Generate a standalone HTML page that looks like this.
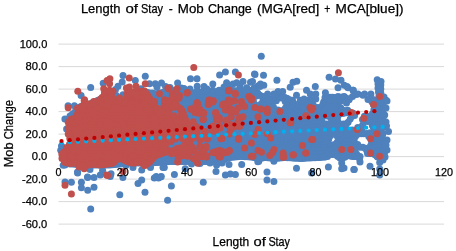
<!DOCTYPE html><html><head><meta charset="utf-8"><title>Length of Stay - Mob Change</title>
<style>html,body{margin:0;padding:0;background:#fff}svg{display:block}text{font-family:"Liberation Sans",sans-serif;fill:#000;stroke:#000;stroke-width:.25px}</style></head><body>
<svg width="456" height="251" viewBox="0 0 456 251">
<rect width="456" height="251" fill="#fff"/>
<rect x="58.5" y="223.60" width="385.5" height="1" fill="#d9d9d9"/>
<rect x="58.5" y="201.10" width="385.5" height="1" fill="#d9d9d9"/>
<rect x="58.5" y="178.60" width="385.5" height="1" fill="#d9d9d9"/>
<rect x="58.5" y="156.10" width="385.5" height="1" fill="#d9d9d9"/>
<rect x="58.5" y="133.60" width="385.5" height="1" fill="#d9d9d9"/>
<rect x="58.5" y="111.10" width="385.5" height="1" fill="#d9d9d9"/>
<rect x="58.5" y="88.60" width="385.5" height="1" fill="#d9d9d9"/>
<rect x="58.5" y="66.10" width="385.5" height="1" fill="#d9d9d9"/>
<rect x="58.5" y="43.60" width="385.5" height="1" fill="#d9d9d9"/>
<g fill="#4f81bd">
<circle cx="177.5" cy="90.2" r="3.5"/>
<circle cx="137.2" cy="92.2" r="3.5"/>
<circle cx="139.8" cy="92.9" r="3.5"/>
<circle cx="142.8" cy="92.5" r="3.5"/>
<circle cx="146.8" cy="92.9" r="3.5"/>
<circle cx="163.0" cy="93.2" r="3.5"/>
<circle cx="166.2" cy="92.6" r="3.5"/>
<circle cx="169.3" cy="92.5" r="3.5"/>
<circle cx="171.9" cy="92.6" r="3.5"/>
<circle cx="175.8" cy="93.2" r="3.5"/>
<circle cx="178.2" cy="92.5" r="3.5"/>
<circle cx="181.5" cy="92.5" r="3.5"/>
<circle cx="184.8" cy="92.6" r="3.5"/>
<circle cx="187.7" cy="92.8" r="3.5"/>
<circle cx="217.0" cy="93.0" r="3.5"/>
<circle cx="219.6" cy="92.2" r="3.5"/>
<circle cx="223.6" cy="93.2" r="3.5"/>
<circle cx="226.0" cy="92.9" r="3.5"/>
<circle cx="229.3" cy="93.0" r="3.5"/>
<circle cx="233.1" cy="92.4" r="3.5"/>
<circle cx="235.8" cy="93.0" r="3.5"/>
<circle cx="239.3" cy="93.0" r="3.5"/>
<circle cx="242.4" cy="92.5" r="3.5"/>
<circle cx="246.3" cy="92.9" r="3.5"/>
<circle cx="248.9" cy="92.7" r="3.5"/>
<circle cx="252.4" cy="92.9" r="3.5"/>
<circle cx="255.8" cy="92.6" r="3.5"/>
<circle cx="128.3" cy="95.5" r="3.5"/>
<circle cx="132.4" cy="95.3" r="3.5"/>
<circle cx="135.4" cy="95.5" r="3.5"/>
<circle cx="137.9" cy="96.2" r="3.5"/>
<circle cx="142.1" cy="95.2" r="3.5"/>
<circle cx="145.0" cy="95.3" r="3.5"/>
<circle cx="148.0" cy="95.6" r="3.5"/>
<circle cx="151.1" cy="95.4" r="3.5"/>
<circle cx="154.4" cy="95.8" r="3.5"/>
<circle cx="157.4" cy="95.2" r="3.5"/>
<circle cx="161.2" cy="95.4" r="3.5"/>
<circle cx="164.6" cy="95.7" r="3.5"/>
<circle cx="167.6" cy="95.4" r="3.5"/>
<circle cx="170.9" cy="95.1" r="3.5"/>
<circle cx="173.3" cy="95.1" r="3.5"/>
<circle cx="177.1" cy="95.8" r="3.5"/>
<circle cx="179.7" cy="95.5" r="3.5"/>
<circle cx="183.7" cy="95.7" r="3.5"/>
<circle cx="186.0" cy="95.3" r="3.5"/>
<circle cx="189.3" cy="95.1" r="3.5"/>
<circle cx="192.8" cy="95.1" r="3.5"/>
<circle cx="196.6" cy="95.5" r="3.5"/>
<circle cx="199.3" cy="95.8" r="3.5"/>
<circle cx="202.8" cy="96.0" r="3.5"/>
<circle cx="205.6" cy="95.4" r="3.5"/>
<circle cx="208.8" cy="95.0" r="3.5"/>
<circle cx="212.0" cy="95.8" r="3.5"/>
<circle cx="215.9" cy="95.9" r="3.5"/>
<circle cx="218.7" cy="95.7" r="3.5"/>
<circle cx="221.1" cy="95.4" r="3.5"/>
<circle cx="224.7" cy="95.8" r="3.5"/>
<circle cx="227.6" cy="95.5" r="3.5"/>
<circle cx="231.3" cy="95.9" r="3.5"/>
<circle cx="234.9" cy="95.7" r="3.5"/>
<circle cx="237.3" cy="95.9" r="3.5"/>
<circle cx="241.4" cy="95.7" r="3.5"/>
<circle cx="243.9" cy="95.6" r="3.5"/>
<circle cx="246.9" cy="95.9" r="3.5"/>
<circle cx="251.1" cy="95.6" r="3.5"/>
<circle cx="254.0" cy="96.0" r="3.5"/>
<circle cx="256.5" cy="96.1" r="3.5"/>
<circle cx="101.6" cy="98.9" r="3.5"/>
<circle cx="104.6" cy="98.8" r="3.5"/>
<circle cx="108.2" cy="99.0" r="3.5"/>
<circle cx="110.8" cy="98.9" r="3.5"/>
<circle cx="114.0" cy="98.5" r="3.5"/>
<circle cx="120.6" cy="98.3" r="3.5"/>
<circle cx="123.9" cy="98.0" r="3.5"/>
<circle cx="127.8" cy="98.9" r="3.5"/>
<circle cx="130.4" cy="98.3" r="3.5"/>
<circle cx="133.8" cy="98.0" r="3.5"/>
<circle cx="136.3" cy="99.0" r="3.5"/>
<circle cx="139.9" cy="98.5" r="3.5"/>
<circle cx="143.8" cy="99.1" r="3.5"/>
<circle cx="146.5" cy="98.1" r="3.5"/>
<circle cx="149.5" cy="99.0" r="3.5"/>
<circle cx="153.4" cy="98.1" r="3.5"/>
<circle cx="156.5" cy="98.3" r="3.5"/>
<circle cx="159.3" cy="98.1" r="3.5"/>
<circle cx="163.0" cy="99.1" r="3.5"/>
<circle cx="165.3" cy="98.7" r="3.5"/>
<circle cx="168.5" cy="99.0" r="3.5"/>
<circle cx="171.6" cy="98.0" r="3.5"/>
<circle cx="175.6" cy="98.3" r="3.5"/>
<circle cx="179.0" cy="98.9" r="3.5"/>
<circle cx="182.0" cy="98.1" r="3.5"/>
<circle cx="185.1" cy="99.0" r="3.5"/>
<circle cx="188.0" cy="98.0" r="3.5"/>
<circle cx="191.0" cy="98.3" r="3.5"/>
<circle cx="194.8" cy="98.1" r="3.5"/>
<circle cx="197.3" cy="98.2" r="3.5"/>
<circle cx="201.1" cy="98.8" r="3.5"/>
<circle cx="203.9" cy="98.7" r="3.5"/>
<circle cx="207.8" cy="98.6" r="3.5"/>
<circle cx="210.2" cy="98.3" r="3.5"/>
<circle cx="214.2" cy="98.7" r="3.5"/>
<circle cx="216.6" cy="98.7" r="3.5"/>
<circle cx="219.6" cy="99.1" r="3.5"/>
<circle cx="223.2" cy="98.5" r="3.5"/>
<circle cx="226.5" cy="98.0" r="3.5"/>
<circle cx="229.8" cy="98.2" r="3.5"/>
<circle cx="232.6" cy="98.9" r="3.5"/>
<circle cx="235.6" cy="98.2" r="3.5"/>
<circle cx="239.6" cy="98.2" r="3.5"/>
<circle cx="242.2" cy="98.6" r="3.5"/>
<circle cx="245.3" cy="99.0" r="3.5"/>
<circle cx="249.5" cy="97.9" r="3.5"/>
<circle cx="252.1" cy="98.8" r="3.5"/>
<circle cx="264.7" cy="98.7" r="3.5"/>
<circle cx="274.7" cy="98.5" r="3.5"/>
<circle cx="278.2" cy="98.1" r="3.5"/>
<circle cx="281.2" cy="98.1" r="3.5"/>
<circle cx="284.2" cy="98.2" r="3.5"/>
<circle cx="287.2" cy="98.8" r="3.5"/>
<circle cx="325.8" cy="98.6" r="3.5"/>
<circle cx="329.2" cy="98.2" r="3.5"/>
<circle cx="331.7" cy="98.3" r="3.5"/>
<circle cx="334.8" cy="98.3" r="3.5"/>
<circle cx="338.6" cy="98.5" r="3.5"/>
<circle cx="341.4" cy="98.6" r="3.5"/>
<circle cx="344.4" cy="98.9" r="3.5"/>
<circle cx="97.3" cy="101.5" r="3.5"/>
<circle cx="100.6" cy="101.4" r="3.5"/>
<circle cx="103.2" cy="101.8" r="3.5"/>
<circle cx="106.4" cy="101.7" r="3.5"/>
<circle cx="109.4" cy="101.2" r="3.5"/>
<circle cx="112.5" cy="101.5" r="3.5"/>
<circle cx="115.7" cy="101.0" r="3.5"/>
<circle cx="119.0" cy="101.4" r="3.5"/>
<circle cx="122.3" cy="101.3" r="3.5"/>
<circle cx="126.3" cy="101.6" r="3.5"/>
<circle cx="129.3" cy="101.0" r="3.5"/>
<circle cx="132.0" cy="100.9" r="3.5"/>
<circle cx="135.5" cy="101.2" r="3.5"/>
<circle cx="138.2" cy="100.8" r="3.5"/>
<circle cx="141.3" cy="101.1" r="3.5"/>
<circle cx="144.8" cy="101.9" r="3.5"/>
<circle cx="148.4" cy="101.1" r="3.5"/>
<circle cx="151.1" cy="101.0" r="3.5"/>
<circle cx="155.0" cy="101.2" r="3.5"/>
<circle cx="158.0" cy="101.7" r="3.5"/>
<circle cx="161.4" cy="100.8" r="3.5"/>
<circle cx="163.9" cy="101.3" r="3.5"/>
<circle cx="166.8" cy="101.9" r="3.5"/>
<circle cx="170.3" cy="101.7" r="3.5"/>
<circle cx="173.7" cy="100.9" r="3.5"/>
<circle cx="176.8" cy="101.1" r="3.5"/>
<circle cx="179.5" cy="101.0" r="3.5"/>
<circle cx="183.4" cy="100.8" r="3.5"/>
<circle cx="186.3" cy="101.3" r="3.5"/>
<circle cx="189.8" cy="101.0" r="3.5"/>
<circle cx="193.1" cy="101.1" r="3.5"/>
<circle cx="196.4" cy="101.6" r="3.5"/>
<circle cx="198.9" cy="101.0" r="3.5"/>
<circle cx="202.2" cy="101.7" r="3.5"/>
<circle cx="205.6" cy="101.3" r="3.5"/>
<circle cx="209.3" cy="101.1" r="3.5"/>
<circle cx="211.9" cy="101.2" r="3.5"/>
<circle cx="215.0" cy="100.8" r="3.5"/>
<circle cx="217.9" cy="101.6" r="3.5"/>
<circle cx="221.8" cy="101.8" r="3.5"/>
<circle cx="225.5" cy="101.2" r="3.5"/>
<circle cx="228.3" cy="101.9" r="3.5"/>
<circle cx="231.0" cy="101.6" r="3.5"/>
<circle cx="234.7" cy="101.9" r="3.5"/>
<circle cx="238.1" cy="101.1" r="3.5"/>
<circle cx="241.1" cy="100.9" r="3.5"/>
<circle cx="244.0" cy="101.3" r="3.5"/>
<circle cx="246.8" cy="101.3" r="3.5"/>
<circle cx="250.3" cy="101.4" r="3.5"/>
<circle cx="253.4" cy="101.0" r="3.5"/>
<circle cx="263.0" cy="100.9" r="3.5"/>
<circle cx="266.3" cy="101.3" r="3.5"/>
<circle cx="269.3" cy="101.5" r="3.5"/>
<circle cx="273.1" cy="101.5" r="3.5"/>
<circle cx="276.3" cy="100.8" r="3.5"/>
<circle cx="285.2" cy="101.4" r="3.5"/>
<circle cx="289.0" cy="101.4" r="3.5"/>
<circle cx="291.9" cy="101.1" r="3.5"/>
<circle cx="301.4" cy="101.6" r="3.5"/>
<circle cx="304.5" cy="101.4" r="3.5"/>
<circle cx="308.2" cy="101.9" r="3.5"/>
<circle cx="311.1" cy="101.5" r="3.5"/>
<circle cx="323.8" cy="101.8" r="3.5"/>
<circle cx="327.8" cy="101.3" r="3.5"/>
<circle cx="331.0" cy="100.8" r="3.5"/>
<circle cx="333.3" cy="101.4" r="3.5"/>
<circle cx="336.7" cy="101.2" r="3.5"/>
<circle cx="340.7" cy="101.0" r="3.5"/>
<circle cx="371.9" cy="101.7" r="3.5"/>
<circle cx="375.5" cy="101.6" r="3.5"/>
<circle cx="379.1" cy="101.8" r="3.5"/>
<circle cx="89.2" cy="104.3" r="3.5"/>
<circle cx="91.7" cy="104.7" r="3.5"/>
<circle cx="95.7" cy="103.8" r="3.5"/>
<circle cx="98.2" cy="104.3" r="3.5"/>
<circle cx="102.1" cy="104.2" r="3.5"/>
<circle cx="105.2" cy="104.0" r="3.5"/>
<circle cx="108.4" cy="104.1" r="3.5"/>
<circle cx="111.1" cy="104.6" r="3.5"/>
<circle cx="114.9" cy="104.7" r="3.5"/>
<circle cx="117.8" cy="104.2" r="3.5"/>
<circle cx="121.1" cy="104.4" r="3.5"/>
<circle cx="124.5" cy="104.7" r="3.5"/>
<circle cx="126.9" cy="104.2" r="3.5"/>
<circle cx="130.7" cy="104.0" r="3.5"/>
<circle cx="133.3" cy="103.7" r="3.5"/>
<circle cx="137.0" cy="104.8" r="3.5"/>
<circle cx="140.7" cy="103.9" r="3.5"/>
<circle cx="143.5" cy="104.2" r="3.5"/>
<circle cx="146.7" cy="104.2" r="3.5"/>
<circle cx="150.2" cy="104.9" r="3.5"/>
<circle cx="152.4" cy="104.6" r="3.5"/>
<circle cx="155.6" cy="103.8" r="3.5"/>
<circle cx="159.0" cy="104.6" r="3.5"/>
<circle cx="163.1" cy="103.8" r="3.5"/>
<circle cx="165.5" cy="103.7" r="3.5"/>
<circle cx="169.0" cy="104.3" r="3.5"/>
<circle cx="171.9" cy="104.1" r="3.5"/>
<circle cx="175.7" cy="104.7" r="3.5"/>
<circle cx="178.2" cy="104.2" r="3.5"/>
<circle cx="181.8" cy="104.6" r="3.5"/>
<circle cx="185.5" cy="104.2" r="3.5"/>
<circle cx="188.3" cy="104.4" r="3.5"/>
<circle cx="191.7" cy="103.9" r="3.5"/>
<circle cx="194.1" cy="103.8" r="3.5"/>
<circle cx="198.2" cy="104.0" r="3.5"/>
<circle cx="200.9" cy="103.8" r="3.5"/>
<circle cx="203.9" cy="103.7" r="3.5"/>
<circle cx="207.4" cy="103.9" r="3.5"/>
<circle cx="210.7" cy="104.0" r="3.5"/>
<circle cx="213.4" cy="104.3" r="3.5"/>
<circle cx="216.7" cy="104.0" r="3.5"/>
<circle cx="219.6" cy="103.8" r="3.5"/>
<circle cx="223.8" cy="104.1" r="3.5"/>
<circle cx="226.0" cy="103.9" r="3.5"/>
<circle cx="229.7" cy="104.9" r="3.5"/>
<circle cx="232.5" cy="104.7" r="3.5"/>
<circle cx="236.1" cy="104.2" r="3.5"/>
<circle cx="239.7" cy="104.2" r="3.5"/>
<circle cx="242.0" cy="104.4" r="3.5"/>
<circle cx="245.9" cy="104.4" r="3.5"/>
<circle cx="248.6" cy="104.8" r="3.5"/>
<circle cx="252.5" cy="104.9" r="3.5"/>
<circle cx="255.2" cy="104.7" r="3.5"/>
<circle cx="261.1" cy="103.9" r="3.5"/>
<circle cx="264.4" cy="103.8" r="3.5"/>
<circle cx="267.9" cy="104.6" r="3.5"/>
<circle cx="271.1" cy="104.3" r="3.5"/>
<circle cx="287.2" cy="104.7" r="3.5"/>
<circle cx="290.9" cy="104.6" r="3.5"/>
<circle cx="294.3" cy="103.8" r="3.5"/>
<circle cx="300.3" cy="104.0" r="3.5"/>
<circle cx="303.8" cy="103.7" r="3.5"/>
<circle cx="306.6" cy="104.0" r="3.5"/>
<circle cx="309.6" cy="104.1" r="3.5"/>
<circle cx="313.1" cy="104.7" r="3.5"/>
<circle cx="323.0" cy="104.1" r="3.5"/>
<circle cx="325.2" cy="104.1" r="3.5"/>
<circle cx="329.2" cy="104.0" r="3.5"/>
<circle cx="332.4" cy="104.4" r="3.5"/>
<circle cx="335.5" cy="103.9" r="3.5"/>
<circle cx="338.0" cy="103.9" r="3.5"/>
<circle cx="373.4" cy="104.5" r="3.5"/>
<circle cx="377.4" cy="104.1" r="3.5"/>
<circle cx="379.7" cy="104.1" r="3.5"/>
<circle cx="81.1" cy="107.1" r="3.5"/>
<circle cx="84.3" cy="107.1" r="3.5"/>
<circle cx="87.2" cy="106.9" r="3.5"/>
<circle cx="90.6" cy="107.3" r="3.5"/>
<circle cx="93.7" cy="106.6" r="3.5"/>
<circle cx="97.1" cy="107.1" r="3.5"/>
<circle cx="100.2" cy="107.3" r="3.5"/>
<circle cx="103.8" cy="106.8" r="3.5"/>
<circle cx="106.5" cy="107.8" r="3.5"/>
<circle cx="110.0" cy="107.0" r="3.5"/>
<circle cx="113.2" cy="107.8" r="3.5"/>
<circle cx="116.0" cy="107.6" r="3.5"/>
<circle cx="118.9" cy="107.8" r="3.5"/>
<circle cx="122.5" cy="106.9" r="3.5"/>
<circle cx="126.1" cy="107.4" r="3.5"/>
<circle cx="129.4" cy="107.6" r="3.5"/>
<circle cx="132.5" cy="107.2" r="3.5"/>
<circle cx="135.9" cy="106.7" r="3.5"/>
<circle cx="138.9" cy="107.5" r="3.5"/>
<circle cx="141.4" cy="107.6" r="3.5"/>
<circle cx="144.8" cy="107.2" r="3.5"/>
<circle cx="148.5" cy="106.8" r="3.5"/>
<circle cx="151.0" cy="107.4" r="3.5"/>
<circle cx="154.0" cy="107.3" r="3.5"/>
<circle cx="158.0" cy="107.2" r="3.5"/>
<circle cx="160.6" cy="107.6" r="3.5"/>
<circle cx="164.5" cy="107.5" r="3.5"/>
<circle cx="167.4" cy="107.7" r="3.5"/>
<circle cx="170.9" cy="106.8" r="3.5"/>
<circle cx="173.5" cy="106.7" r="3.5"/>
<circle cx="176.3" cy="107.0" r="3.5"/>
<circle cx="180.5" cy="107.6" r="3.5"/>
<circle cx="182.8" cy="106.8" r="3.5"/>
<circle cx="186.4" cy="107.6" r="3.5"/>
<circle cx="189.8" cy="107.7" r="3.5"/>
<circle cx="192.4" cy="107.8" r="3.5"/>
<circle cx="195.7" cy="107.4" r="3.5"/>
<circle cx="199.8" cy="107.5" r="3.5"/>
<circle cx="202.1" cy="107.4" r="3.5"/>
<circle cx="205.6" cy="106.6" r="3.5"/>
<circle cx="208.7" cy="107.0" r="3.5"/>
<circle cx="212.3" cy="106.9" r="3.5"/>
<circle cx="215.4" cy="107.4" r="3.5"/>
<circle cx="218.1" cy="106.8" r="3.5"/>
<circle cx="221.9" cy="107.2" r="3.5"/>
<circle cx="224.5" cy="106.7" r="3.5"/>
<circle cx="228.6" cy="107.3" r="3.5"/>
<circle cx="231.1" cy="106.8" r="3.5"/>
<circle cx="235.1" cy="107.4" r="3.5"/>
<circle cx="238.0" cy="107.0" r="3.5"/>
<circle cx="240.7" cy="107.1" r="3.5"/>
<circle cx="243.7" cy="107.4" r="3.5"/>
<circle cx="247.2" cy="107.6" r="3.5"/>
<circle cx="250.4" cy="107.1" r="3.5"/>
<circle cx="253.7" cy="107.7" r="3.5"/>
<circle cx="256.7" cy="107.4" r="3.5"/>
<circle cx="259.8" cy="107.3" r="3.5"/>
<circle cx="263.0" cy="107.6" r="3.5"/>
<circle cx="266.2" cy="107.6" r="3.5"/>
<circle cx="269.9" cy="107.1" r="3.5"/>
<circle cx="273.4" cy="107.1" r="3.5"/>
<circle cx="285.6" cy="107.7" r="3.5"/>
<circle cx="288.7" cy="107.4" r="3.5"/>
<circle cx="292.3" cy="106.9" r="3.5"/>
<circle cx="295.2" cy="106.8" r="3.5"/>
<circle cx="299.0" cy="106.9" r="3.5"/>
<circle cx="301.6" cy="107.0" r="3.5"/>
<circle cx="305.3" cy="107.6" r="3.5"/>
<circle cx="308.2" cy="107.3" r="3.5"/>
<circle cx="310.8" cy="107.7" r="3.5"/>
<circle cx="314.0" cy="107.0" r="3.5"/>
<circle cx="317.5" cy="107.5" r="3.5"/>
<circle cx="321.1" cy="107.0" r="3.5"/>
<circle cx="324.6" cy="107.7" r="3.5"/>
<circle cx="326.7" cy="107.4" r="3.5"/>
<circle cx="330.5" cy="107.0" r="3.5"/>
<circle cx="333.7" cy="107.0" r="3.5"/>
<circle cx="337.1" cy="107.3" r="3.5"/>
<circle cx="340.7" cy="107.8" r="3.5"/>
<circle cx="375.4" cy="107.5" r="3.5"/>
<circle cx="378.2" cy="107.6" r="3.5"/>
<circle cx="382.0" cy="107.5" r="3.5"/>
<circle cx="384.4" cy="107.2" r="3.5"/>
<circle cx="79.1" cy="110.1" r="3.5"/>
<circle cx="82.0" cy="110.2" r="3.5"/>
<circle cx="85.3" cy="109.6" r="3.5"/>
<circle cx="88.9" cy="109.9" r="3.5"/>
<circle cx="92.4" cy="109.8" r="3.5"/>
<circle cx="95.2" cy="109.6" r="3.5"/>
<circle cx="98.2" cy="110.0" r="3.5"/>
<circle cx="101.8" cy="110.1" r="3.5"/>
<circle cx="105.3" cy="109.6" r="3.5"/>
<circle cx="108.5" cy="109.7" r="3.5"/>
<circle cx="111.9" cy="110.1" r="3.5"/>
<circle cx="114.4" cy="110.2" r="3.5"/>
<circle cx="118.1" cy="110.7" r="3.5"/>
<circle cx="120.8" cy="109.5" r="3.5"/>
<circle cx="123.7" cy="110.5" r="3.5"/>
<circle cx="127.6" cy="110.4" r="3.5"/>
<circle cx="130.1" cy="110.1" r="3.5"/>
<circle cx="133.1" cy="109.6" r="3.5"/>
<circle cx="136.7" cy="110.7" r="3.5"/>
<circle cx="140.3" cy="110.5" r="3.5"/>
<circle cx="142.8" cy="110.0" r="3.5"/>
<circle cx="146.0" cy="109.8" r="3.5"/>
<circle cx="149.2" cy="110.6" r="3.5"/>
<circle cx="152.7" cy="110.1" r="3.5"/>
<circle cx="156.3" cy="110.6" r="3.5"/>
<circle cx="159.8" cy="110.2" r="3.5"/>
<circle cx="162.5" cy="110.6" r="3.5"/>
<circle cx="165.6" cy="109.9" r="3.5"/>
<circle cx="169.2" cy="109.8" r="3.5"/>
<circle cx="171.9" cy="110.0" r="3.5"/>
<circle cx="175.3" cy="109.9" r="3.5"/>
<circle cx="178.4" cy="110.0" r="3.5"/>
<circle cx="181.2" cy="110.5" r="3.5"/>
<circle cx="184.4" cy="110.1" r="3.5"/>
<circle cx="188.2" cy="110.0" r="3.5"/>
<circle cx="191.0" cy="109.6" r="3.5"/>
<circle cx="194.3" cy="109.9" r="3.5"/>
<circle cx="197.7" cy="109.8" r="3.5"/>
<circle cx="201.2" cy="110.1" r="3.5"/>
<circle cx="203.5" cy="110.0" r="3.5"/>
<circle cx="207.9" cy="109.5" r="3.5"/>
<circle cx="210.6" cy="110.7" r="3.5"/>
<circle cx="213.5" cy="110.2" r="3.5"/>
<circle cx="216.7" cy="109.9" r="3.5"/>
<circle cx="220.2" cy="110.2" r="3.5"/>
<circle cx="223.1" cy="110.1" r="3.5"/>
<circle cx="226.5" cy="110.4" r="3.5"/>
<circle cx="229.2" cy="109.6" r="3.5"/>
<circle cx="232.6" cy="109.8" r="3.5"/>
<circle cx="236.5" cy="110.0" r="3.5"/>
<circle cx="239.7" cy="110.0" r="3.5"/>
<circle cx="242.2" cy="110.3" r="3.5"/>
<circle cx="245.2" cy="110.7" r="3.5"/>
<circle cx="249.3" cy="109.9" r="3.5"/>
<circle cx="251.9" cy="110.5" r="3.5"/>
<circle cx="255.6" cy="110.3" r="3.5"/>
<circle cx="258.0" cy="110.4" r="3.5"/>
<circle cx="261.2" cy="110.2" r="3.5"/>
<circle cx="265.0" cy="110.6" r="3.5"/>
<circle cx="268.3" cy="109.5" r="3.5"/>
<circle cx="271.8" cy="110.4" r="3.5"/>
<circle cx="274.6" cy="109.5" r="3.5"/>
<circle cx="278.0" cy="110.0" r="3.5"/>
<circle cx="281.1" cy="110.7" r="3.5"/>
<circle cx="284.6" cy="109.6" r="3.5"/>
<circle cx="287.6" cy="110.0" r="3.5"/>
<circle cx="290.8" cy="110.0" r="3.5"/>
<circle cx="293.6" cy="110.0" r="3.5"/>
<circle cx="296.4" cy="109.9" r="3.5"/>
<circle cx="300.4" cy="109.6" r="3.5"/>
<circle cx="302.8" cy="110.5" r="3.5"/>
<circle cx="306.7" cy="110.2" r="3.5"/>
<circle cx="309.2" cy="109.6" r="3.5"/>
<circle cx="312.7" cy="110.6" r="3.5"/>
<circle cx="316.2" cy="110.6" r="3.5"/>
<circle cx="319.0" cy="110.0" r="3.5"/>
<circle cx="322.5" cy="110.5" r="3.5"/>
<circle cx="325.2" cy="110.5" r="3.5"/>
<circle cx="328.9" cy="109.5" r="3.5"/>
<circle cx="332.0" cy="110.0" r="3.5"/>
<circle cx="335.5" cy="110.6" r="3.5"/>
<circle cx="338.5" cy="110.3" r="3.5"/>
<circle cx="341.6" cy="110.4" r="3.5"/>
<circle cx="344.4" cy="110.4" r="3.5"/>
<circle cx="347.7" cy="110.2" r="3.5"/>
<circle cx="373.9" cy="109.8" r="3.5"/>
<circle cx="376.6" cy="110.4" r="3.5"/>
<circle cx="380.2" cy="109.8" r="3.5"/>
<circle cx="382.8" cy="110.5" r="3.5"/>
<circle cx="74.5" cy="112.7" r="3.5"/>
<circle cx="78.0" cy="112.5" r="3.5"/>
<circle cx="80.7" cy="113.4" r="3.5"/>
<circle cx="83.5" cy="113.2" r="3.5"/>
<circle cx="87.4" cy="113.1" r="3.5"/>
<circle cx="90.3" cy="112.6" r="3.5"/>
<circle cx="94.2" cy="113.3" r="3.5"/>
<circle cx="97.3" cy="112.5" r="3.5"/>
<circle cx="100.4" cy="112.7" r="3.5"/>
<circle cx="102.9" cy="113.0" r="3.5"/>
<circle cx="106.6" cy="112.5" r="3.5"/>
<circle cx="110.0" cy="113.1" r="3.5"/>
<circle cx="113.4" cy="113.5" r="3.5"/>
<circle cx="116.3" cy="112.8" r="3.5"/>
<circle cx="119.8" cy="113.3" r="3.5"/>
<circle cx="122.2" cy="113.4" r="3.5"/>
<circle cx="126.0" cy="112.7" r="3.5"/>
<circle cx="128.6" cy="112.4" r="3.5"/>
<circle cx="132.1" cy="112.7" r="3.5"/>
<circle cx="135.1" cy="112.7" r="3.5"/>
<circle cx="138.1" cy="113.0" r="3.5"/>
<circle cx="141.4" cy="112.7" r="3.5"/>
<circle cx="144.6" cy="113.0" r="3.5"/>
<circle cx="148.5" cy="112.6" r="3.5"/>
<circle cx="151.7" cy="113.4" r="3.5"/>
<circle cx="154.6" cy="113.1" r="3.5"/>
<circle cx="158.0" cy="113.0" r="3.5"/>
<circle cx="161.1" cy="113.5" r="3.5"/>
<circle cx="164.4" cy="112.7" r="3.5"/>
<circle cx="166.8" cy="113.5" r="3.5"/>
<circle cx="170.3" cy="113.3" r="3.5"/>
<circle cx="173.4" cy="112.9" r="3.5"/>
<circle cx="176.7" cy="113.3" r="3.5"/>
<circle cx="180.6" cy="113.0" r="3.5"/>
<circle cx="183.4" cy="112.8" r="3.5"/>
<circle cx="186.2" cy="113.5" r="3.5"/>
<circle cx="189.2" cy="113.5" r="3.5"/>
<circle cx="193.1" cy="112.5" r="3.5"/>
<circle cx="196.6" cy="112.5" r="3.5"/>
<circle cx="199.4" cy="112.5" r="3.5"/>
<circle cx="203.1" cy="112.8" r="3.5"/>
<circle cx="206.1" cy="112.5" r="3.5"/>
<circle cx="209.1" cy="112.5" r="3.5"/>
<circle cx="211.5" cy="113.1" r="3.5"/>
<circle cx="215.9" cy="113.2" r="3.5"/>
<circle cx="218.9" cy="113.3" r="3.5"/>
<circle cx="221.7" cy="112.5" r="3.5"/>
<circle cx="224.9" cy="112.6" r="3.5"/>
<circle cx="228.1" cy="112.8" r="3.5"/>
<circle cx="231.3" cy="112.6" r="3.5"/>
<circle cx="234.7" cy="112.9" r="3.5"/>
<circle cx="237.7" cy="112.5" r="3.5"/>
<circle cx="240.9" cy="113.1" r="3.5"/>
<circle cx="244.7" cy="113.1" r="3.5"/>
<circle cx="246.9" cy="112.8" r="3.5"/>
<circle cx="250.3" cy="113.2" r="3.5"/>
<circle cx="254.2" cy="113.6" r="3.5"/>
<circle cx="257.4" cy="113.5" r="3.5"/>
<circle cx="260.5" cy="113.5" r="3.5"/>
<circle cx="262.7" cy="113.0" r="3.5"/>
<circle cx="266.6" cy="113.2" r="3.5"/>
<circle cx="269.8" cy="113.1" r="3.5"/>
<circle cx="273.4" cy="112.5" r="3.5"/>
<circle cx="276.1" cy="113.6" r="3.5"/>
<circle cx="278.7" cy="112.5" r="3.5"/>
<circle cx="282.9" cy="113.5" r="3.5"/>
<circle cx="285.1" cy="112.4" r="3.5"/>
<circle cx="289.3" cy="113.2" r="3.5"/>
<circle cx="292.1" cy="113.1" r="3.5"/>
<circle cx="295.6" cy="113.4" r="3.5"/>
<circle cx="297.9" cy="112.5" r="3.5"/>
<circle cx="302.1" cy="113.6" r="3.5"/>
<circle cx="305.3" cy="112.9" r="3.5"/>
<circle cx="307.9" cy="112.8" r="3.5"/>
<circle cx="310.7" cy="113.3" r="3.5"/>
<circle cx="314.2" cy="113.1" r="3.5"/>
<circle cx="317.7" cy="112.8" r="3.5"/>
<circle cx="321.1" cy="112.9" r="3.5"/>
<circle cx="323.8" cy="113.5" r="3.5"/>
<circle cx="326.9" cy="112.6" r="3.5"/>
<circle cx="330.2" cy="113.0" r="3.5"/>
<circle cx="334.0" cy="112.8" r="3.5"/>
<circle cx="336.6" cy="113.2" r="3.5"/>
<circle cx="339.8" cy="113.0" r="3.5"/>
<circle cx="343.0" cy="113.5" r="3.5"/>
<circle cx="346.1" cy="112.7" r="3.5"/>
<circle cx="349.5" cy="112.8" r="3.5"/>
<circle cx="353.2" cy="113.2" r="3.5"/>
<circle cx="372.6" cy="113.6" r="3.5"/>
<circle cx="375.2" cy="112.6" r="3.5"/>
<circle cx="378.8" cy="113.3" r="3.5"/>
<circle cx="381.5" cy="113.3" r="3.5"/>
<circle cx="72.8" cy="115.4" r="3.5"/>
<circle cx="76.6" cy="115.5" r="3.5"/>
<circle cx="78.9" cy="116.4" r="3.5"/>
<circle cx="83.1" cy="116.4" r="3.5"/>
<circle cx="85.5" cy="116.4" r="3.5"/>
<circle cx="88.5" cy="116.2" r="3.5"/>
<circle cx="92.6" cy="115.5" r="3.5"/>
<circle cx="94.9" cy="116.1" r="3.5"/>
<circle cx="99.0" cy="116.2" r="3.5"/>
<circle cx="102.2" cy="115.8" r="3.5"/>
<circle cx="104.7" cy="115.4" r="3.5"/>
<circle cx="107.8" cy="116.4" r="3.5"/>
<circle cx="110.8" cy="115.5" r="3.5"/>
<circle cx="114.3" cy="115.4" r="3.5"/>
<circle cx="117.5" cy="115.5" r="3.5"/>
<circle cx="120.4" cy="115.9" r="3.5"/>
<circle cx="124.1" cy="116.0" r="3.5"/>
<circle cx="127.6" cy="115.9" r="3.5"/>
<circle cx="131.0" cy="115.4" r="3.5"/>
<circle cx="133.4" cy="115.4" r="3.5"/>
<circle cx="136.7" cy="116.2" r="3.5"/>
<circle cx="140.6" cy="115.9" r="3.5"/>
<circle cx="142.9" cy="115.7" r="3.5"/>
<circle cx="146.6" cy="115.7" r="3.5"/>
<circle cx="150.1" cy="116.5" r="3.5"/>
<circle cx="152.9" cy="116.0" r="3.5"/>
<circle cx="156.5" cy="115.9" r="3.5"/>
<circle cx="158.9" cy="116.4" r="3.5"/>
<circle cx="163.1" cy="115.3" r="3.5"/>
<circle cx="166.0" cy="115.8" r="3.5"/>
<circle cx="168.4" cy="115.5" r="3.5"/>
<circle cx="171.7" cy="116.2" r="3.5"/>
<circle cx="175.0" cy="115.3" r="3.5"/>
<circle cx="178.2" cy="116.3" r="3.5"/>
<circle cx="181.7" cy="116.1" r="3.5"/>
<circle cx="184.9" cy="115.5" r="3.5"/>
<circle cx="187.5" cy="115.7" r="3.5"/>
<circle cx="190.7" cy="115.6" r="3.5"/>
<circle cx="194.6" cy="115.7" r="3.5"/>
<circle cx="197.7" cy="116.0" r="3.5"/>
<circle cx="200.7" cy="115.7" r="3.5"/>
<circle cx="204.6" cy="116.0" r="3.5"/>
<circle cx="207.2" cy="115.9" r="3.5"/>
<circle cx="210.5" cy="115.7" r="3.5"/>
<circle cx="214.2" cy="115.6" r="3.5"/>
<circle cx="217.4" cy="116.3" r="3.5"/>
<circle cx="220.6" cy="115.5" r="3.5"/>
<circle cx="223.3" cy="116.5" r="3.5"/>
<circle cx="226.2" cy="115.5" r="3.5"/>
<circle cx="230.0" cy="115.6" r="3.5"/>
<circle cx="233.0" cy="115.5" r="3.5"/>
<circle cx="236.6" cy="115.6" r="3.5"/>
<circle cx="238.8" cy="116.1" r="3.5"/>
<circle cx="242.3" cy="116.0" r="3.5"/>
<circle cx="245.7" cy="116.4" r="3.5"/>
<circle cx="248.9" cy="115.8" r="3.5"/>
<circle cx="251.5" cy="115.9" r="3.5"/>
<circle cx="255.0" cy="116.0" r="3.5"/>
<circle cx="258.7" cy="115.9" r="3.5"/>
<circle cx="261.2" cy="115.9" r="3.5"/>
<circle cx="264.9" cy="116.1" r="3.5"/>
<circle cx="268.7" cy="115.6" r="3.5"/>
<circle cx="271.2" cy="115.4" r="3.5"/>
<circle cx="274.9" cy="115.6" r="3.5"/>
<circle cx="278.1" cy="116.3" r="3.5"/>
<circle cx="280.6" cy="116.4" r="3.5"/>
<circle cx="284.1" cy="115.8" r="3.5"/>
<circle cx="287.4" cy="116.4" r="3.5"/>
<circle cx="290.5" cy="115.9" r="3.5"/>
<circle cx="293.4" cy="116.3" r="3.5"/>
<circle cx="296.9" cy="115.7" r="3.5"/>
<circle cx="299.7" cy="115.6" r="3.5"/>
<circle cx="303.7" cy="116.3" r="3.5"/>
<circle cx="307.1" cy="116.4" r="3.5"/>
<circle cx="309.9" cy="116.3" r="3.5"/>
<circle cx="313.2" cy="116.3" r="3.5"/>
<circle cx="316.5" cy="115.5" r="3.5"/>
<circle cx="319.7" cy="115.7" r="3.5"/>
<circle cx="322.2" cy="116.4" r="3.5"/>
<circle cx="325.1" cy="115.9" r="3.5"/>
<circle cx="328.7" cy="116.3" r="3.5"/>
<circle cx="332.2" cy="116.4" r="3.5"/>
<circle cx="335.8" cy="116.1" r="3.5"/>
<circle cx="338.0" cy="116.1" r="3.5"/>
<circle cx="351.6" cy="116.5" r="3.5"/>
<circle cx="354.6" cy="115.5" r="3.5"/>
<circle cx="364.4" cy="116.3" r="3.5"/>
<circle cx="367.4" cy="116.4" r="3.5"/>
<circle cx="370.7" cy="115.9" r="3.5"/>
<circle cx="373.6" cy="115.7" r="3.5"/>
<circle cx="376.3" cy="115.5" r="3.5"/>
<circle cx="380.5" cy="115.6" r="3.5"/>
<circle cx="383.5" cy="116.2" r="3.5"/>
<circle cx="71.5" cy="119.3" r="3.5"/>
<circle cx="74.3" cy="119.3" r="3.5"/>
<circle cx="78.2" cy="118.5" r="3.5"/>
<circle cx="81.4" cy="118.9" r="3.5"/>
<circle cx="84.7" cy="119.1" r="3.5"/>
<circle cx="87.1" cy="118.5" r="3.5"/>
<circle cx="90.5" cy="118.8" r="3.5"/>
<circle cx="93.1" cy="119.2" r="3.5"/>
<circle cx="96.9" cy="118.8" r="3.5"/>
<circle cx="100.4" cy="118.5" r="3.5"/>
<circle cx="102.9" cy="118.9" r="3.5"/>
<circle cx="106.2" cy="118.6" r="3.5"/>
<circle cx="109.2" cy="118.3" r="3.5"/>
<circle cx="112.7" cy="118.8" r="3.5"/>
<circle cx="116.6" cy="119.0" r="3.5"/>
<circle cx="119.2" cy="118.7" r="3.5"/>
<circle cx="122.2" cy="118.8" r="3.5"/>
<circle cx="126.3" cy="118.3" r="3.5"/>
<circle cx="128.8" cy="119.0" r="3.5"/>
<circle cx="132.4" cy="118.9" r="3.5"/>
<circle cx="135.5" cy="119.3" r="3.5"/>
<circle cx="139.0" cy="118.5" r="3.5"/>
<circle cx="141.7" cy="119.4" r="3.5"/>
<circle cx="144.9" cy="118.4" r="3.5"/>
<circle cx="148.4" cy="118.3" r="3.5"/>
<circle cx="150.9" cy="118.9" r="3.5"/>
<circle cx="154.2" cy="119.1" r="3.5"/>
<circle cx="158.0" cy="118.6" r="3.5"/>
<circle cx="161.2" cy="119.0" r="3.5"/>
<circle cx="164.3" cy="118.7" r="3.5"/>
<circle cx="167.2" cy="118.3" r="3.5"/>
<circle cx="170.5" cy="119.3" r="3.5"/>
<circle cx="174.2" cy="118.3" r="3.5"/>
<circle cx="176.4" cy="118.5" r="3.5"/>
<circle cx="180.3" cy="118.7" r="3.5"/>
<circle cx="182.9" cy="118.7" r="3.5"/>
<circle cx="186.6" cy="119.1" r="3.5"/>
<circle cx="189.6" cy="119.0" r="3.5"/>
<circle cx="193.1" cy="118.9" r="3.5"/>
<circle cx="195.6" cy="119.1" r="3.5"/>
<circle cx="198.9" cy="118.3" r="3.5"/>
<circle cx="202.5" cy="118.2" r="3.5"/>
<circle cx="205.2" cy="118.7" r="3.5"/>
<circle cx="208.9" cy="118.3" r="3.5"/>
<circle cx="212.6" cy="119.2" r="3.5"/>
<circle cx="215.3" cy="118.9" r="3.5"/>
<circle cx="218.3" cy="119.4" r="3.5"/>
<circle cx="221.2" cy="118.6" r="3.5"/>
<circle cx="224.6" cy="119.2" r="3.5"/>
<circle cx="228.1" cy="118.7" r="3.5"/>
<circle cx="231.2" cy="119.3" r="3.5"/>
<circle cx="234.2" cy="119.1" r="3.5"/>
<circle cx="237.9" cy="118.7" r="3.5"/>
<circle cx="240.7" cy="118.7" r="3.5"/>
<circle cx="244.0" cy="118.6" r="3.5"/>
<circle cx="247.4" cy="118.7" r="3.5"/>
<circle cx="250.3" cy="119.1" r="3.5"/>
<circle cx="253.6" cy="118.8" r="3.5"/>
<circle cx="257.4" cy="118.7" r="3.5"/>
<circle cx="260.0" cy="119.3" r="3.5"/>
<circle cx="263.9" cy="119.1" r="3.5"/>
<circle cx="266.4" cy="119.0" r="3.5"/>
<circle cx="270.0" cy="118.6" r="3.5"/>
<circle cx="273.2" cy="119.3" r="3.5"/>
<circle cx="276.3" cy="119.0" r="3.5"/>
<circle cx="279.2" cy="119.0" r="3.5"/>
<circle cx="282.2" cy="119.1" r="3.5"/>
<circle cx="285.7" cy="119.4" r="3.5"/>
<circle cx="288.7" cy="119.1" r="3.5"/>
<circle cx="291.5" cy="118.7" r="3.5"/>
<circle cx="295.6" cy="118.5" r="3.5"/>
<circle cx="298.6" cy="118.5" r="3.5"/>
<circle cx="301.6" cy="119.4" r="3.5"/>
<circle cx="304.5" cy="119.3" r="3.5"/>
<circle cx="307.6" cy="118.9" r="3.5"/>
<circle cx="311.7" cy="119.2" r="3.5"/>
<circle cx="314.4" cy="118.9" r="3.5"/>
<circle cx="318.0" cy="119.1" r="3.5"/>
<circle cx="321.2" cy="118.9" r="3.5"/>
<circle cx="331.1" cy="118.4" r="3.5"/>
<circle cx="334.0" cy="118.6" r="3.5"/>
<circle cx="337.2" cy="119.3" r="3.5"/>
<circle cx="350.2" cy="119.0" r="3.5"/>
<circle cx="362.5" cy="119.4" r="3.5"/>
<circle cx="365.8" cy="119.3" r="3.5"/>
<circle cx="368.7" cy="119.1" r="3.5"/>
<circle cx="371.6" cy="118.6" r="3.5"/>
<circle cx="375.5" cy="119.0" r="3.5"/>
<circle cx="378.9" cy="118.7" r="3.5"/>
<circle cx="381.4" cy="118.6" r="3.5"/>
<circle cx="70.1" cy="122.2" r="3.5"/>
<circle cx="72.6" cy="121.3" r="3.5"/>
<circle cx="75.6" cy="121.2" r="3.5"/>
<circle cx="79.7" cy="122.0" r="3.5"/>
<circle cx="82.2" cy="121.7" r="3.5"/>
<circle cx="85.9" cy="121.1" r="3.5"/>
<circle cx="89.3" cy="122.1" r="3.5"/>
<circle cx="91.8" cy="121.9" r="3.5"/>
<circle cx="95.5" cy="121.5" r="3.5"/>
<circle cx="99.0" cy="121.4" r="3.5"/>
<circle cx="101.7" cy="121.5" r="3.5"/>
<circle cx="104.8" cy="122.1" r="3.5"/>
<circle cx="108.2" cy="121.8" r="3.5"/>
<circle cx="111.9" cy="121.4" r="3.5"/>
<circle cx="114.2" cy="121.8" r="3.5"/>
<circle cx="117.3" cy="122.3" r="3.5"/>
<circle cx="120.7" cy="121.6" r="3.5"/>
<circle cx="124.0" cy="122.1" r="3.5"/>
<circle cx="127.8" cy="121.9" r="3.5"/>
<circle cx="130.1" cy="121.5" r="3.5"/>
<circle cx="133.9" cy="121.4" r="3.5"/>
<circle cx="137.4" cy="122.1" r="3.5"/>
<circle cx="139.8" cy="121.5" r="3.5"/>
<circle cx="143.0" cy="122.0" r="3.5"/>
<circle cx="146.0" cy="121.9" r="3.5"/>
<circle cx="149.2" cy="122.1" r="3.5"/>
<circle cx="153.0" cy="121.8" r="3.5"/>
<circle cx="155.6" cy="121.2" r="3.5"/>
<circle cx="159.1" cy="122.3" r="3.5"/>
<circle cx="162.6" cy="122.1" r="3.5"/>
<circle cx="165.2" cy="121.2" r="3.5"/>
<circle cx="168.3" cy="121.9" r="3.5"/>
<circle cx="171.7" cy="121.4" r="3.5"/>
<circle cx="175.5" cy="121.9" r="3.5"/>
<circle cx="178.3" cy="121.7" r="3.5"/>
<circle cx="181.4" cy="121.8" r="3.5"/>
<circle cx="184.7" cy="121.5" r="3.5"/>
<circle cx="187.8" cy="121.5" r="3.5"/>
<circle cx="191.0" cy="121.1" r="3.5"/>
<circle cx="194.3" cy="121.8" r="3.5"/>
<circle cx="197.4" cy="121.2" r="3.5"/>
<circle cx="201.3" cy="121.7" r="3.5"/>
<circle cx="204.1" cy="121.5" r="3.5"/>
<circle cx="207.8" cy="122.0" r="3.5"/>
<circle cx="210.6" cy="121.9" r="3.5"/>
<circle cx="213.9" cy="121.7" r="3.5"/>
<circle cx="216.8" cy="121.6" r="3.5"/>
<circle cx="220.1" cy="121.7" r="3.5"/>
<circle cx="223.3" cy="121.7" r="3.5"/>
<circle cx="226.8" cy="122.2" r="3.5"/>
<circle cx="229.4" cy="121.1" r="3.5"/>
<circle cx="232.7" cy="121.1" r="3.5"/>
<circle cx="236.5" cy="121.8" r="3.5"/>
<circle cx="239.0" cy="121.3" r="3.5"/>
<circle cx="242.9" cy="122.1" r="3.5"/>
<circle cx="245.9" cy="121.9" r="3.5"/>
<circle cx="249.2" cy="121.6" r="3.5"/>
<circle cx="252.0" cy="121.8" r="3.5"/>
<circle cx="255.8" cy="122.3" r="3.5"/>
<circle cx="259.0" cy="122.1" r="3.5"/>
<circle cx="261.2" cy="121.4" r="3.5"/>
<circle cx="265.5" cy="121.8" r="3.5"/>
<circle cx="268.1" cy="121.5" r="3.5"/>
<circle cx="271.7" cy="121.7" r="3.5"/>
<circle cx="275.1" cy="121.2" r="3.5"/>
<circle cx="278.3" cy="121.1" r="3.5"/>
<circle cx="280.5" cy="121.6" r="3.5"/>
<circle cx="284.3" cy="121.2" r="3.5"/>
<circle cx="287.4" cy="122.2" r="3.5"/>
<circle cx="290.4" cy="122.0" r="3.5"/>
<circle cx="293.8" cy="121.8" r="3.5"/>
<circle cx="296.5" cy="121.7" r="3.5"/>
<circle cx="300.6" cy="121.9" r="3.5"/>
<circle cx="303.0" cy="121.6" r="3.5"/>
<circle cx="306.6" cy="121.5" r="3.5"/>
<circle cx="309.8" cy="121.9" r="3.5"/>
<circle cx="312.3" cy="121.4" r="3.5"/>
<circle cx="316.3" cy="121.4" r="3.5"/>
<circle cx="318.8" cy="122.0" r="3.5"/>
<circle cx="322.3" cy="122.2" r="3.5"/>
<circle cx="332.5" cy="122.0" r="3.5"/>
<circle cx="335.6" cy="121.2" r="3.5"/>
<circle cx="337.9" cy="122.1" r="3.5"/>
<circle cx="348.1" cy="122.2" r="3.5"/>
<circle cx="364.2" cy="121.6" r="3.5"/>
<circle cx="367.7" cy="121.4" r="3.5"/>
<circle cx="370.8" cy="121.3" r="3.5"/>
<circle cx="373.7" cy="122.3" r="3.5"/>
<circle cx="376.6" cy="121.4" r="3.5"/>
<circle cx="380.6" cy="121.9" r="3.5"/>
<circle cx="382.8" cy="121.3" r="3.5"/>
<circle cx="71.5" cy="124.5" r="3.5"/>
<circle cx="74.8" cy="124.6" r="3.5"/>
<circle cx="77.2" cy="124.6" r="3.5"/>
<circle cx="80.8" cy="124.6" r="3.5"/>
<circle cx="83.6" cy="124.0" r="3.5"/>
<circle cx="87.9" cy="124.4" r="3.5"/>
<circle cx="90.3" cy="124.2" r="3.5"/>
<circle cx="93.8" cy="125.1" r="3.5"/>
<circle cx="96.5" cy="124.6" r="3.5"/>
<circle cx="100.1" cy="124.9" r="3.5"/>
<circle cx="103.4" cy="124.3" r="3.5"/>
<circle cx="106.1" cy="124.9" r="3.5"/>
<circle cx="109.2" cy="125.0" r="3.5"/>
<circle cx="112.3" cy="124.2" r="3.5"/>
<circle cx="116.1" cy="125.0" r="3.5"/>
<circle cx="119.4" cy="124.9" r="3.5"/>
<circle cx="122.8" cy="124.9" r="3.5"/>
<circle cx="125.2" cy="125.0" r="3.5"/>
<circle cx="128.5" cy="124.2" r="3.5"/>
<circle cx="131.5" cy="124.0" r="3.5"/>
<circle cx="135.8" cy="124.5" r="3.5"/>
<circle cx="138.0" cy="124.1" r="3.5"/>
<circle cx="142.1" cy="124.7" r="3.5"/>
<circle cx="145.4" cy="124.0" r="3.5"/>
<circle cx="147.6" cy="124.3" r="3.5"/>
<circle cx="150.9" cy="124.1" r="3.5"/>
<circle cx="154.1" cy="124.8" r="3.5"/>
<circle cx="157.3" cy="124.2" r="3.5"/>
<circle cx="160.9" cy="124.5" r="3.5"/>
<circle cx="163.7" cy="124.7" r="3.5"/>
<circle cx="167.3" cy="124.5" r="3.5"/>
<circle cx="170.5" cy="124.0" r="3.5"/>
<circle cx="173.8" cy="124.2" r="3.5"/>
<circle cx="176.7" cy="124.0" r="3.5"/>
<circle cx="180.6" cy="124.7" r="3.5"/>
<circle cx="183.2" cy="124.7" r="3.5"/>
<circle cx="187.0" cy="124.2" r="3.5"/>
<circle cx="189.6" cy="124.8" r="3.5"/>
<circle cx="192.7" cy="124.8" r="3.5"/>
<circle cx="196.6" cy="124.0" r="3.5"/>
<circle cx="199.0" cy="124.4" r="3.5"/>
<circle cx="202.8" cy="124.9" r="3.5"/>
<circle cx="205.9" cy="125.1" r="3.5"/>
<circle cx="208.5" cy="124.5" r="3.5"/>
<circle cx="212.5" cy="124.9" r="3.5"/>
<circle cx="214.8" cy="125.2" r="3.5"/>
<circle cx="218.8" cy="125.0" r="3.5"/>
<circle cx="221.5" cy="124.7" r="3.5"/>
<circle cx="225.5" cy="125.1" r="3.5"/>
<circle cx="228.2" cy="125.1" r="3.5"/>
<circle cx="231.9" cy="125.0" r="3.5"/>
<circle cx="234.7" cy="125.2" r="3.5"/>
<circle cx="237.3" cy="124.5" r="3.5"/>
<circle cx="241.0" cy="124.2" r="3.5"/>
<circle cx="244.4" cy="124.1" r="3.5"/>
<circle cx="247.5" cy="124.3" r="3.5"/>
<circle cx="250.3" cy="124.7" r="3.5"/>
<circle cx="253.3" cy="124.5" r="3.5"/>
<circle cx="257.3" cy="125.2" r="3.5"/>
<circle cx="259.8" cy="124.4" r="3.5"/>
<circle cx="263.5" cy="124.2" r="3.5"/>
<circle cx="266.9" cy="124.2" r="3.5"/>
<circle cx="269.8" cy="124.4" r="3.5"/>
<circle cx="272.3" cy="124.0" r="3.5"/>
<circle cx="275.5" cy="124.4" r="3.5"/>
<circle cx="279.0" cy="125.2" r="3.5"/>
<circle cx="282.7" cy="124.1" r="3.5"/>
<circle cx="286.0" cy="124.3" r="3.5"/>
<circle cx="288.9" cy="124.9" r="3.5"/>
<circle cx="292.5" cy="125.1" r="3.5"/>
<circle cx="295.2" cy="124.4" r="3.5"/>
<circle cx="298.4" cy="124.4" r="3.5"/>
<circle cx="302.0" cy="124.6" r="3.5"/>
<circle cx="305.1" cy="124.2" r="3.5"/>
<circle cx="308.4" cy="125.2" r="3.5"/>
<circle cx="310.9" cy="124.7" r="3.5"/>
<circle cx="314.1" cy="124.0" r="3.5"/>
<circle cx="317.6" cy="124.2" r="3.5"/>
<circle cx="321.2" cy="124.7" r="3.5"/>
<circle cx="324.3" cy="125.2" r="3.5"/>
<circle cx="326.8" cy="124.1" r="3.5"/>
<circle cx="329.9" cy="124.6" r="3.5"/>
<circle cx="334.1" cy="124.8" r="3.5"/>
<circle cx="337.0" cy="125.0" r="3.5"/>
<circle cx="339.9" cy="124.1" r="3.5"/>
<circle cx="343.5" cy="124.0" r="3.5"/>
<circle cx="346.2" cy="124.0" r="3.5"/>
<circle cx="362.7" cy="124.9" r="3.5"/>
<circle cx="372.3" cy="125.2" r="3.5"/>
<circle cx="375.0" cy="124.9" r="3.5"/>
<circle cx="378.7" cy="124.6" r="3.5"/>
<circle cx="381.1" cy="124.6" r="3.5"/>
<circle cx="69.8" cy="127.7" r="3.5"/>
<circle cx="73.5" cy="127.9" r="3.5"/>
<circle cx="75.8" cy="127.4" r="3.5"/>
<circle cx="79.3" cy="127.9" r="3.5"/>
<circle cx="82.4" cy="128.0" r="3.5"/>
<circle cx="85.7" cy="127.4" r="3.5"/>
<circle cx="88.9" cy="127.3" r="3.5"/>
<circle cx="92.7" cy="127.0" r="3.5"/>
<circle cx="95.2" cy="127.0" r="3.5"/>
<circle cx="98.7" cy="127.1" r="3.5"/>
<circle cx="101.3" cy="127.4" r="3.5"/>
<circle cx="105.0" cy="127.8" r="3.5"/>
<circle cx="108.0" cy="127.3" r="3.5"/>
<circle cx="111.1" cy="128.0" r="3.5"/>
<circle cx="114.2" cy="126.9" r="3.5"/>
<circle cx="118.2" cy="127.5" r="3.5"/>
<circle cx="120.5" cy="127.1" r="3.5"/>
<circle cx="124.6" cy="127.8" r="3.5"/>
<circle cx="126.8" cy="127.7" r="3.5"/>
<circle cx="130.2" cy="127.4" r="3.5"/>
<circle cx="133.8" cy="127.0" r="3.5"/>
<circle cx="137.4" cy="127.3" r="3.5"/>
<circle cx="139.7" cy="127.8" r="3.5"/>
<circle cx="142.8" cy="126.9" r="3.5"/>
<circle cx="146.7" cy="127.5" r="3.5"/>
<circle cx="150.2" cy="127.8" r="3.5"/>
<circle cx="152.5" cy="127.0" r="3.5"/>
<circle cx="156.2" cy="127.5" r="3.5"/>
<circle cx="159.1" cy="128.0" r="3.5"/>
<circle cx="162.2" cy="127.7" r="3.5"/>
<circle cx="165.2" cy="128.0" r="3.5"/>
<circle cx="169.4" cy="127.6" r="3.5"/>
<circle cx="171.9" cy="127.8" r="3.5"/>
<circle cx="175.8" cy="127.9" r="3.5"/>
<circle cx="177.9" cy="127.5" r="3.5"/>
<circle cx="181.3" cy="127.6" r="3.5"/>
<circle cx="185.4" cy="127.9" r="3.5"/>
<circle cx="187.8" cy="127.6" r="3.5"/>
<circle cx="191.1" cy="127.1" r="3.5"/>
<circle cx="194.8" cy="127.8" r="3.5"/>
<circle cx="197.5" cy="127.4" r="3.5"/>
<circle cx="201.1" cy="127.8" r="3.5"/>
<circle cx="204.1" cy="127.0" r="3.5"/>
<circle cx="206.8" cy="127.1" r="3.5"/>
<circle cx="210.9" cy="127.5" r="3.5"/>
<circle cx="213.9" cy="127.3" r="3.5"/>
<circle cx="216.7" cy="127.1" r="3.5"/>
<circle cx="220.7" cy="127.6" r="3.5"/>
<circle cx="222.9" cy="127.7" r="3.5"/>
<circle cx="226.6" cy="127.6" r="3.5"/>
<circle cx="230.0" cy="127.6" r="3.5"/>
<circle cx="233.4" cy="128.1" r="3.5"/>
<circle cx="236.0" cy="127.7" r="3.5"/>
<circle cx="239.1" cy="127.4" r="3.5"/>
<circle cx="242.3" cy="127.7" r="3.5"/>
<circle cx="245.5" cy="127.3" r="3.5"/>
<circle cx="249.3" cy="127.9" r="3.5"/>
<circle cx="252.3" cy="127.9" r="3.5"/>
<circle cx="255.2" cy="127.7" r="3.5"/>
<circle cx="258.2" cy="127.3" r="3.5"/>
<circle cx="261.2" cy="127.9" r="3.5"/>
<circle cx="265.4" cy="127.3" r="3.5"/>
<circle cx="268.0" cy="127.0" r="3.5"/>
<circle cx="270.9" cy="127.7" r="3.5"/>
<circle cx="275.0" cy="127.0" r="3.5"/>
<circle cx="277.4" cy="127.8" r="3.5"/>
<circle cx="280.6" cy="128.0" r="3.5"/>
<circle cx="283.9" cy="127.5" r="3.5"/>
<circle cx="286.9" cy="127.2" r="3.5"/>
<circle cx="290.4" cy="127.2" r="3.5"/>
<circle cx="294.0" cy="126.9" r="3.5"/>
<circle cx="297.1" cy="127.9" r="3.5"/>
<circle cx="299.9" cy="127.1" r="3.5"/>
<circle cx="302.8" cy="127.0" r="3.5"/>
<circle cx="306.9" cy="127.6" r="3.5"/>
<circle cx="309.1" cy="127.4" r="3.5"/>
<circle cx="313.0" cy="127.3" r="3.5"/>
<circle cx="315.5" cy="127.4" r="3.5"/>
<circle cx="319.1" cy="128.1" r="3.5"/>
<circle cx="322.3" cy="128.0" r="3.5"/>
<circle cx="326.1" cy="127.6" r="3.5"/>
<circle cx="328.5" cy="127.9" r="3.5"/>
<circle cx="331.6" cy="127.6" r="3.5"/>
<circle cx="334.8" cy="127.0" r="3.5"/>
<circle cx="338.4" cy="127.1" r="3.5"/>
<circle cx="342.3" cy="127.6" r="3.5"/>
<circle cx="345.4" cy="128.0" r="3.5"/>
<circle cx="357.7" cy="127.4" r="3.5"/>
<circle cx="360.9" cy="127.8" r="3.5"/>
<circle cx="373.2" cy="127.1" r="3.5"/>
<circle cx="377.5" cy="127.3" r="3.5"/>
<circle cx="380.0" cy="127.5" r="3.5"/>
<circle cx="383.4" cy="127.2" r="3.5"/>
<circle cx="70.8" cy="130.9" r="3.5"/>
<circle cx="74.0" cy="130.1" r="3.5"/>
<circle cx="78.0" cy="130.5" r="3.5"/>
<circle cx="81.1" cy="130.3" r="3.5"/>
<circle cx="84.1" cy="130.0" r="3.5"/>
<circle cx="87.3" cy="130.1" r="3.5"/>
<circle cx="90.7" cy="129.9" r="3.5"/>
<circle cx="93.3" cy="130.0" r="3.5"/>
<circle cx="96.9" cy="130.5" r="3.5"/>
<circle cx="99.5" cy="131.0" r="3.5"/>
<circle cx="103.7" cy="130.3" r="3.5"/>
<circle cx="106.1" cy="130.8" r="3.5"/>
<circle cx="110.3" cy="130.0" r="3.5"/>
<circle cx="113.2" cy="130.8" r="3.5"/>
<circle cx="116.6" cy="130.1" r="3.5"/>
<circle cx="118.8" cy="130.0" r="3.5"/>
<circle cx="122.2" cy="130.9" r="3.5"/>
<circle cx="126.2" cy="130.4" r="3.5"/>
<circle cx="128.5" cy="130.2" r="3.5"/>
<circle cx="131.8" cy="130.6" r="3.5"/>
<circle cx="135.6" cy="130.7" r="3.5"/>
<circle cx="138.4" cy="130.3" r="3.5"/>
<circle cx="141.7" cy="130.2" r="3.5"/>
<circle cx="144.8" cy="130.6" r="3.5"/>
<circle cx="148.4" cy="130.2" r="3.5"/>
<circle cx="151.4" cy="130.0" r="3.5"/>
<circle cx="154.0" cy="130.3" r="3.5"/>
<circle cx="157.5" cy="129.8" r="3.5"/>
<circle cx="160.4" cy="130.3" r="3.5"/>
<circle cx="164.6" cy="130.8" r="3.5"/>
<circle cx="166.7" cy="130.2" r="3.5"/>
<circle cx="170.3" cy="130.2" r="3.5"/>
<circle cx="173.3" cy="130.5" r="3.5"/>
<circle cx="177.3" cy="130.3" r="3.5"/>
<circle cx="179.7" cy="129.9" r="3.5"/>
<circle cx="182.7" cy="130.7" r="3.5"/>
<circle cx="186.2" cy="130.7" r="3.5"/>
<circle cx="190.0" cy="129.9" r="3.5"/>
<circle cx="192.5" cy="130.2" r="3.5"/>
<circle cx="196.4" cy="130.7" r="3.5"/>
<circle cx="199.1" cy="130.3" r="3.5"/>
<circle cx="202.3" cy="130.4" r="3.5"/>
<circle cx="206.1" cy="130.1" r="3.5"/>
<circle cx="209.3" cy="130.9" r="3.5"/>
<circle cx="212.2" cy="131.0" r="3.5"/>
<circle cx="215.8" cy="130.0" r="3.5"/>
<circle cx="219.1" cy="130.0" r="3.5"/>
<circle cx="222.1" cy="129.9" r="3.5"/>
<circle cx="224.7" cy="130.3" r="3.5"/>
<circle cx="228.5" cy="130.6" r="3.5"/>
<circle cx="230.9" cy="130.9" r="3.5"/>
<circle cx="234.9" cy="130.4" r="3.5"/>
<circle cx="237.2" cy="130.1" r="3.5"/>
<circle cx="240.7" cy="130.3" r="3.5"/>
<circle cx="244.6" cy="130.5" r="3.5"/>
<circle cx="247.7" cy="129.9" r="3.5"/>
<circle cx="250.2" cy="130.7" r="3.5"/>
<circle cx="253.5" cy="130.1" r="3.5"/>
<circle cx="256.4" cy="129.9" r="3.5"/>
<circle cx="260.0" cy="130.5" r="3.5"/>
<circle cx="263.2" cy="130.5" r="3.5"/>
<circle cx="266.2" cy="129.8" r="3.5"/>
<circle cx="269.9" cy="130.2" r="3.5"/>
<circle cx="272.9" cy="130.3" r="3.5"/>
<circle cx="275.8" cy="129.9" r="3.5"/>
<circle cx="279.1" cy="130.2" r="3.5"/>
<circle cx="282.0" cy="129.8" r="3.5"/>
<circle cx="285.7" cy="129.8" r="3.5"/>
<circle cx="289.4" cy="130.2" r="3.5"/>
<circle cx="292.0" cy="130.4" r="3.5"/>
<circle cx="294.7" cy="129.9" r="3.5"/>
<circle cx="298.8" cy="130.5" r="3.5"/>
<circle cx="301.7" cy="130.2" r="3.5"/>
<circle cx="305.2" cy="130.4" r="3.5"/>
<circle cx="308.5" cy="130.8" r="3.5"/>
<circle cx="311.8" cy="130.7" r="3.5"/>
<circle cx="314.7" cy="130.4" r="3.5"/>
<circle cx="317.7" cy="130.5" r="3.5"/>
<circle cx="320.9" cy="130.8" r="3.5"/>
<circle cx="324.5" cy="129.9" r="3.5"/>
<circle cx="327.6" cy="130.5" r="3.5"/>
<circle cx="330.6" cy="130.9" r="3.5"/>
<circle cx="333.2" cy="130.4" r="3.5"/>
<circle cx="336.8" cy="130.9" r="3.5"/>
<circle cx="339.7" cy="130.5" r="3.5"/>
<circle cx="342.9" cy="130.7" r="3.5"/>
<circle cx="346.5" cy="130.7" r="3.5"/>
<circle cx="349.5" cy="130.9" r="3.5"/>
<circle cx="352.3" cy="130.1" r="3.5"/>
<circle cx="356.4" cy="130.9" r="3.5"/>
<circle cx="359.6" cy="130.1" r="3.5"/>
<circle cx="362.0" cy="130.7" r="3.5"/>
<circle cx="375.1" cy="129.9" r="3.5"/>
<circle cx="379.0" cy="130.9" r="3.5"/>
<circle cx="381.2" cy="130.3" r="3.5"/>
<circle cx="69.6" cy="133.4" r="3.5"/>
<circle cx="73.4" cy="133.8" r="3.5"/>
<circle cx="76.6" cy="133.7" r="3.5"/>
<circle cx="79.0" cy="133.0" r="3.5"/>
<circle cx="82.5" cy="133.5" r="3.5"/>
<circle cx="85.8" cy="133.1" r="3.5"/>
<circle cx="89.5" cy="133.1" r="3.5"/>
<circle cx="91.5" cy="132.8" r="3.5"/>
<circle cx="95.0" cy="133.6" r="3.5"/>
<circle cx="98.9" cy="132.8" r="3.5"/>
<circle cx="101.4" cy="133.0" r="3.5"/>
<circle cx="105.2" cy="133.8" r="3.5"/>
<circle cx="107.8" cy="132.8" r="3.5"/>
<circle cx="111.9" cy="133.9" r="3.5"/>
<circle cx="114.8" cy="133.3" r="3.5"/>
<circle cx="118.0" cy="133.6" r="3.5"/>
<circle cx="120.9" cy="133.0" r="3.5"/>
<circle cx="124.1" cy="133.5" r="3.5"/>
<circle cx="127.1" cy="133.5" r="3.5"/>
<circle cx="130.1" cy="133.9" r="3.5"/>
<circle cx="133.4" cy="133.0" r="3.5"/>
<circle cx="137.5" cy="133.8" r="3.5"/>
<circle cx="140.6" cy="133.7" r="3.5"/>
<circle cx="143.7" cy="133.7" r="3.5"/>
<circle cx="146.6" cy="132.8" r="3.5"/>
<circle cx="150.0" cy="133.7" r="3.5"/>
<circle cx="153.3" cy="132.8" r="3.5"/>
<circle cx="155.6" cy="133.6" r="3.5"/>
<circle cx="159.3" cy="133.8" r="3.5"/>
<circle cx="163.1" cy="133.2" r="3.5"/>
<circle cx="165.9" cy="133.5" r="3.5"/>
<circle cx="169.1" cy="133.1" r="3.5"/>
<circle cx="172.3" cy="132.8" r="3.5"/>
<circle cx="175.8" cy="133.6" r="3.5"/>
<circle cx="178.9" cy="133.3" r="3.5"/>
<circle cx="181.3" cy="133.2" r="3.5"/>
<circle cx="185.1" cy="133.4" r="3.5"/>
<circle cx="187.6" cy="132.7" r="3.5"/>
<circle cx="191.2" cy="133.0" r="3.5"/>
<circle cx="194.2" cy="133.0" r="3.5"/>
<circle cx="197.6" cy="133.5" r="3.5"/>
<circle cx="201.4" cy="133.5" r="3.5"/>
<circle cx="203.5" cy="133.7" r="3.5"/>
<circle cx="207.4" cy="133.6" r="3.5"/>
<circle cx="210.6" cy="133.1" r="3.5"/>
<circle cx="213.5" cy="132.8" r="3.5"/>
<circle cx="217.1" cy="132.8" r="3.5"/>
<circle cx="220.3" cy="133.8" r="3.5"/>
<circle cx="223.5" cy="133.4" r="3.5"/>
<circle cx="226.9" cy="133.9" r="3.5"/>
<circle cx="230.1" cy="133.9" r="3.5"/>
<circle cx="232.9" cy="132.7" r="3.5"/>
<circle cx="236.2" cy="133.5" r="3.5"/>
<circle cx="239.7" cy="133.4" r="3.5"/>
<circle cx="242.3" cy="132.7" r="3.5"/>
<circle cx="246.1" cy="133.4" r="3.5"/>
<circle cx="249.5" cy="133.4" r="3.5"/>
<circle cx="252.5" cy="133.6" r="3.5"/>
<circle cx="255.9" cy="133.3" r="3.5"/>
<circle cx="259.0" cy="133.2" r="3.5"/>
<circle cx="261.1" cy="133.1" r="3.5"/>
<circle cx="264.7" cy="133.9" r="3.5"/>
<circle cx="268.0" cy="133.0" r="3.5"/>
<circle cx="271.5" cy="132.8" r="3.5"/>
<circle cx="274.3" cy="133.2" r="3.5"/>
<circle cx="277.2" cy="133.4" r="3.5"/>
<circle cx="280.8" cy="133.7" r="3.5"/>
<circle cx="283.9" cy="133.9" r="3.5"/>
<circle cx="286.9" cy="133.3" r="3.5"/>
<circle cx="290.2" cy="132.7" r="3.5"/>
<circle cx="293.5" cy="133.8" r="3.5"/>
<circle cx="296.6" cy="133.3" r="3.5"/>
<circle cx="300.1" cy="133.0" r="3.5"/>
<circle cx="303.3" cy="132.8" r="3.5"/>
<circle cx="306.3" cy="133.0" r="3.5"/>
<circle cx="310.1" cy="133.6" r="3.5"/>
<circle cx="313.1" cy="133.4" r="3.5"/>
<circle cx="316.5" cy="133.6" r="3.5"/>
<circle cx="318.8" cy="132.9" r="3.5"/>
<circle cx="322.8" cy="133.7" r="3.5"/>
<circle cx="326.3" cy="133.6" r="3.5"/>
<circle cx="328.5" cy="133.4" r="3.5"/>
<circle cx="332.2" cy="133.4" r="3.5"/>
<circle cx="334.9" cy="133.9" r="3.5"/>
<circle cx="338.5" cy="133.0" r="3.5"/>
<circle cx="342.3" cy="133.2" r="3.5"/>
<circle cx="344.4" cy="133.5" r="3.5"/>
<circle cx="347.8" cy="133.0" r="3.5"/>
<circle cx="351.1" cy="133.4" r="3.5"/>
<circle cx="354.3" cy="133.5" r="3.5"/>
<circle cx="358.2" cy="133.9" r="3.5"/>
<circle cx="361.4" cy="133.8" r="3.5"/>
<circle cx="363.8" cy="133.7" r="3.5"/>
<circle cx="366.8" cy="133.4" r="3.5"/>
<circle cx="370.0" cy="132.8" r="3.5"/>
<circle cx="374.2" cy="132.9" r="3.5"/>
<circle cx="377.2" cy="133.3" r="3.5"/>
<circle cx="379.5" cy="133.7" r="3.5"/>
<circle cx="382.8" cy="133.8" r="3.5"/>
<circle cx="71.3" cy="136.7" r="3.5"/>
<circle cx="74.7" cy="135.7" r="3.5"/>
<circle cx="78.0" cy="136.4" r="3.5"/>
<circle cx="80.7" cy="136.5" r="3.5"/>
<circle cx="84.2" cy="136.1" r="3.5"/>
<circle cx="87.3" cy="135.9" r="3.5"/>
<circle cx="90.2" cy="136.7" r="3.5"/>
<circle cx="93.5" cy="136.5" r="3.5"/>
<circle cx="96.7" cy="135.8" r="3.5"/>
<circle cx="99.5" cy="136.8" r="3.5"/>
<circle cx="103.6" cy="136.8" r="3.5"/>
<circle cx="106.6" cy="135.7" r="3.5"/>
<circle cx="109.3" cy="135.7" r="3.5"/>
<circle cx="113.0" cy="136.3" r="3.5"/>
<circle cx="116.6" cy="136.0" r="3.5"/>
<circle cx="119.0" cy="135.9" r="3.5"/>
<circle cx="122.1" cy="135.6" r="3.5"/>
<circle cx="125.7" cy="136.1" r="3.5"/>
<circle cx="128.7" cy="136.7" r="3.5"/>
<circle cx="131.9" cy="136.6" r="3.5"/>
<circle cx="135.3" cy="135.7" r="3.5"/>
<circle cx="137.9" cy="136.3" r="3.5"/>
<circle cx="142.1" cy="135.7" r="3.5"/>
<circle cx="145.1" cy="135.9" r="3.5"/>
<circle cx="148.3" cy="136.6" r="3.5"/>
<circle cx="151.6" cy="135.9" r="3.5"/>
<circle cx="154.1" cy="136.8" r="3.5"/>
<circle cx="158.2" cy="136.7" r="3.5"/>
<circle cx="160.9" cy="135.7" r="3.5"/>
<circle cx="163.9" cy="136.7" r="3.5"/>
<circle cx="166.8" cy="136.0" r="3.5"/>
<circle cx="170.0" cy="136.7" r="3.5"/>
<circle cx="173.5" cy="135.7" r="3.5"/>
<circle cx="176.7" cy="135.8" r="3.5"/>
<circle cx="180.0" cy="136.3" r="3.5"/>
<circle cx="183.5" cy="135.7" r="3.5"/>
<circle cx="186.5" cy="135.7" r="3.5"/>
<circle cx="189.6" cy="136.6" r="3.5"/>
<circle cx="192.6" cy="136.6" r="3.5"/>
<circle cx="195.8" cy="136.1" r="3.5"/>
<circle cx="199.7" cy="135.6" r="3.5"/>
<circle cx="202.6" cy="136.2" r="3.5"/>
<circle cx="206.0" cy="136.7" r="3.5"/>
<circle cx="209.1" cy="135.9" r="3.5"/>
<circle cx="211.7" cy="136.2" r="3.5"/>
<circle cx="215.0" cy="136.3" r="3.5"/>
<circle cx="218.0" cy="136.4" r="3.5"/>
<circle cx="221.6" cy="135.7" r="3.5"/>
<circle cx="224.4" cy="136.7" r="3.5"/>
<circle cx="228.5" cy="136.7" r="3.5"/>
<circle cx="231.2" cy="136.8" r="3.5"/>
<circle cx="234.1" cy="136.5" r="3.5"/>
<circle cx="238.2" cy="135.9" r="3.5"/>
<circle cx="240.3" cy="135.8" r="3.5"/>
<circle cx="243.6" cy="136.6" r="3.5"/>
<circle cx="247.4" cy="136.2" r="3.5"/>
<circle cx="250.0" cy="136.4" r="3.5"/>
<circle cx="253.3" cy="135.8" r="3.5"/>
<circle cx="257.0" cy="136.4" r="3.5"/>
<circle cx="260.5" cy="136.6" r="3.5"/>
<circle cx="262.9" cy="136.0" r="3.5"/>
<circle cx="266.1" cy="136.2" r="3.5"/>
<circle cx="269.1" cy="136.6" r="3.5"/>
<circle cx="273.1" cy="136.6" r="3.5"/>
<circle cx="276.1" cy="136.7" r="3.5"/>
<circle cx="279.7" cy="136.6" r="3.5"/>
<circle cx="282.9" cy="135.9" r="3.5"/>
<circle cx="285.5" cy="135.7" r="3.5"/>
<circle cx="289.2" cy="136.2" r="3.5"/>
<circle cx="292.7" cy="135.9" r="3.5"/>
<circle cx="295.2" cy="136.6" r="3.5"/>
<circle cx="299.1" cy="136.5" r="3.5"/>
<circle cx="302.2" cy="136.7" r="3.5"/>
<circle cx="304.6" cy="136.3" r="3.5"/>
<circle cx="307.6" cy="136.4" r="3.5"/>
<circle cx="311.8" cy="136.2" r="3.5"/>
<circle cx="314.1" cy="136.3" r="3.5"/>
<circle cx="317.2" cy="136.2" r="3.5"/>
<circle cx="320.4" cy="136.1" r="3.5"/>
<circle cx="324.5" cy="136.5" r="3.5"/>
<circle cx="327.7" cy="136.1" r="3.5"/>
<circle cx="330.4" cy="135.7" r="3.5"/>
<circle cx="336.8" cy="135.8" r="3.5"/>
<circle cx="340.1" cy="135.7" r="3.5"/>
<circle cx="342.8" cy="135.7" r="3.5"/>
<circle cx="346.4" cy="135.8" r="3.5"/>
<circle cx="350.1" cy="136.3" r="3.5"/>
<circle cx="353.3" cy="136.3" r="3.5"/>
<circle cx="355.7" cy="135.9" r="3.5"/>
<circle cx="368.8" cy="136.6" r="3.5"/>
<circle cx="372.6" cy="136.3" r="3.5"/>
<circle cx="375.0" cy="135.7" r="3.5"/>
<circle cx="378.6" cy="136.1" r="3.5"/>
<circle cx="382.2" cy="135.8" r="3.5"/>
<circle cx="72.6" cy="139.2" r="3.5"/>
<circle cx="76.6" cy="139.4" r="3.5"/>
<circle cx="79.0" cy="139.2" r="3.5"/>
<circle cx="82.2" cy="139.4" r="3.5"/>
<circle cx="85.4" cy="139.5" r="3.5"/>
<circle cx="89.1" cy="139.6" r="3.5"/>
<circle cx="91.9" cy="139.6" r="3.5"/>
<circle cx="95.4" cy="138.8" r="3.5"/>
<circle cx="98.7" cy="138.9" r="3.5"/>
<circle cx="101.2" cy="138.5" r="3.5"/>
<circle cx="105.0" cy="138.8" r="3.5"/>
<circle cx="107.6" cy="139.4" r="3.5"/>
<circle cx="110.9" cy="139.4" r="3.5"/>
<circle cx="114.2" cy="138.9" r="3.5"/>
<circle cx="118.2" cy="139.5" r="3.5"/>
<circle cx="121.3" cy="139.7" r="3.5"/>
<circle cx="124.2" cy="139.6" r="3.5"/>
<circle cx="127.4" cy="139.2" r="3.5"/>
<circle cx="130.3" cy="139.0" r="3.5"/>
<circle cx="133.8" cy="138.8" r="3.5"/>
<circle cx="137.1" cy="139.5" r="3.5"/>
<circle cx="140.4" cy="138.8" r="3.5"/>
<circle cx="142.7" cy="138.9" r="3.5"/>
<circle cx="146.4" cy="139.5" r="3.5"/>
<circle cx="149.8" cy="139.1" r="3.5"/>
<circle cx="153.0" cy="139.2" r="3.5"/>
<circle cx="156.3" cy="139.2" r="3.5"/>
<circle cx="159.4" cy="138.8" r="3.5"/>
<circle cx="162.0" cy="139.0" r="3.5"/>
<circle cx="166.2" cy="139.6" r="3.5"/>
<circle cx="168.7" cy="139.2" r="3.5"/>
<circle cx="172.1" cy="139.0" r="3.5"/>
<circle cx="174.9" cy="139.4" r="3.5"/>
<circle cx="178.0" cy="138.8" r="3.5"/>
<circle cx="181.4" cy="138.7" r="3.5"/>
<circle cx="184.5" cy="138.6" r="3.5"/>
<circle cx="188.1" cy="138.7" r="3.5"/>
<circle cx="191.5" cy="139.2" r="3.5"/>
<circle cx="194.6" cy="139.1" r="3.5"/>
<circle cx="197.8" cy="138.9" r="3.5"/>
<circle cx="200.9" cy="139.3" r="3.5"/>
<circle cx="203.8" cy="139.4" r="3.5"/>
<circle cx="207.4" cy="139.7" r="3.5"/>
<circle cx="210.6" cy="139.2" r="3.5"/>
<circle cx="214.0" cy="138.8" r="3.5"/>
<circle cx="216.7" cy="139.0" r="3.5"/>
<circle cx="220.4" cy="139.4" r="3.5"/>
<circle cx="222.9" cy="139.6" r="3.5"/>
<circle cx="227.1" cy="139.1" r="3.5"/>
<circle cx="230.3" cy="139.2" r="3.5"/>
<circle cx="232.8" cy="138.6" r="3.5"/>
<circle cx="235.5" cy="139.2" r="3.5"/>
<circle cx="239.6" cy="139.2" r="3.5"/>
<circle cx="242.8" cy="139.0" r="3.5"/>
<circle cx="246.0" cy="139.2" r="3.5"/>
<circle cx="249.1" cy="139.2" r="3.5"/>
<circle cx="252.3" cy="139.2" r="3.5"/>
<circle cx="254.8" cy="139.3" r="3.5"/>
<circle cx="258.7" cy="139.0" r="3.5"/>
<circle cx="262.3" cy="139.1" r="3.5"/>
<circle cx="264.5" cy="139.1" r="3.5"/>
<circle cx="267.9" cy="138.7" r="3.5"/>
<circle cx="271.8" cy="138.7" r="3.5"/>
<circle cx="274.8" cy="138.7" r="3.5"/>
<circle cx="277.7" cy="139.7" r="3.5"/>
<circle cx="280.4" cy="139.5" r="3.5"/>
<circle cx="283.5" cy="139.7" r="3.5"/>
<circle cx="287.8" cy="139.0" r="3.5"/>
<circle cx="290.7" cy="139.1" r="3.5"/>
<circle cx="293.3" cy="138.9" r="3.5"/>
<circle cx="296.8" cy="139.5" r="3.5"/>
<circle cx="299.6" cy="139.1" r="3.5"/>
<circle cx="303.3" cy="139.2" r="3.5"/>
<circle cx="306.9" cy="139.2" r="3.5"/>
<circle cx="309.5" cy="139.6" r="3.5"/>
<circle cx="313.0" cy="138.8" r="3.5"/>
<circle cx="316.2" cy="139.5" r="3.5"/>
<circle cx="318.8" cy="139.3" r="3.5"/>
<circle cx="322.5" cy="138.8" r="3.5"/>
<circle cx="325.3" cy="138.8" r="3.5"/>
<circle cx="328.8" cy="139.0" r="3.5"/>
<circle cx="338.9" cy="139.5" r="3.5"/>
<circle cx="341.4" cy="139.7" r="3.5"/>
<circle cx="345.0" cy="138.9" r="3.5"/>
<circle cx="347.8" cy="139.4" r="3.5"/>
<circle cx="351.2" cy="139.3" r="3.5"/>
<circle cx="354.2" cy="139.5" r="3.5"/>
<circle cx="371.0" cy="139.4" r="3.5"/>
<circle cx="373.2" cy="139.7" r="3.5"/>
<circle cx="376.3" cy="138.6" r="3.5"/>
<circle cx="380.5" cy="138.8" r="3.5"/>
<circle cx="382.7" cy="138.7" r="3.5"/>
<circle cx="71.1" cy="142.0" r="3.5"/>
<circle cx="75.1" cy="142.2" r="3.5"/>
<circle cx="78.1" cy="142.1" r="3.5"/>
<circle cx="81.4" cy="142.2" r="3.5"/>
<circle cx="83.8" cy="141.8" r="3.5"/>
<circle cx="87.3" cy="141.5" r="3.5"/>
<circle cx="91.0" cy="142.0" r="3.5"/>
<circle cx="93.3" cy="142.0" r="3.5"/>
<circle cx="97.3" cy="141.7" r="3.5"/>
<circle cx="100.2" cy="141.5" r="3.5"/>
<circle cx="103.0" cy="141.6" r="3.5"/>
<circle cx="106.5" cy="142.2" r="3.5"/>
<circle cx="109.4" cy="142.2" r="3.5"/>
<circle cx="113.0" cy="142.3" r="3.5"/>
<circle cx="116.7" cy="141.8" r="3.5"/>
<circle cx="119.9" cy="141.9" r="3.5"/>
<circle cx="122.5" cy="141.6" r="3.5"/>
<circle cx="125.2" cy="142.2" r="3.5"/>
<circle cx="128.4" cy="141.4" r="3.5"/>
<circle cx="131.6" cy="142.1" r="3.5"/>
<circle cx="134.9" cy="141.7" r="3.5"/>
<circle cx="138.8" cy="141.9" r="3.5"/>
<circle cx="141.3" cy="142.2" r="3.5"/>
<circle cx="145.5" cy="142.1" r="3.5"/>
<circle cx="148.0" cy="142.0" r="3.5"/>
<circle cx="151.5" cy="142.4" r="3.5"/>
<circle cx="154.8" cy="141.7" r="3.5"/>
<circle cx="158.0" cy="141.5" r="3.5"/>
<circle cx="160.5" cy="142.0" r="3.5"/>
<circle cx="163.7" cy="142.1" r="3.5"/>
<circle cx="167.0" cy="142.5" r="3.5"/>
<circle cx="170.4" cy="142.4" r="3.5"/>
<circle cx="174.2" cy="141.9" r="3.5"/>
<circle cx="177.2" cy="142.0" r="3.5"/>
<circle cx="180.0" cy="141.5" r="3.5"/>
<circle cx="183.5" cy="142.5" r="3.5"/>
<circle cx="186.7" cy="141.8" r="3.5"/>
<circle cx="189.7" cy="141.8" r="3.5"/>
<circle cx="192.8" cy="142.3" r="3.5"/>
<circle cx="195.5" cy="142.0" r="3.5"/>
<circle cx="199.3" cy="141.6" r="3.5"/>
<circle cx="202.8" cy="141.7" r="3.5"/>
<circle cx="205.6" cy="141.7" r="3.5"/>
<circle cx="209.0" cy="141.9" r="3.5"/>
<circle cx="212.3" cy="141.9" r="3.5"/>
<circle cx="215.6" cy="142.1" r="3.5"/>
<circle cx="218.0" cy="142.0" r="3.5"/>
<circle cx="221.4" cy="141.8" r="3.5"/>
<circle cx="225.4" cy="142.0" r="3.5"/>
<circle cx="228.4" cy="141.6" r="3.5"/>
<circle cx="231.5" cy="141.5" r="3.5"/>
<circle cx="234.2" cy="141.6" r="3.5"/>
<circle cx="237.1" cy="142.5" r="3.5"/>
<circle cx="241.5" cy="141.8" r="3.5"/>
<circle cx="243.5" cy="142.3" r="3.5"/>
<circle cx="247.5" cy="141.5" r="3.5"/>
<circle cx="250.8" cy="141.5" r="3.5"/>
<circle cx="253.4" cy="142.3" r="3.5"/>
<circle cx="257.2" cy="141.7" r="3.5"/>
<circle cx="260.1" cy="142.4" r="3.5"/>
<circle cx="263.4" cy="142.0" r="3.5"/>
<circle cx="266.1" cy="141.5" r="3.5"/>
<circle cx="269.3" cy="142.0" r="3.5"/>
<circle cx="273.0" cy="142.0" r="3.5"/>
<circle cx="276.3" cy="142.1" r="3.5"/>
<circle cx="279.5" cy="141.9" r="3.5"/>
<circle cx="282.9" cy="142.0" r="3.5"/>
<circle cx="286.2" cy="142.6" r="3.5"/>
<circle cx="289.3" cy="142.3" r="3.5"/>
<circle cx="292.3" cy="142.1" r="3.5"/>
<circle cx="295.0" cy="141.5" r="3.5"/>
<circle cx="298.7" cy="141.7" r="3.5"/>
<circle cx="301.8" cy="142.1" r="3.5"/>
<circle cx="305.0" cy="141.9" r="3.5"/>
<circle cx="307.8" cy="141.8" r="3.5"/>
<circle cx="311.5" cy="142.5" r="3.5"/>
<circle cx="314.3" cy="141.8" r="3.5"/>
<circle cx="317.6" cy="141.9" r="3.5"/>
<circle cx="321.1" cy="142.3" r="3.5"/>
<circle cx="324.4" cy="142.4" r="3.5"/>
<circle cx="327.6" cy="142.6" r="3.5"/>
<circle cx="337.3" cy="141.9" r="3.5"/>
<circle cx="340.2" cy="142.0" r="3.5"/>
<circle cx="343.1" cy="141.4" r="3.5"/>
<circle cx="346.2" cy="142.0" r="3.5"/>
<circle cx="350.2" cy="141.6" r="3.5"/>
<circle cx="353.4" cy="142.6" r="3.5"/>
<circle cx="371.7" cy="142.0" r="3.5"/>
<circle cx="374.8" cy="141.9" r="3.5"/>
<circle cx="378.5" cy="142.4" r="3.5"/>
<circle cx="381.4" cy="142.2" r="3.5"/>
<circle cx="384.5" cy="141.7" r="3.5"/>
<circle cx="69.6" cy="145.4" r="3.5"/>
<circle cx="73.2" cy="145.0" r="3.5"/>
<circle cx="76.5" cy="144.5" r="3.5"/>
<circle cx="79.1" cy="145.0" r="3.5"/>
<circle cx="82.6" cy="145.4" r="3.5"/>
<circle cx="85.9" cy="144.4" r="3.5"/>
<circle cx="89.4" cy="144.9" r="3.5"/>
<circle cx="91.7" cy="145.2" r="3.5"/>
<circle cx="95.5" cy="145.3" r="3.5"/>
<circle cx="98.6" cy="144.6" r="3.5"/>
<circle cx="101.7" cy="144.9" r="3.5"/>
<circle cx="104.7" cy="145.0" r="3.5"/>
<circle cx="107.7" cy="144.6" r="3.5"/>
<circle cx="110.8" cy="144.3" r="3.5"/>
<circle cx="114.5" cy="145.2" r="3.5"/>
<circle cx="117.6" cy="145.4" r="3.5"/>
<circle cx="121.0" cy="145.1" r="3.5"/>
<circle cx="123.8" cy="145.4" r="3.5"/>
<circle cx="127.1" cy="145.3" r="3.5"/>
<circle cx="130.2" cy="145.4" r="3.5"/>
<circle cx="133.9" cy="144.5" r="3.5"/>
<circle cx="137.2" cy="144.5" r="3.5"/>
<circle cx="140.0" cy="144.8" r="3.5"/>
<circle cx="143.1" cy="144.7" r="3.5"/>
<circle cx="146.1" cy="144.8" r="3.5"/>
<circle cx="149.2" cy="145.3" r="3.5"/>
<circle cx="152.7" cy="145.2" r="3.5"/>
<circle cx="156.0" cy="145.5" r="3.5"/>
<circle cx="159.8" cy="145.1" r="3.5"/>
<circle cx="162.9" cy="145.4" r="3.5"/>
<circle cx="166.2" cy="144.8" r="3.5"/>
<circle cx="169.0" cy="144.4" r="3.5"/>
<circle cx="171.9" cy="144.7" r="3.5"/>
<circle cx="175.4" cy="144.3" r="3.5"/>
<circle cx="178.8" cy="144.4" r="3.5"/>
<circle cx="181.6" cy="144.9" r="3.5"/>
<circle cx="185.3" cy="145.1" r="3.5"/>
<circle cx="187.7" cy="145.1" r="3.5"/>
<circle cx="191.0" cy="145.0" r="3.5"/>
<circle cx="194.4" cy="145.4" r="3.5"/>
<circle cx="197.6" cy="144.6" r="3.5"/>
<circle cx="200.7" cy="145.4" r="3.5"/>
<circle cx="203.9" cy="144.6" r="3.5"/>
<circle cx="207.3" cy="145.1" r="3.5"/>
<circle cx="211.0" cy="144.4" r="3.5"/>
<circle cx="213.5" cy="145.2" r="3.5"/>
<circle cx="216.9" cy="145.1" r="3.5"/>
<circle cx="220.3" cy="144.4" r="3.5"/>
<circle cx="222.8" cy="144.5" r="3.5"/>
<circle cx="226.3" cy="144.5" r="3.5"/>
<circle cx="229.4" cy="144.4" r="3.5"/>
<circle cx="232.3" cy="144.9" r="3.5"/>
<circle cx="236.4" cy="144.5" r="3.5"/>
<circle cx="238.8" cy="145.2" r="3.5"/>
<circle cx="242.0" cy="144.5" r="3.5"/>
<circle cx="245.7" cy="144.7" r="3.5"/>
<circle cx="249.2" cy="144.9" r="3.5"/>
<circle cx="252.1" cy="144.7" r="3.5"/>
<circle cx="254.7" cy="145.3" r="3.5"/>
<circle cx="258.4" cy="145.3" r="3.5"/>
<circle cx="261.2" cy="144.8" r="3.5"/>
<circle cx="264.9" cy="144.5" r="3.5"/>
<circle cx="267.6" cy="145.4" r="3.5"/>
<circle cx="271.8" cy="145.5" r="3.5"/>
<circle cx="274.6" cy="145.2" r="3.5"/>
<circle cx="277.8" cy="144.9" r="3.5"/>
<circle cx="280.5" cy="145.1" r="3.5"/>
<circle cx="284.0" cy="145.1" r="3.5"/>
<circle cx="286.8" cy="144.7" r="3.5"/>
<circle cx="290.0" cy="145.2" r="3.5"/>
<circle cx="293.7" cy="144.6" r="3.5"/>
<circle cx="297.2" cy="144.9" r="3.5"/>
<circle cx="299.8" cy="144.8" r="3.5"/>
<circle cx="302.7" cy="144.4" r="3.5"/>
<circle cx="305.9" cy="145.5" r="3.5"/>
<circle cx="310.2" cy="145.0" r="3.5"/>
<circle cx="313.4" cy="144.9" r="3.5"/>
<circle cx="316.3" cy="144.4" r="3.5"/>
<circle cx="319.2" cy="145.0" r="3.5"/>
<circle cx="322.4" cy="145.1" r="3.5"/>
<circle cx="325.5" cy="145.1" r="3.5"/>
<circle cx="328.5" cy="144.9" r="3.5"/>
<circle cx="332.0" cy="144.9" r="3.5"/>
<circle cx="334.8" cy="144.6" r="3.5"/>
<circle cx="338.8" cy="144.5" r="3.5"/>
<circle cx="341.7" cy="145.5" r="3.5"/>
<circle cx="345.0" cy="145.2" r="3.5"/>
<circle cx="348.4" cy="145.5" r="3.5"/>
<circle cx="351.2" cy="144.8" r="3.5"/>
<circle cx="354.8" cy="144.3" r="3.5"/>
<circle cx="357.7" cy="144.6" r="3.5"/>
<circle cx="370.7" cy="145.4" r="3.5"/>
<circle cx="373.8" cy="144.9" r="3.5"/>
<circle cx="376.9" cy="144.8" r="3.5"/>
<circle cx="379.7" cy="144.5" r="3.5"/>
<circle cx="383.7" cy="144.9" r="3.5"/>
<circle cx="65.3" cy="148.0" r="3.5"/>
<circle cx="67.7" cy="148.3" r="3.5"/>
<circle cx="70.9" cy="147.8" r="3.5"/>
<circle cx="74.5" cy="147.4" r="3.5"/>
<circle cx="77.4" cy="147.4" r="3.5"/>
<circle cx="80.5" cy="147.2" r="3.5"/>
<circle cx="84.3" cy="148.0" r="3.5"/>
<circle cx="87.0" cy="148.3" r="3.5"/>
<circle cx="90.4" cy="147.7" r="3.5"/>
<circle cx="94.2" cy="148.0" r="3.5"/>
<circle cx="96.9" cy="148.1" r="3.5"/>
<circle cx="100.4" cy="147.6" r="3.5"/>
<circle cx="102.8" cy="148.1" r="3.5"/>
<circle cx="106.8" cy="147.9" r="3.5"/>
<circle cx="109.2" cy="148.1" r="3.5"/>
<circle cx="112.5" cy="148.2" r="3.5"/>
<circle cx="116.2" cy="148.0" r="3.5"/>
<circle cx="118.8" cy="147.6" r="3.5"/>
<circle cx="122.8" cy="147.3" r="3.5"/>
<circle cx="125.1" cy="147.7" r="3.5"/>
<circle cx="129.3" cy="148.0" r="3.5"/>
<circle cx="131.8" cy="147.3" r="3.5"/>
<circle cx="135.7" cy="148.2" r="3.5"/>
<circle cx="138.7" cy="147.4" r="3.5"/>
<circle cx="142.0" cy="147.2" r="3.5"/>
<circle cx="144.5" cy="147.6" r="3.5"/>
<circle cx="148.6" cy="147.2" r="3.5"/>
<circle cx="150.9" cy="148.1" r="3.5"/>
<circle cx="154.8" cy="147.5" r="3.5"/>
<circle cx="157.2" cy="148.2" r="3.5"/>
<circle cx="161.5" cy="148.3" r="3.5"/>
<circle cx="164.2" cy="147.3" r="3.5"/>
<circle cx="167.6" cy="148.0" r="3.5"/>
<circle cx="170.9" cy="148.1" r="3.5"/>
<circle cx="173.7" cy="148.4" r="3.5"/>
<circle cx="176.9" cy="147.7" r="3.5"/>
<circle cx="180.3" cy="148.1" r="3.5"/>
<circle cx="183.4" cy="148.3" r="3.5"/>
<circle cx="186.2" cy="148.3" r="3.5"/>
<circle cx="190.2" cy="147.6" r="3.5"/>
<circle cx="192.3" cy="147.9" r="3.5"/>
<circle cx="196.2" cy="148.4" r="3.5"/>
<circle cx="199.4" cy="148.1" r="3.5"/>
<circle cx="202.8" cy="147.4" r="3.5"/>
<circle cx="205.9" cy="147.7" r="3.5"/>
<circle cx="208.6" cy="147.5" r="3.5"/>
<circle cx="211.9" cy="148.1" r="3.5"/>
<circle cx="215.4" cy="147.6" r="3.5"/>
<circle cx="218.0" cy="148.1" r="3.5"/>
<circle cx="222.0" cy="148.2" r="3.5"/>
<circle cx="225.2" cy="147.3" r="3.5"/>
<circle cx="227.8" cy="147.8" r="3.5"/>
<circle cx="231.1" cy="148.2" r="3.5"/>
<circle cx="234.1" cy="147.2" r="3.5"/>
<circle cx="237.6" cy="147.3" r="3.5"/>
<circle cx="240.3" cy="147.9" r="3.5"/>
<circle cx="244.2" cy="147.9" r="3.5"/>
<circle cx="246.8" cy="147.9" r="3.5"/>
<circle cx="250.5" cy="147.6" r="3.5"/>
<circle cx="253.4" cy="147.4" r="3.5"/>
<circle cx="256.9" cy="147.6" r="3.5"/>
<circle cx="260.2" cy="148.0" r="3.5"/>
<circle cx="263.0" cy="147.9" r="3.5"/>
<circle cx="266.2" cy="148.1" r="3.5"/>
<circle cx="269.3" cy="147.9" r="3.5"/>
<circle cx="273.2" cy="148.2" r="3.5"/>
<circle cx="276.1" cy="148.3" r="3.5"/>
<circle cx="279.9" cy="148.2" r="3.5"/>
<circle cx="282.3" cy="147.5" r="3.5"/>
<circle cx="285.9" cy="147.4" r="3.5"/>
<circle cx="288.5" cy="147.3" r="3.5"/>
<circle cx="292.3" cy="147.7" r="3.5"/>
<circle cx="295.8" cy="148.2" r="3.5"/>
<circle cx="298.5" cy="147.6" r="3.5"/>
<circle cx="301.5" cy="147.3" r="3.5"/>
<circle cx="304.4" cy="148.2" r="3.5"/>
<circle cx="307.9" cy="147.2" r="3.5"/>
<circle cx="311.9" cy="147.7" r="3.5"/>
<circle cx="314.8" cy="147.7" r="3.5"/>
<circle cx="318.3" cy="147.3" r="3.5"/>
<circle cx="320.9" cy="148.0" r="3.5"/>
<circle cx="323.5" cy="148.3" r="3.5"/>
<circle cx="327.1" cy="148.0" r="3.5"/>
<circle cx="330.0" cy="147.3" r="3.5"/>
<circle cx="333.2" cy="148.1" r="3.5"/>
<circle cx="337.4" cy="148.3" r="3.5"/>
<circle cx="340.1" cy="147.3" r="3.5"/>
<circle cx="343.6" cy="147.8" r="3.5"/>
<circle cx="346.8" cy="148.0" r="3.5"/>
<circle cx="349.8" cy="147.4" r="3.5"/>
<circle cx="352.5" cy="147.3" r="3.5"/>
<circle cx="356.0" cy="147.5" r="3.5"/>
<circle cx="359.8" cy="147.3" r="3.5"/>
<circle cx="362.8" cy="147.3" r="3.5"/>
<circle cx="365.2" cy="148.3" r="3.5"/>
<circle cx="368.6" cy="147.9" r="3.5"/>
<circle cx="372.2" cy="147.7" r="3.5"/>
<circle cx="375.1" cy="147.4" r="3.5"/>
<circle cx="378.7" cy="147.6" r="3.5"/>
<circle cx="381.8" cy="148.2" r="3.5"/>
<circle cx="384.4" cy="147.7" r="3.5"/>
<circle cx="63.1" cy="151.2" r="3.5"/>
<circle cx="66.6" cy="150.3" r="3.5"/>
<circle cx="69.7" cy="150.1" r="3.5"/>
<circle cx="72.9" cy="150.2" r="3.5"/>
<circle cx="75.7" cy="150.7" r="3.5"/>
<circle cx="79.3" cy="150.4" r="3.5"/>
<circle cx="82.6" cy="150.5" r="3.5"/>
<circle cx="85.9" cy="150.2" r="3.5"/>
<circle cx="89.3" cy="150.6" r="3.5"/>
<circle cx="91.7" cy="150.4" r="3.5"/>
<circle cx="95.5" cy="150.2" r="3.5"/>
<circle cx="99.0" cy="150.4" r="3.5"/>
<circle cx="101.6" cy="150.2" r="3.5"/>
<circle cx="104.8" cy="151.3" r="3.5"/>
<circle cx="107.7" cy="150.3" r="3.5"/>
<circle cx="111.4" cy="150.9" r="3.5"/>
<circle cx="114.1" cy="150.4" r="3.5"/>
<circle cx="117.8" cy="150.4" r="3.5"/>
<circle cx="120.3" cy="150.9" r="3.5"/>
<circle cx="124.5" cy="151.1" r="3.5"/>
<circle cx="127.7" cy="150.4" r="3.5"/>
<circle cx="130.3" cy="150.8" r="3.5"/>
<circle cx="133.8" cy="150.9" r="3.5"/>
<circle cx="137.0" cy="150.4" r="3.5"/>
<circle cx="139.8" cy="150.2" r="3.5"/>
<circle cx="142.8" cy="150.8" r="3.5"/>
<circle cx="146.0" cy="151.2" r="3.5"/>
<circle cx="150.3" cy="150.3" r="3.5"/>
<circle cx="153.5" cy="150.8" r="3.5"/>
<circle cx="155.5" cy="150.6" r="3.5"/>
<circle cx="159.1" cy="150.5" r="3.5"/>
<circle cx="162.0" cy="150.4" r="3.5"/>
<circle cx="165.1" cy="150.6" r="3.5"/>
<circle cx="168.9" cy="150.4" r="3.5"/>
<circle cx="172.6" cy="151.2" r="3.5"/>
<circle cx="175.3" cy="151.1" r="3.5"/>
<circle cx="178.3" cy="151.0" r="3.5"/>
<circle cx="182.0" cy="150.5" r="3.5"/>
<circle cx="185.2" cy="150.5" r="3.5"/>
<circle cx="187.7" cy="150.6" r="3.5"/>
<circle cx="190.8" cy="151.0" r="3.5"/>
<circle cx="194.2" cy="150.7" r="3.5"/>
<circle cx="198.1" cy="150.8" r="3.5"/>
<circle cx="201.4" cy="151.0" r="3.5"/>
<circle cx="204.3" cy="151.0" r="3.5"/>
<circle cx="207.5" cy="151.2" r="3.5"/>
<circle cx="210.6" cy="150.9" r="3.5"/>
<circle cx="213.8" cy="150.7" r="3.5"/>
<circle cx="217.4" cy="150.5" r="3.5"/>
<circle cx="219.7" cy="150.7" r="3.5"/>
<circle cx="223.1" cy="151.0" r="3.5"/>
<circle cx="226.7" cy="150.1" r="3.5"/>
<circle cx="229.4" cy="150.8" r="3.5"/>
<circle cx="232.8" cy="150.9" r="3.5"/>
<circle cx="236.1" cy="150.2" r="3.5"/>
<circle cx="239.5" cy="151.3" r="3.5"/>
<circle cx="242.0" cy="150.8" r="3.5"/>
<circle cx="245.8" cy="150.8" r="3.5"/>
<circle cx="248.9" cy="150.7" r="3.5"/>
<circle cx="252.7" cy="151.1" r="3.5"/>
<circle cx="255.2" cy="151.1" r="3.5"/>
<circle cx="258.7" cy="151.1" r="3.5"/>
<circle cx="262.3" cy="150.2" r="3.5"/>
<circle cx="264.6" cy="150.4" r="3.5"/>
<circle cx="268.5" cy="151.2" r="3.5"/>
<circle cx="271.0" cy="150.7" r="3.5"/>
<circle cx="275.0" cy="151.0" r="3.5"/>
<circle cx="277.8" cy="151.2" r="3.5"/>
<circle cx="281.4" cy="150.2" r="3.5"/>
<circle cx="284.7" cy="150.4" r="3.5"/>
<circle cx="287.4" cy="151.0" r="3.5"/>
<circle cx="290.3" cy="150.5" r="3.5"/>
<circle cx="294.2" cy="151.0" r="3.5"/>
<circle cx="297.5" cy="150.2" r="3.5"/>
<circle cx="300.3" cy="151.0" r="3.5"/>
<circle cx="303.8" cy="151.0" r="3.5"/>
<circle cx="306.2" cy="150.2" r="3.5"/>
<circle cx="309.3" cy="150.4" r="3.5"/>
<circle cx="313.0" cy="150.5" r="3.5"/>
<circle cx="315.7" cy="150.2" r="3.5"/>
<circle cx="319.5" cy="151.1" r="3.5"/>
<circle cx="322.0" cy="150.7" r="3.5"/>
<circle cx="326.3" cy="150.5" r="3.5"/>
<circle cx="328.9" cy="151.1" r="3.5"/>
<circle cx="331.5" cy="151.1" r="3.5"/>
<circle cx="335.6" cy="151.0" r="3.5"/>
<circle cx="338.3" cy="150.7" r="3.5"/>
<circle cx="342.2" cy="150.2" r="3.5"/>
<circle cx="344.4" cy="150.9" r="3.5"/>
<circle cx="348.6" cy="150.3" r="3.5"/>
<circle cx="350.9" cy="150.7" r="3.5"/>
<circle cx="354.8" cy="150.8" r="3.5"/>
<circle cx="366.8" cy="150.5" r="3.5"/>
<circle cx="370.4" cy="150.5" r="3.5"/>
<circle cx="373.3" cy="150.2" r="3.5"/>
<circle cx="377.1" cy="151.2" r="3.5"/>
<circle cx="380.3" cy="151.2" r="3.5"/>
<circle cx="382.9" cy="150.8" r="3.5"/>
<circle cx="65.0" cy="153.7" r="3.5"/>
<circle cx="68.6" cy="154.1" r="3.5"/>
<circle cx="70.9" cy="153.5" r="3.5"/>
<circle cx="74.0" cy="153.7" r="3.5"/>
<circle cx="77.4" cy="153.8" r="3.5"/>
<circle cx="80.7" cy="153.0" r="3.5"/>
<circle cx="84.6" cy="153.2" r="3.5"/>
<circle cx="87.0" cy="153.6" r="3.5"/>
<circle cx="90.0" cy="153.9" r="3.5"/>
<circle cx="94.0" cy="153.1" r="3.5"/>
<circle cx="97.0" cy="153.2" r="3.5"/>
<circle cx="100.1" cy="153.1" r="3.5"/>
<circle cx="103.0" cy="153.5" r="3.5"/>
<circle cx="106.6" cy="153.8" r="3.5"/>
<circle cx="110.2" cy="153.4" r="3.5"/>
<circle cx="112.7" cy="153.3" r="3.5"/>
<circle cx="116.4" cy="153.4" r="3.5"/>
<circle cx="119.0" cy="153.2" r="3.5"/>
<circle cx="122.4" cy="154.0" r="3.5"/>
<circle cx="125.6" cy="154.0" r="3.5"/>
<circle cx="128.9" cy="153.7" r="3.5"/>
<circle cx="131.8" cy="153.5" r="3.5"/>
<circle cx="135.6" cy="153.1" r="3.5"/>
<circle cx="138.4" cy="153.3" r="3.5"/>
<circle cx="141.4" cy="153.4" r="3.5"/>
<circle cx="144.5" cy="153.7" r="3.5"/>
<circle cx="147.5" cy="153.3" r="3.5"/>
<circle cx="151.0" cy="153.2" r="3.5"/>
<circle cx="154.9" cy="153.8" r="3.5"/>
<circle cx="158.2" cy="153.2" r="3.5"/>
<circle cx="160.5" cy="153.4" r="3.5"/>
<circle cx="164.1" cy="154.0" r="3.5"/>
<circle cx="167.7" cy="154.0" r="3.5"/>
<circle cx="169.9" cy="153.0" r="3.5"/>
<circle cx="173.5" cy="153.5" r="3.5"/>
<circle cx="176.3" cy="153.4" r="3.5"/>
<circle cx="179.7" cy="154.0" r="3.5"/>
<circle cx="183.0" cy="153.4" r="3.5"/>
<circle cx="186.1" cy="154.0" r="3.5"/>
<circle cx="189.2" cy="153.5" r="3.5"/>
<circle cx="192.6" cy="153.3" r="3.5"/>
<circle cx="196.7" cy="153.9" r="3.5"/>
<circle cx="199.6" cy="153.4" r="3.5"/>
<circle cx="203.1" cy="154.2" r="3.5"/>
<circle cx="205.9" cy="153.3" r="3.5"/>
<circle cx="208.4" cy="153.7" r="3.5"/>
<circle cx="212.1" cy="154.0" r="3.5"/>
<circle cx="215.9" cy="154.0" r="3.5"/>
<circle cx="218.2" cy="154.2" r="3.5"/>
<circle cx="221.8" cy="153.0" r="3.5"/>
<circle cx="224.5" cy="154.2" r="3.5"/>
<circle cx="228.5" cy="153.9" r="3.5"/>
<circle cx="231.5" cy="153.0" r="3.5"/>
<circle cx="235.0" cy="153.4" r="3.5"/>
<circle cx="238.0" cy="153.6" r="3.5"/>
<circle cx="240.9" cy="153.6" r="3.5"/>
<circle cx="244.6" cy="154.0" r="3.5"/>
<circle cx="247.2" cy="154.0" r="3.5"/>
<circle cx="250.1" cy="153.4" r="3.5"/>
<circle cx="253.5" cy="153.1" r="3.5"/>
<circle cx="256.8" cy="153.0" r="3.5"/>
<circle cx="260.7" cy="154.0" r="3.5"/>
<circle cx="263.3" cy="153.1" r="3.5"/>
<circle cx="266.2" cy="153.9" r="3.5"/>
<circle cx="269.5" cy="153.1" r="3.5"/>
<circle cx="272.8" cy="153.7" r="3.5"/>
<circle cx="275.7" cy="153.5" r="3.5"/>
<circle cx="279.4" cy="153.9" r="3.5"/>
<circle cx="282.4" cy="154.2" r="3.5"/>
<circle cx="285.4" cy="153.9" r="3.5"/>
<circle cx="288.4" cy="154.1" r="3.5"/>
<circle cx="292.2" cy="153.2" r="3.5"/>
<circle cx="295.7" cy="154.1" r="3.5"/>
<circle cx="298.1" cy="154.1" r="3.5"/>
<circle cx="302.3" cy="153.4" r="3.5"/>
<circle cx="305.2" cy="153.9" r="3.5"/>
<circle cx="308.2" cy="153.5" r="3.5"/>
<circle cx="311.1" cy="154.0" r="3.5"/>
<circle cx="314.8" cy="154.1" r="3.5"/>
<circle cx="317.2" cy="153.7" r="3.5"/>
<circle cx="321.1" cy="153.3" r="3.5"/>
<circle cx="323.5" cy="154.1" r="3.5"/>
<circle cx="327.6" cy="153.9" r="3.5"/>
<circle cx="330.3" cy="153.5" r="3.5"/>
<circle cx="334.1" cy="153.1" r="3.5"/>
<circle cx="337.2" cy="153.8" r="3.5"/>
<circle cx="340.1" cy="154.1" r="3.5"/>
<circle cx="343.5" cy="154.1" r="3.5"/>
<circle cx="346.1" cy="153.5" r="3.5"/>
<circle cx="349.5" cy="153.6" r="3.5"/>
<circle cx="353.2" cy="154.2" r="3.5"/>
<circle cx="356.6" cy="154.0" r="3.5"/>
<circle cx="371.9" cy="153.3" r="3.5"/>
<circle cx="374.8" cy="153.6" r="3.5"/>
<circle cx="378.3" cy="154.1" r="3.5"/>
<circle cx="381.9" cy="153.5" r="3.5"/>
<circle cx="384.5" cy="153.1" r="3.5"/>
<circle cx="63.5" cy="156.6" r="3.5"/>
<circle cx="66.5" cy="156.5" r="3.5"/>
<circle cx="69.6" cy="157.0" r="3.5"/>
<circle cx="72.4" cy="156.2" r="3.5"/>
<circle cx="76.5" cy="156.3" r="3.5"/>
<circle cx="79.1" cy="156.4" r="3.5"/>
<circle cx="82.3" cy="156.8" r="3.5"/>
<circle cx="85.2" cy="156.6" r="3.5"/>
<circle cx="89.2" cy="156.3" r="3.5"/>
<circle cx="92.4" cy="156.3" r="3.5"/>
<circle cx="95.4" cy="156.0" r="3.5"/>
<circle cx="98.3" cy="156.6" r="3.5"/>
<circle cx="101.8" cy="156.5" r="3.5"/>
<circle cx="104.3" cy="156.5" r="3.5"/>
<circle cx="108.5" cy="156.2" r="3.5"/>
<circle cx="110.9" cy="156.6" r="3.5"/>
<circle cx="114.2" cy="156.0" r="3.5"/>
<circle cx="117.2" cy="156.6" r="3.5"/>
<circle cx="121.4" cy="156.8" r="3.5"/>
<circle cx="124.2" cy="156.9" r="3.5"/>
<circle cx="127.7" cy="156.2" r="3.5"/>
<circle cx="130.4" cy="157.1" r="3.5"/>
<circle cx="134.2" cy="156.7" r="3.5"/>
<circle cx="137.1" cy="156.3" r="3.5"/>
<circle cx="139.6" cy="156.3" r="3.5"/>
<circle cx="143.0" cy="156.7" r="3.5"/>
<circle cx="146.7" cy="156.7" r="3.5"/>
<circle cx="150.2" cy="155.9" r="3.5"/>
<circle cx="152.5" cy="156.0" r="3.5"/>
<circle cx="155.9" cy="157.0" r="3.5"/>
<circle cx="159.3" cy="156.9" r="3.5"/>
<circle cx="162.1" cy="156.3" r="3.5"/>
<circle cx="166.1" cy="156.3" r="3.5"/>
<circle cx="169.2" cy="156.6" r="3.5"/>
<circle cx="172.3" cy="155.9" r="3.5"/>
<circle cx="175.1" cy="157.1" r="3.5"/>
<circle cx="178.4" cy="156.2" r="3.5"/>
<circle cx="182.3" cy="156.6" r="3.5"/>
<circle cx="185.1" cy="156.5" r="3.5"/>
<circle cx="188.2" cy="156.4" r="3.5"/>
<circle cx="191.0" cy="156.2" r="3.5"/>
<circle cx="194.2" cy="156.7" r="3.5"/>
<circle cx="197.2" cy="156.0" r="3.5"/>
<circle cx="200.9" cy="157.1" r="3.5"/>
<circle cx="204.4" cy="156.7" r="3.5"/>
<circle cx="207.6" cy="156.1" r="3.5"/>
<circle cx="210.5" cy="155.9" r="3.5"/>
<circle cx="213.7" cy="155.9" r="3.5"/>
<circle cx="216.4" cy="156.0" r="3.5"/>
<circle cx="219.9" cy="156.5" r="3.5"/>
<circle cx="223.0" cy="156.0" r="3.5"/>
<circle cx="226.0" cy="157.0" r="3.5"/>
<circle cx="230.3" cy="157.0" r="3.5"/>
<circle cx="232.5" cy="156.1" r="3.5"/>
<circle cx="236.6" cy="155.9" r="3.5"/>
<circle cx="246.1" cy="156.3" r="3.5"/>
<circle cx="252.6" cy="157.1" r="3.5"/>
<circle cx="255.6" cy="156.8" r="3.5"/>
<circle cx="258.7" cy="156.4" r="3.5"/>
<circle cx="261.8" cy="157.0" r="3.5"/>
<circle cx="265.0" cy="155.9" r="3.5"/>
<circle cx="268.0" cy="156.9" r="3.5"/>
<circle cx="271.6" cy="156.5" r="3.5"/>
<circle cx="275.0" cy="156.8" r="3.5"/>
<circle cx="277.4" cy="156.7" r="3.5"/>
<circle cx="281.3" cy="155.9" r="3.5"/>
<circle cx="284.6" cy="156.4" r="3.5"/>
<circle cx="287.7" cy="155.9" r="3.5"/>
<circle cx="290.3" cy="156.3" r="3.5"/>
<circle cx="293.4" cy="156.7" r="3.5"/>
<circle cx="297.3" cy="156.7" r="3.5"/>
<circle cx="300.6" cy="156.0" r="3.5"/>
<circle cx="303.0" cy="156.4" r="3.5"/>
<circle cx="306.9" cy="156.8" r="3.5"/>
<circle cx="310.3" cy="156.9" r="3.5"/>
<circle cx="312.9" cy="156.8" r="3.5"/>
<circle cx="316.5" cy="156.5" r="3.5"/>
<circle cx="319.5" cy="156.9" r="3.5"/>
<circle cx="322.9" cy="156.1" r="3.5"/>
<circle cx="325.1" cy="156.7" r="3.5"/>
<circle cx="338.7" cy="156.6" r="3.5"/>
<circle cx="341.3" cy="157.0" r="3.5"/>
<circle cx="344.6" cy="156.9" r="3.5"/>
<circle cx="355.0" cy="156.4" r="3.5"/>
<circle cx="357.6" cy="156.2" r="3.5"/>
<circle cx="376.8" cy="156.0" r="3.5"/>
<circle cx="65.3" cy="158.8" r="3.5"/>
<circle cx="67.5" cy="159.3" r="3.5"/>
<circle cx="71.2" cy="159.8" r="3.5"/>
<circle cx="74.9" cy="159.1" r="3.5"/>
<circle cx="78.0" cy="159.2" r="3.5"/>
<circle cx="81.2" cy="159.6" r="3.5"/>
<circle cx="83.6" cy="159.4" r="3.5"/>
<circle cx="87.2" cy="159.4" r="3.5"/>
<circle cx="90.6" cy="159.6" r="3.5"/>
<circle cx="93.6" cy="159.4" r="3.5"/>
<circle cx="97.3" cy="159.6" r="3.5"/>
<circle cx="99.7" cy="159.0" r="3.5"/>
<circle cx="103.0" cy="159.9" r="3.5"/>
<circle cx="106.4" cy="159.9" r="3.5"/>
<circle cx="110.3" cy="159.6" r="3.5"/>
<circle cx="112.7" cy="159.7" r="3.5"/>
<circle cx="116.1" cy="159.9" r="3.5"/>
<circle cx="119.3" cy="159.6" r="3.5"/>
<circle cx="122.7" cy="159.6" r="3.5"/>
<circle cx="125.3" cy="159.5" r="3.5"/>
<circle cx="128.8" cy="159.6" r="3.5"/>
<circle cx="132.4" cy="159.0" r="3.5"/>
<circle cx="135.1" cy="159.1" r="3.5"/>
<circle cx="139.1" cy="159.4" r="3.5"/>
<circle cx="141.6" cy="160.0" r="3.5"/>
<circle cx="145.2" cy="159.8" r="3.5"/>
<circle cx="148.1" cy="159.0" r="3.5"/>
<circle cx="151.1" cy="158.9" r="3.5"/>
<circle cx="154.4" cy="159.3" r="3.5"/>
<circle cx="157.7" cy="160.0" r="3.5"/>
<circle cx="160.9" cy="159.0" r="3.5"/>
<circle cx="163.7" cy="159.6" r="3.5"/>
<circle cx="167.3" cy="159.3" r="3.5"/>
<circle cx="170.5" cy="159.3" r="3.5"/>
<circle cx="173.9" cy="159.5" r="3.5"/>
<circle cx="176.4" cy="159.4" r="3.5"/>
<circle cx="179.8" cy="159.5" r="3.5"/>
<circle cx="183.3" cy="159.7" r="3.5"/>
<circle cx="187.1" cy="159.7" r="3.5"/>
<circle cx="189.8" cy="159.4" r="3.5"/>
<circle cx="192.4" cy="159.7" r="3.5"/>
<circle cx="195.7" cy="159.3" r="3.5"/>
<circle cx="199.4" cy="159.1" r="3.5"/>
<circle cx="202.9" cy="159.5" r="3.5"/>
<circle cx="206.3" cy="158.8" r="3.5"/>
<circle cx="208.9" cy="159.2" r="3.5"/>
<circle cx="212.2" cy="159.6" r="3.5"/>
<circle cx="215.4" cy="159.9" r="3.5"/>
<circle cx="218.4" cy="159.2" r="3.5"/>
<circle cx="222.0" cy="159.5" r="3.5"/>
<circle cx="65.9" cy="162.0" r="3.5"/>
<circle cx="70.3" cy="162.1" r="3.5"/>
<circle cx="72.3" cy="162.0" r="3.5"/>
<circle cx="75.9" cy="162.3" r="3.5"/>
<circle cx="79.2" cy="162.1" r="3.5"/>
<circle cx="82.5" cy="162.3" r="3.5"/>
<circle cx="85.3" cy="162.3" r="3.5"/>
<circle cx="89.0" cy="162.4" r="3.5"/>
<circle cx="92.4" cy="162.2" r="3.5"/>
<circle cx="95.0" cy="162.8" r="3.5"/>
<circle cx="98.0" cy="162.1" r="3.5"/>
<circle cx="101.6" cy="162.2" r="3.5"/>
<circle cx="104.6" cy="162.7" r="3.5"/>
<circle cx="107.9" cy="162.4" r="3.5"/>
<circle cx="111.4" cy="161.9" r="3.5"/>
<circle cx="114.4" cy="161.9" r="3.5"/>
<circle cx="117.8" cy="162.6" r="3.5"/>
<circle cx="121.3" cy="162.8" r="3.5"/>
<circle cx="123.6" cy="162.3" r="3.5"/>
<circle cx="127.5" cy="162.1" r="3.5"/>
<circle cx="131.0" cy="162.3" r="3.5"/>
<circle cx="134.1" cy="161.8" r="3.5"/>
<circle cx="136.8" cy="162.5" r="3.5"/>
<circle cx="140.5" cy="162.3" r="3.5"/>
<circle cx="143.7" cy="162.6" r="3.5"/>
<circle cx="146.4" cy="162.6" r="3.5"/>
<circle cx="149.7" cy="161.8" r="3.5"/>
<circle cx="153.4" cy="162.7" r="3.5"/>
<circle cx="156.6" cy="162.0" r="3.5"/>
<circle cx="159.6" cy="161.7" r="3.5"/>
<circle cx="84.3" cy="164.6" r="3.5"/>
<circle cx="87.3" cy="164.8" r="3.5"/>
<circle cx="70.0" cy="116.0" r="3.5"/>
<circle cx="70.0" cy="164.0" r="3.5"/>
<circle cx="72.5" cy="114.0" r="3.5"/>
<circle cx="72.5" cy="164.1" r="3.5"/>
<circle cx="75.0" cy="112.0" r="3.5"/>
<circle cx="75.0" cy="164.2" r="3.5"/>
<circle cx="77.5" cy="109.5" r="3.5"/>
<circle cx="77.5" cy="164.4" r="3.5"/>
<circle cx="80.0" cy="107.0" r="3.5"/>
<circle cx="80.0" cy="164.5" r="3.5"/>
<circle cx="82.5" cy="105.7" r="3.5"/>
<circle cx="82.5" cy="164.6" r="3.5"/>
<circle cx="85.0" cy="105.1" r="3.5"/>
<circle cx="85.0" cy="164.8" r="3.5"/>
<circle cx="87.5" cy="104.6" r="3.5"/>
<circle cx="87.5" cy="164.9" r="3.5"/>
<circle cx="90.0" cy="104.0" r="3.5"/>
<circle cx="90.0" cy="165.0" r="3.5"/>
<circle cx="92.5" cy="102.8" r="3.5"/>
<circle cx="92.5" cy="165.0" r="3.5"/>
<circle cx="95.0" cy="101.7" r="3.5"/>
<circle cx="95.0" cy="165.0" r="3.5"/>
<circle cx="97.5" cy="100.5" r="3.5"/>
<circle cx="97.5" cy="165.0" r="3.5"/>
<circle cx="100.0" cy="99.4" r="3.5"/>
<circle cx="100.0" cy="165.0" r="3.5"/>
<circle cx="102.5" cy="98.2" r="3.5"/>
<circle cx="102.5" cy="165.0" r="3.5"/>
<circle cx="105.0" cy="98.0" r="3.5"/>
<circle cx="105.0" cy="165.0" r="3.5"/>
<circle cx="107.5" cy="98.0" r="3.5"/>
<circle cx="107.5" cy="165.0" r="3.5"/>
<circle cx="110.0" cy="98.0" r="3.5"/>
<circle cx="110.0" cy="165.0" r="3.5"/>
<circle cx="112.5" cy="98.0" r="3.5"/>
<circle cx="112.5" cy="164.8" r="3.5"/>
<circle cx="115.0" cy="98.0" r="3.5"/>
<circle cx="115.0" cy="164.5" r="3.5"/>
<circle cx="117.5" cy="98.0" r="3.5"/>
<circle cx="117.5" cy="164.2" r="3.5"/>
<circle cx="120.0" cy="98.0" r="3.5"/>
<circle cx="120.0" cy="164.0" r="3.5"/>
<circle cx="122.5" cy="98.0" r="3.5"/>
<circle cx="122.5" cy="163.8" r="3.5"/>
<circle cx="125.0" cy="97.0" r="3.5"/>
<circle cx="125.0" cy="163.5" r="3.5"/>
<circle cx="127.5" cy="95.8" r="3.5"/>
<circle cx="127.5" cy="163.2" r="3.5"/>
<circle cx="130.0" cy="94.5" r="3.5"/>
<circle cx="130.0" cy="163.0" r="3.5"/>
<circle cx="132.5" cy="93.2" r="3.5"/>
<circle cx="132.5" cy="163.0" r="3.5"/>
<circle cx="135.0" cy="92.0" r="3.5"/>
<circle cx="135.0" cy="163.0" r="3.5"/>
<circle cx="137.5" cy="92.0" r="3.5"/>
<circle cx="137.5" cy="163.0" r="3.5"/>
<circle cx="140.0" cy="92.0" r="3.5"/>
<circle cx="140.0" cy="163.0" r="3.5"/>
<circle cx="142.5" cy="92.0" r="3.5"/>
<circle cx="142.5" cy="163.0" r="3.5"/>
<circle cx="145.0" cy="92.0" r="3.5"/>
<circle cx="145.0" cy="163.0" r="3.5"/>
<circle cx="147.5" cy="92.5" r="3.5"/>
<circle cx="147.5" cy="163.0" r="3.5"/>
<circle cx="150.0" cy="93.0" r="3.5"/>
<circle cx="150.0" cy="163.0" r="3.5"/>
<circle cx="152.5" cy="93.5" r="3.5"/>
<circle cx="152.5" cy="162.8" r="3.5"/>
<circle cx="155.0" cy="94.0" r="3.5"/>
<circle cx="155.0" cy="162.6" r="3.5"/>
<circle cx="157.5" cy="93.5" r="3.5"/>
<circle cx="157.5" cy="162.4" r="3.5"/>
<circle cx="160.0" cy="93.0" r="3.5"/>
<circle cx="160.0" cy="162.2" r="3.5"/>
<circle cx="162.5" cy="92.5" r="3.5"/>
<circle cx="162.5" cy="162.1" r="3.5"/>
<circle cx="165.0" cy="92.0" r="3.5"/>
<circle cx="165.0" cy="161.9" r="3.5"/>
<circle cx="167.5" cy="91.6" r="3.5"/>
<circle cx="167.5" cy="161.7" r="3.5"/>
<circle cx="170.0" cy="91.2" r="3.5"/>
<circle cx="170.0" cy="161.5" r="3.5"/>
<circle cx="172.5" cy="90.8" r="3.5"/>
<circle cx="172.5" cy="161.5" r="3.5"/>
<circle cx="175.0" cy="90.5" r="3.5"/>
<circle cx="175.0" cy="161.5" r="3.5"/>
<circle cx="177.5" cy="90.1" r="3.5"/>
<circle cx="177.5" cy="161.5" r="3.5"/>
<circle cx="180.0" cy="90.4" r="3.5"/>
<circle cx="180.0" cy="161.5" r="3.5"/>
<circle cx="182.5" cy="90.9" r="3.5"/>
<circle cx="182.5" cy="161.5" r="3.5"/>
<circle cx="185.0" cy="91.5" r="3.5"/>
<circle cx="185.0" cy="161.5" r="3.5"/>
<circle cx="187.5" cy="92.0" r="3.5"/>
<circle cx="187.5" cy="161.5" r="3.5"/>
<circle cx="190.0" cy="92.5" r="3.5"/>
<circle cx="190.0" cy="161.5" r="3.5"/>
<circle cx="192.5" cy="93.1" r="3.5"/>
<circle cx="192.5" cy="161.5" r="3.5"/>
<circle cx="195.0" cy="93.8" r="3.5"/>
<circle cx="195.0" cy="161.5" r="3.5"/>
<circle cx="197.5" cy="94.4" r="3.5"/>
<circle cx="197.5" cy="161.5" r="3.5"/>
<circle cx="200.0" cy="95.0" r="3.5"/>
<circle cx="200.0" cy="161.5" r="3.5"/>
<circle cx="202.5" cy="94.7" r="3.5"/>
<circle cx="202.5" cy="161.5" r="3.5"/>
<circle cx="205.0" cy="94.4" r="3.5"/>
<circle cx="205.0" cy="161.5" r="3.5"/>
<circle cx="207.5" cy="94.1" r="3.5"/>
<circle cx="207.5" cy="161.5" r="3.5"/>
<circle cx="210.0" cy="93.8" r="3.5"/>
<circle cx="210.0" cy="161.5" r="3.5"/>
<circle cx="212.5" cy="93.4" r="3.5"/>
<circle cx="212.5" cy="161.5" r="3.5"/>
<circle cx="215.0" cy="92.7" r="3.5"/>
<circle cx="215.0" cy="161.5" r="3.5"/>
<circle cx="217.5" cy="92.0" r="3.5"/>
<circle cx="217.5" cy="161.5" r="3.5"/>
<circle cx="220.0" cy="91.3" r="3.5"/>
<circle cx="220.0" cy="161.5" r="3.5"/>
<circle cx="222.5" cy="90.7" r="3.5"/>
<circle cx="222.5" cy="161.1" r="3.5"/>
<circle cx="225.0" cy="90.0" r="3.5"/>
<circle cx="225.0" cy="158.9" r="3.5"/>
<circle cx="227.5" cy="90.2" r="3.5"/>
<circle cx="227.5" cy="157.8" r="3.5"/>
<circle cx="230.0" cy="90.3" r="3.5"/>
<circle cx="230.0" cy="157.6" r="3.5"/>
<circle cx="232.5" cy="90.5" r="3.5"/>
<circle cx="232.5" cy="157.3" r="3.5"/>
<circle cx="235.0" cy="90.7" r="3.5"/>
<circle cx="235.0" cy="157.0" r="3.5"/>
<circle cx="237.5" cy="90.8" r="3.5"/>
<circle cx="237.5" cy="156.8" r="3.5"/>
<circle cx="240.0" cy="91.0" r="3.5"/>
<circle cx="240.0" cy="156.5" r="3.5"/>
<circle cx="242.5" cy="90.8" r="3.5"/>
<circle cx="242.5" cy="156.6" r="3.5"/>
<circle cx="245.0" cy="90.6" r="3.5"/>
<circle cx="245.0" cy="156.7" r="3.5"/>
<circle cx="247.5" cy="90.4" r="3.5"/>
<circle cx="247.5" cy="156.8" r="3.5"/>
<circle cx="250.0" cy="90.2" r="3.5"/>
<circle cx="250.0" cy="156.9" r="3.5"/>
<circle cx="252.5" cy="90.3" r="3.5"/>
<circle cx="252.5" cy="157.1" r="3.5"/>
<circle cx="255.0" cy="92.0" r="3.5"/>
<circle cx="255.0" cy="157.8" r="3.5"/>
<circle cx="257.5" cy="93.7" r="3.5"/>
<circle cx="257.5" cy="158.4" r="3.5"/>
<circle cx="260.0" cy="95.3" r="3.5"/>
<circle cx="260.0" cy="158.2" r="3.5"/>
<circle cx="262.5" cy="97.0" r="3.5"/>
<circle cx="262.5" cy="157.9" r="3.5"/>
<circle cx="265.0" cy="98.3" r="3.5"/>
<circle cx="265.0" cy="157.5" r="3.5"/>
<circle cx="267.5" cy="99.2" r="3.5"/>
<circle cx="267.5" cy="157.8" r="3.5"/>
<circle cx="270.0" cy="100.0" r="3.5"/>
<circle cx="270.0" cy="158.1" r="3.5"/>
<circle cx="272.5" cy="98.6" r="3.5"/>
<circle cx="272.5" cy="158.3" r="3.5"/>
<circle cx="275.0" cy="97.1" r="3.5"/>
<circle cx="275.0" cy="158.4" r="3.5"/>
<circle cx="277.5" cy="96.1" r="3.5"/>
<circle cx="277.5" cy="158.2" r="3.5"/>
<circle cx="280.0" cy="96.4" r="3.5"/>
<circle cx="280.0" cy="158.0" r="3.5"/>
<circle cx="282.5" cy="96.8" r="3.5"/>
<circle cx="282.5" cy="157.7" r="3.5"/>
<circle cx="285.0" cy="97.5" r="3.5"/>
<circle cx="285.0" cy="157.5" r="3.5"/>
<circle cx="287.5" cy="98.8" r="3.5"/>
<circle cx="287.5" cy="157.7" r="3.5"/>
<circle cx="290.0" cy="100.0" r="3.5"/>
<circle cx="290.0" cy="157.8" r="3.5"/>
<circle cx="292.5" cy="100.2" r="3.5"/>
<circle cx="292.5" cy="158.0" r="3.5"/>
<circle cx="295.0" cy="158.2" r="3.5"/>
<circle cx="297.5" cy="158.3" r="3.5"/>
<circle cx="300.0" cy="158.5" r="3.5"/>
<circle cx="302.5" cy="100.8" r="3.5"/>
<circle cx="302.5" cy="158.4" r="3.5"/>
<circle cx="305.0" cy="100.5" r="3.5"/>
<circle cx="305.0" cy="158.2" r="3.5"/>
<circle cx="307.5" cy="100.2" r="3.5"/>
<circle cx="307.5" cy="158.1" r="3.5"/>
<circle cx="310.0" cy="100.0" r="3.5"/>
<circle cx="310.0" cy="157.9" r="3.5"/>
<circle cx="312.5" cy="100.0" r="3.5"/>
<circle cx="312.5" cy="157.8" r="3.5"/>
<circle cx="315.0" cy="157.7" r="3.5"/>
<circle cx="317.5" cy="157.5" r="3.5"/>
<circle cx="320.0" cy="157.4" r="3.5"/>
<circle cx="322.5" cy="157.2" r="3.5"/>
<circle cx="325.0" cy="97.5" r="3.5"/>
<circle cx="325.0" cy="157.1" r="3.5"/>
<circle cx="327.5" cy="97.1" r="3.5"/>
<circle cx="327.5" cy="156.6" r="3.5"/>
<circle cx="330.0" cy="97.2" r="3.5"/>
<circle cx="330.0" cy="154.5" r="3.5"/>
<circle cx="332.5" cy="97.3" r="3.5"/>
<circle cx="332.5" cy="154.5" r="3.5"/>
<circle cx="335.0" cy="97.5" r="3.5"/>
<circle cx="335.0" cy="154.5" r="3.5"/>
<circle cx="337.5" cy="97.4" r="3.5"/>
<circle cx="337.5" cy="156.2" r="3.5"/>
<circle cx="340.0" cy="97.2" r="3.5"/>
<circle cx="340.0" cy="158.0" r="3.5"/>
<circle cx="342.5" cy="97.1" r="3.5"/>
<circle cx="342.5" cy="158.0" r="3.5"/>
<circle cx="345.0" cy="97.5" r="3.5"/>
<circle cx="345.0" cy="157.0" r="3.5"/>
<circle cx="347.5" cy="98.8" r="3.5"/>
<circle cx="347.5" cy="155.2" r="3.5"/>
<circle cx="350.0" cy="155.9" r="3.5"/>
<circle cx="352.5" cy="156.5" r="3.5"/>
<circle cx="355.0" cy="156.5" r="3.5"/>
<circle cx="357.5" cy="156.5" r="3.5"/>
<circle cx="360.0" cy="156.5" r="3.5"/>
<circle cx="367.5" cy="153.5" r="3.5"/>
<circle cx="370.0" cy="99.0" r="3.5"/>
<circle cx="370.0" cy="153.5" r="3.5"/>
<circle cx="372.5" cy="99.5" r="3.5"/>
<circle cx="372.5" cy="153.5" r="3.5"/>
<circle cx="375.0" cy="100.0" r="3.5"/>
<circle cx="375.0" cy="154.7" r="3.5"/>
<circle cx="377.5" cy="100.5" r="3.5"/>
<circle cx="377.5" cy="156.9" r="3.5"/>
<circle cx="380.0" cy="101.0" r="3.5"/>
<circle cx="380.0" cy="156.1" r="3.5"/>
<circle cx="382.5" cy="102.9" r="3.5"/>
<circle cx="382.5" cy="155.4" r="3.5"/>
<circle cx="123.0" cy="75.4" r="3.5"/>
<circle cx="122.2" cy="82.1" r="3.5"/>
<circle cx="118.0" cy="86.3" r="3.5"/>
<circle cx="115.5" cy="89.6" r="3.5"/>
<circle cx="123.0" cy="94.7" r="3.5"/>
<circle cx="116.3" cy="95.5" r="3.5"/>
<circle cx="103.2" cy="83.3" r="3.5"/>
<circle cx="90.7" cy="87.6" r="3.5"/>
<circle cx="81.1" cy="95.5" r="3.5"/>
<circle cx="68.1" cy="105.7" r="3.5"/>
<circle cx="74.4" cy="105.7" r="3.5"/>
<circle cx="84.2" cy="106.4" r="3.5"/>
<circle cx="64.9" cy="118.9" r="3.5"/>
<circle cx="70.8" cy="116.4" r="3.5"/>
<circle cx="66.6" cy="129.0" r="3.5"/>
<circle cx="60.7" cy="150.2" r="3.5"/>
<circle cx="61.5" cy="146.0" r="3.5"/>
<circle cx="135.3" cy="80.6" r="3.5"/>
<circle cx="145.3" cy="76.2" r="3.5"/>
<circle cx="149.5" cy="83.8" r="3.5"/>
<circle cx="155.3" cy="83.8" r="3.5"/>
<circle cx="161.5" cy="82.9" r="3.5"/>
<circle cx="157.0" cy="87.1" r="3.5"/>
<circle cx="177.6" cy="82.9" r="3.5"/>
<circle cx="190.5" cy="78.8" r="3.5"/>
<circle cx="197.0" cy="78.8" r="3.5"/>
<circle cx="197.2" cy="86.3" r="3.5"/>
<circle cx="198.0" cy="91.3" r="3.5"/>
<circle cx="181.3" cy="88.0" r="3.5"/>
<circle cx="152.8" cy="93.0" r="3.5"/>
<circle cx="141.0" cy="88.8" r="3.5"/>
<circle cx="192.2" cy="98.0" r="3.5"/>
<circle cx="204.0" cy="86.4" r="3.5"/>
<circle cx="212.8" cy="84.0" r="3.5"/>
<circle cx="219.6" cy="75.1" r="3.5"/>
<circle cx="225.4" cy="72.1" r="3.5"/>
<circle cx="235.4" cy="72.1" r="3.5"/>
<circle cx="226.6" cy="82.7" r="3.5"/>
<circle cx="243.0" cy="81.4" r="3.5"/>
<circle cx="250.5" cy="82.2" r="3.5"/>
<circle cx="255.0" cy="74.4" r="3.5"/>
<circle cx="261.3" cy="56.3" r="3.5"/>
<circle cx="263.5" cy="75.2" r="3.5"/>
<circle cx="254.5" cy="73.9" r="3.5"/>
<circle cx="252.5" cy="81.5" r="3.5"/>
<circle cx="258.0" cy="86.0" r="3.5"/>
<circle cx="263.8" cy="85.2" r="3.5"/>
<circle cx="276.9" cy="80.2" r="3.5"/>
<circle cx="293.0" cy="82.2" r="3.5"/>
<circle cx="296.8" cy="81.2" r="3.5"/>
<circle cx="290.2" cy="87.2" r="3.5"/>
<circle cx="315.3" cy="86.5" r="3.5"/>
<circle cx="306.5" cy="90.3" r="3.5"/>
<circle cx="325.4" cy="92.8" r="3.5"/>
<circle cx="329.1" cy="77.2" r="3.5"/>
<circle cx="335.5" cy="79.0" r="3.5"/>
<circle cx="341.0" cy="80.2" r="3.5"/>
<circle cx="338.0" cy="87.7" r="3.5"/>
<circle cx="344.2" cy="85.2" r="3.5"/>
<circle cx="348.0" cy="87.7" r="3.5"/>
<circle cx="353.0" cy="90.3" r="3.5"/>
<circle cx="282.7" cy="91.5" r="3.5"/>
<circle cx="278.0" cy="91.5" r="3.5"/>
<circle cx="296.5" cy="95.3" r="3.5"/>
<circle cx="310.3" cy="94.0" r="3.5"/>
<circle cx="315.8" cy="99.0" r="3.5"/>
<circle cx="377.2" cy="79.7" r="3.5"/>
<circle cx="381.0" cy="81.5" r="3.5"/>
<circle cx="380.8" cy="85.0" r="3.5"/>
<circle cx="380.8" cy="89.0" r="3.5"/>
<circle cx="380.8" cy="93.0" r="3.5"/>
<circle cx="380.6" cy="97.0" r="3.5"/>
<circle cx="347.0" cy="86.5" r="3.5"/>
<circle cx="353.3" cy="90.3" r="3.5"/>
<circle cx="356.0" cy="94.5" r="3.5"/>
<circle cx="364.6" cy="94.0" r="3.5"/>
<circle cx="370.9" cy="94.0" r="3.5"/>
<circle cx="368.0" cy="99.5" r="3.5"/>
<circle cx="386.0" cy="100.3" r="3.5"/>
<circle cx="384.0" cy="97.0" r="3.5"/>
<circle cx="387.0" cy="101.0" r="3.5"/>
<circle cx="384.7" cy="115.0" r="3.5"/>
<circle cx="388.5" cy="131.4" r="3.5"/>
<circle cx="387.0" cy="150.0" r="3.5"/>
<circle cx="386.0" cy="108.0" r="3.5"/>
<circle cx="386.0" cy="122.0" r="3.5"/>
<circle cx="387.0" cy="140.0" r="3.5"/>
<circle cx="386.0" cy="145.0" r="3.5"/>
<circle cx="385.0" cy="157.0" r="3.5"/>
<circle cx="386.5" cy="126.0" r="3.5"/>
<circle cx="349.0" cy="99.8" r="3.5"/>
<circle cx="352.5" cy="96.5" r="3.5"/>
<circle cx="346.5" cy="103.0" r="3.5"/>
<circle cx="196.5" cy="91.5" r="3.5"/>
<circle cx="202.8" cy="91.5" r="3.5"/>
<circle cx="212.8" cy="90.2" r="3.5"/>
<circle cx="219.0" cy="90.2" r="3.5"/>
<circle cx="233.0" cy="84.0" r="3.5"/>
<circle cx="236.7" cy="82.7" r="3.5"/>
<circle cx="260.5" cy="84.0" r="3.5"/>
<circle cx="254.3" cy="87.7" r="3.5"/>
<circle cx="246.7" cy="87.7" r="3.5"/>
<circle cx="170.0" cy="87.5" r="3.5"/>
<circle cx="165.5" cy="86.5" r="3.5"/>
<circle cx="184.0" cy="88.5" r="3.5"/>
<circle cx="190.0" cy="89.0" r="3.5"/>
<circle cx="207.0" cy="89.0" r="3.5"/>
<circle cx="224.0" cy="87.0" r="3.5"/>
<circle cx="229.0" cy="86.5" r="3.5"/>
<circle cx="240.0" cy="86.0" r="3.5"/>
<circle cx="260.0" cy="86.5" r="3.5"/>
<circle cx="257.5" cy="92.8" r="3.5"/>
<circle cx="253.8" cy="89.0" r="3.5"/>
<circle cx="273.9" cy="94.0" r="3.5"/>
<circle cx="267.6" cy="94.0" r="3.5"/>
<circle cx="263.8" cy="96.5" r="3.5"/>
<circle cx="268.8" cy="99.0" r="3.5"/>
<circle cx="287.7" cy="99.0" r="3.5"/>
<circle cx="282.7" cy="97.8" r="3.5"/>
<circle cx="300.3" cy="100.3" r="3.5"/>
<circle cx="315.8" cy="94.0" r="3.5"/>
<circle cx="304.0" cy="99.0" r="3.5"/>
<circle cx="330.4" cy="100.3" r="3.5"/>
<circle cx="335.4" cy="99.0" r="3.5"/>
<circle cx="358.0" cy="94.0" r="3.5"/>
<circle cx="363.0" cy="95.3" r="3.5"/>
<circle cx="338.0" cy="96.5" r="3.5"/>
<circle cx="344.2" cy="96.5" r="3.5"/>
<circle cx="349.2" cy="99.0" r="3.5"/>
<circle cx="378.0" cy="84.0" r="3.5"/>
<circle cx="378.0" cy="88.0" r="3.5"/>
<circle cx="378.5" cy="92.0" r="3.5"/>
<circle cx="379.0" cy="96.0" r="3.5"/>
<circle cx="150.0" cy="166.0" r="3.5"/>
<circle cx="191.5" cy="164.0" r="3.5"/>
<circle cx="216.6" cy="165.0" r="3.5"/>
<circle cx="210.0" cy="163.0" r="3.5"/>
<circle cx="200.0" cy="163.5" r="3.5"/>
<circle cx="222.0" cy="163.0" r="3.5"/>
<circle cx="379.7" cy="175.0" r="3.5"/>
<circle cx="379.7" cy="169.0" r="3.5"/>
<circle cx="370.0" cy="166.3" r="3.5"/>
<circle cx="353.8" cy="169.6" r="3.5"/>
<circle cx="344.0" cy="168.0" r="3.5"/>
<circle cx="359.6" cy="158.8" r="3.5"/>
<circle cx="379.7" cy="162.6" r="3.5"/>
<circle cx="383.0" cy="160.0" r="3.5"/>
<circle cx="267.0" cy="172.0" r="3.5"/>
<circle cx="267.0" cy="180.0" r="3.5"/>
<circle cx="273.9" cy="181.4" r="3.5"/>
<circle cx="296.5" cy="168.3" r="3.5"/>
<circle cx="311.6" cy="173.0" r="3.5"/>
<circle cx="328.4" cy="167.0" r="3.5"/>
<circle cx="341.7" cy="168.8" r="3.5"/>
<circle cx="341.7" cy="163.0" r="3.5"/>
<circle cx="354.3" cy="169.6" r="3.5"/>
<circle cx="258.8" cy="161.3" r="3.5"/>
<circle cx="273.9" cy="161.3" r="3.5"/>
<circle cx="360.0" cy="162.0" r="3.5"/>
<circle cx="156.2" cy="176.4" r="3.5"/>
<circle cx="161.3" cy="176.4" r="3.5"/>
<circle cx="158.5" cy="178.0" r="3.5"/>
<circle cx="164.3" cy="167.6" r="3.5"/>
<circle cx="174.4" cy="174.4" r="3.5"/>
<circle cx="171.4" cy="186.0" r="3.5"/>
<circle cx="167.6" cy="200.3" r="3.5"/>
<circle cx="203.3" cy="182.2" r="3.5"/>
<circle cx="185.2" cy="168.8" r="3.5"/>
<circle cx="216.0" cy="171.4" r="3.5"/>
<circle cx="225.4" cy="175.0" r="3.5"/>
<circle cx="230.4" cy="174.0" r="3.5"/>
<circle cx="235.4" cy="174.4" r="3.5"/>
<circle cx="229.0" cy="164.6" r="3.5"/>
<circle cx="241.7" cy="164.6" r="3.5"/>
<circle cx="257.8" cy="161.7" r="3.5"/>
<circle cx="90.7" cy="209.0" r="3.5"/>
<circle cx="65.0" cy="182.0" r="3.5"/>
<circle cx="71.4" cy="182.2" r="3.5"/>
<circle cx="81.4" cy="182.2" r="3.5"/>
<circle cx="81.4" cy="187.7" r="3.5"/>
<circle cx="87.7" cy="190.2" r="3.5"/>
<circle cx="94.0" cy="187.2" r="3.5"/>
<circle cx="87.7" cy="177.6" r="3.5"/>
<circle cx="94.0" cy="177.6" r="3.5"/>
<circle cx="77.6" cy="173.0" r="3.5"/>
<circle cx="100.3" cy="175.0" r="3.5"/>
<circle cx="110.3" cy="176.4" r="3.5"/>
<circle cx="122.9" cy="177.6" r="3.5"/>
<circle cx="119.8" cy="194.7" r="3.5"/>
<circle cx="145.0" cy="192.2" r="3.5"/>
<circle cx="141.7" cy="180.0" r="3.5"/>
<circle cx="138.0" cy="183.4" r="3.5"/>
<circle cx="154.3" cy="178.0" r="3.5"/>
<circle cx="160.5" cy="177.0" r="3.5"/>
<circle cx="150.5" cy="167.6" r="3.5"/>
<circle cx="163.0" cy="167.6" r="3.5"/>
<circle cx="141.7" cy="170.0" r="3.5"/>
<circle cx="133.0" cy="167.6" r="3.5"/>
<circle cx="65.0" cy="165.0" r="3.5"/>
<circle cx="63.2" cy="165.3" r="3.5"/>
<circle cx="77.5" cy="172.0" r="3.5"/>
<circle cx="90.0" cy="169.5" r="3.5"/>
<circle cx="102.6" cy="170.3" r="3.5"/>
<circle cx="111.0" cy="173.7" r="3.5"/>
<circle cx="87.5" cy="177.0" r="3.5"/>
<circle cx="121.0" cy="163.6" r="3.5"/>
<circle cx="126.0" cy="165.3" r="3.5"/>
</g>
<g fill="#c0504d">
<circle cx="107.9" cy="93.3" r="3.5"/>
<circle cx="136.7" cy="92.4" r="3.5"/>
<circle cx="139.5" cy="93.0" r="3.5"/>
<circle cx="143.1" cy="92.4" r="3.5"/>
<circle cx="103.8" cy="96.2" r="3.5"/>
<circle cx="107.1" cy="95.2" r="3.5"/>
<circle cx="109.9" cy="95.2" r="3.5"/>
<circle cx="129.3" cy="96.2" r="3.5"/>
<circle cx="131.8" cy="95.8" r="3.5"/>
<circle cx="135.6" cy="96.0" r="3.5"/>
<circle cx="138.1" cy="95.2" r="3.5"/>
<circle cx="141.2" cy="95.8" r="3.5"/>
<circle cx="144.7" cy="95.8" r="3.5"/>
<circle cx="147.7" cy="95.8" r="3.5"/>
<circle cx="104.8" cy="98.6" r="3.5"/>
<circle cx="108.5" cy="98.9" r="3.5"/>
<circle cx="110.9" cy="99.1" r="3.5"/>
<circle cx="127.0" cy="98.0" r="3.5"/>
<circle cx="130.0" cy="99.0" r="3.5"/>
<circle cx="133.6" cy="98.4" r="3.5"/>
<circle cx="136.5" cy="99.1" r="3.5"/>
<circle cx="139.5" cy="98.8" r="3.5"/>
<circle cx="142.8" cy="98.2" r="3.5"/>
<circle cx="146.5" cy="98.4" r="3.5"/>
<circle cx="100.3" cy="101.5" r="3.5"/>
<circle cx="103.2" cy="101.8" r="3.5"/>
<circle cx="106.5" cy="101.9" r="3.5"/>
<circle cx="110.2" cy="101.2" r="3.5"/>
<circle cx="112.9" cy="101.3" r="3.5"/>
<circle cx="116.6" cy="101.8" r="3.5"/>
<circle cx="125.9" cy="101.5" r="3.5"/>
<circle cx="128.9" cy="101.6" r="3.5"/>
<circle cx="131.5" cy="101.4" r="3.5"/>
<circle cx="135.5" cy="101.7" r="3.5"/>
<circle cx="138.9" cy="101.1" r="3.5"/>
<circle cx="142.2" cy="102.0" r="3.5"/>
<circle cx="145.0" cy="101.8" r="3.5"/>
<circle cx="147.7" cy="101.0" r="3.5"/>
<circle cx="151.0" cy="101.4" r="3.5"/>
<circle cx="85.5" cy="104.2" r="3.5"/>
<circle cx="95.0" cy="104.7" r="3.5"/>
<circle cx="98.5" cy="104.4" r="3.5"/>
<circle cx="101.9" cy="104.6" r="3.5"/>
<circle cx="105.4" cy="104.9" r="3.5"/>
<circle cx="107.6" cy="104.6" r="3.5"/>
<circle cx="110.7" cy="103.8" r="3.5"/>
<circle cx="114.2" cy="103.9" r="3.5"/>
<circle cx="117.3" cy="104.0" r="3.5"/>
<circle cx="121.3" cy="104.6" r="3.5"/>
<circle cx="124.1" cy="104.4" r="3.5"/>
<circle cx="127.6" cy="104.4" r="3.5"/>
<circle cx="130.0" cy="104.3" r="3.5"/>
<circle cx="133.3" cy="104.3" r="3.5"/>
<circle cx="137.5" cy="103.9" r="3.5"/>
<circle cx="139.9" cy="104.4" r="3.5"/>
<circle cx="143.5" cy="104.1" r="3.5"/>
<circle cx="146.4" cy="104.3" r="3.5"/>
<circle cx="150.2" cy="103.8" r="3.5"/>
<circle cx="153.4" cy="104.4" r="3.5"/>
<circle cx="165.5" cy="104.3" r="3.5"/>
<circle cx="169.5" cy="104.4" r="3.5"/>
<circle cx="172.3" cy="104.4" r="3.5"/>
<circle cx="83.5" cy="107.4" r="3.5"/>
<circle cx="87.8" cy="107.4" r="3.5"/>
<circle cx="90.7" cy="107.3" r="3.5"/>
<circle cx="94.0" cy="107.3" r="3.5"/>
<circle cx="97.3" cy="106.8" r="3.5"/>
<circle cx="100.1" cy="107.4" r="3.5"/>
<circle cx="102.8" cy="107.3" r="3.5"/>
<circle cx="107.0" cy="106.7" r="3.5"/>
<circle cx="110.0" cy="107.5" r="3.5"/>
<circle cx="113.4" cy="107.8" r="3.5"/>
<circle cx="116.3" cy="107.3" r="3.5"/>
<circle cx="119.3" cy="107.1" r="3.5"/>
<circle cx="122.6" cy="107.0" r="3.5"/>
<circle cx="126.1" cy="107.3" r="3.5"/>
<circle cx="128.8" cy="107.2" r="3.5"/>
<circle cx="132.4" cy="107.6" r="3.5"/>
<circle cx="135.7" cy="107.5" r="3.5"/>
<circle cx="138.2" cy="106.6" r="3.5"/>
<circle cx="141.2" cy="106.7" r="3.5"/>
<circle cx="144.9" cy="106.7" r="3.5"/>
<circle cx="148.1" cy="107.5" r="3.5"/>
<circle cx="151.2" cy="107.6" r="3.5"/>
<circle cx="154.3" cy="107.2" r="3.5"/>
<circle cx="163.7" cy="106.9" r="3.5"/>
<circle cx="167.6" cy="107.8" r="3.5"/>
<circle cx="170.2" cy="106.9" r="3.5"/>
<circle cx="174.3" cy="107.3" r="3.5"/>
<circle cx="79.4" cy="110.0" r="3.5"/>
<circle cx="82.0" cy="110.6" r="3.5"/>
<circle cx="85.9" cy="109.6" r="3.5"/>
<circle cx="89.4" cy="110.3" r="3.5"/>
<circle cx="92.5" cy="110.4" r="3.5"/>
<circle cx="94.9" cy="109.9" r="3.5"/>
<circle cx="98.1" cy="110.5" r="3.5"/>
<circle cx="102.2" cy="110.2" r="3.5"/>
<circle cx="105.1" cy="110.7" r="3.5"/>
<circle cx="108.1" cy="110.0" r="3.5"/>
<circle cx="111.0" cy="110.7" r="3.5"/>
<circle cx="114.0" cy="109.7" r="3.5"/>
<circle cx="118.1" cy="109.5" r="3.5"/>
<circle cx="120.5" cy="110.1" r="3.5"/>
<circle cx="123.8" cy="110.0" r="3.5"/>
<circle cx="126.7" cy="110.3" r="3.5"/>
<circle cx="130.0" cy="109.8" r="3.5"/>
<circle cx="133.2" cy="110.3" r="3.5"/>
<circle cx="136.6" cy="110.2" r="3.5"/>
<circle cx="139.5" cy="110.2" r="3.5"/>
<circle cx="143.1" cy="110.6" r="3.5"/>
<circle cx="146.1" cy="109.9" r="3.5"/>
<circle cx="150.1" cy="109.6" r="3.5"/>
<circle cx="152.9" cy="110.1" r="3.5"/>
<circle cx="155.8" cy="109.7" r="3.5"/>
<circle cx="165.6" cy="109.8" r="3.5"/>
<circle cx="169.2" cy="110.0" r="3.5"/>
<circle cx="77.9" cy="113.1" r="3.5"/>
<circle cx="81.0" cy="112.7" r="3.5"/>
<circle cx="83.8" cy="112.7" r="3.5"/>
<circle cx="87.9" cy="112.4" r="3.5"/>
<circle cx="90.2" cy="112.6" r="3.5"/>
<circle cx="94.1" cy="113.2" r="3.5"/>
<circle cx="96.7" cy="112.5" r="3.5"/>
<circle cx="100.3" cy="113.3" r="3.5"/>
<circle cx="103.5" cy="113.3" r="3.5"/>
<circle cx="106.6" cy="112.4" r="3.5"/>
<circle cx="110.1" cy="113.4" r="3.5"/>
<circle cx="112.5" cy="112.9" r="3.5"/>
<circle cx="116.7" cy="113.6" r="3.5"/>
<circle cx="119.7" cy="113.4" r="3.5"/>
<circle cx="122.1" cy="113.5" r="3.5"/>
<circle cx="126.1" cy="112.6" r="3.5"/>
<circle cx="129.4" cy="113.4" r="3.5"/>
<circle cx="132.6" cy="113.5" r="3.5"/>
<circle cx="134.8" cy="112.6" r="3.5"/>
<circle cx="138.9" cy="112.6" r="3.5"/>
<circle cx="141.5" cy="113.3" r="3.5"/>
<circle cx="145.3" cy="112.9" r="3.5"/>
<circle cx="148.0" cy="113.2" r="3.5"/>
<circle cx="151.9" cy="113.2" r="3.5"/>
<circle cx="154.3" cy="112.7" r="3.5"/>
<circle cx="157.3" cy="113.1" r="3.5"/>
<circle cx="161.2" cy="112.7" r="3.5"/>
<circle cx="164.4" cy="113.1" r="3.5"/>
<circle cx="167.4" cy="113.0" r="3.5"/>
<circle cx="76.4" cy="115.6" r="3.5"/>
<circle cx="78.8" cy="116.1" r="3.5"/>
<circle cx="83.1" cy="116.4" r="3.5"/>
<circle cx="86.2" cy="116.2" r="3.5"/>
<circle cx="88.3" cy="115.5" r="3.5"/>
<circle cx="92.2" cy="115.9" r="3.5"/>
<circle cx="95.7" cy="115.3" r="3.5"/>
<circle cx="98.7" cy="115.4" r="3.5"/>
<circle cx="102.0" cy="115.4" r="3.5"/>
<circle cx="104.9" cy="116.2" r="3.5"/>
<circle cx="108.7" cy="116.3" r="3.5"/>
<circle cx="111.6" cy="115.7" r="3.5"/>
<circle cx="114.7" cy="115.9" r="3.5"/>
<circle cx="117.7" cy="116.0" r="3.5"/>
<circle cx="120.8" cy="115.8" r="3.5"/>
<circle cx="124.4" cy="116.1" r="3.5"/>
<circle cx="127.9" cy="116.4" r="3.5"/>
<circle cx="130.9" cy="115.4" r="3.5"/>
<circle cx="133.7" cy="115.9" r="3.5"/>
<circle cx="137.2" cy="116.4" r="3.5"/>
<circle cx="139.7" cy="115.3" r="3.5"/>
<circle cx="143.7" cy="116.5" r="3.5"/>
<circle cx="146.3" cy="116.0" r="3.5"/>
<circle cx="149.6" cy="115.8" r="3.5"/>
<circle cx="153.1" cy="116.1" r="3.5"/>
<circle cx="156.6" cy="115.7" r="3.5"/>
<circle cx="159.3" cy="115.8" r="3.5"/>
<circle cx="163.1" cy="115.9" r="3.5"/>
<circle cx="166.2" cy="116.5" r="3.5"/>
<circle cx="168.3" cy="116.2" r="3.5"/>
<circle cx="181.5" cy="115.9" r="3.5"/>
<circle cx="70.8" cy="119.3" r="3.5"/>
<circle cx="74.0" cy="118.6" r="3.5"/>
<circle cx="78.1" cy="118.6" r="3.5"/>
<circle cx="81.4" cy="118.2" r="3.5"/>
<circle cx="83.7" cy="118.7" r="3.5"/>
<circle cx="87.5" cy="119.2" r="3.5"/>
<circle cx="91.0" cy="119.2" r="3.5"/>
<circle cx="93.3" cy="119.4" r="3.5"/>
<circle cx="96.4" cy="118.8" r="3.5"/>
<circle cx="99.9" cy="118.2" r="3.5"/>
<circle cx="102.9" cy="119.4" r="3.5"/>
<circle cx="107.1" cy="118.6" r="3.5"/>
<circle cx="110.3" cy="119.1" r="3.5"/>
<circle cx="112.3" cy="118.9" r="3.5"/>
<circle cx="115.7" cy="118.5" r="3.5"/>
<circle cx="119.6" cy="118.4" r="3.5"/>
<circle cx="122.3" cy="118.2" r="3.5"/>
<circle cx="125.5" cy="118.6" r="3.5"/>
<circle cx="128.4" cy="118.3" r="3.5"/>
<circle cx="132.0" cy="118.3" r="3.5"/>
<circle cx="135.8" cy="118.5" r="3.5"/>
<circle cx="138.3" cy="118.3" r="3.5"/>
<circle cx="142.1" cy="118.4" r="3.5"/>
<circle cx="144.4" cy="118.6" r="3.5"/>
<circle cx="148.6" cy="119.3" r="3.5"/>
<circle cx="151.3" cy="118.9" r="3.5"/>
<circle cx="154.0" cy="119.3" r="3.5"/>
<circle cx="158.0" cy="118.5" r="3.5"/>
<circle cx="161.3" cy="118.4" r="3.5"/>
<circle cx="164.1" cy="118.5" r="3.5"/>
<circle cx="167.4" cy="118.5" r="3.5"/>
<circle cx="170.6" cy="118.5" r="3.5"/>
<circle cx="173.1" cy="118.3" r="3.5"/>
<circle cx="177.2" cy="118.7" r="3.5"/>
<circle cx="180.1" cy="119.0" r="3.5"/>
<circle cx="183.0" cy="118.4" r="3.5"/>
<circle cx="70.1" cy="121.5" r="3.5"/>
<circle cx="73.0" cy="122.0" r="3.5"/>
<circle cx="76.1" cy="122.0" r="3.5"/>
<circle cx="79.0" cy="122.0" r="3.5"/>
<circle cx="82.3" cy="121.7" r="3.5"/>
<circle cx="85.3" cy="121.6" r="3.5"/>
<circle cx="89.4" cy="121.1" r="3.5"/>
<circle cx="91.7" cy="121.8" r="3.5"/>
<circle cx="95.5" cy="121.9" r="3.5"/>
<circle cx="98.7" cy="122.0" r="3.5"/>
<circle cx="101.8" cy="121.3" r="3.5"/>
<circle cx="105.0" cy="121.4" r="3.5"/>
<circle cx="107.5" cy="121.7" r="3.5"/>
<circle cx="111.9" cy="121.7" r="3.5"/>
<circle cx="114.8" cy="121.8" r="3.5"/>
<circle cx="117.1" cy="121.8" r="3.5"/>
<circle cx="121.5" cy="121.9" r="3.5"/>
<circle cx="123.9" cy="122.2" r="3.5"/>
<circle cx="127.5" cy="122.2" r="3.5"/>
<circle cx="130.9" cy="121.8" r="3.5"/>
<circle cx="133.7" cy="121.7" r="3.5"/>
<circle cx="136.7" cy="122.1" r="3.5"/>
<circle cx="139.7" cy="122.3" r="3.5"/>
<circle cx="143.1" cy="121.6" r="3.5"/>
<circle cx="146.6" cy="121.5" r="3.5"/>
<circle cx="149.8" cy="121.2" r="3.5"/>
<circle cx="153.3" cy="121.2" r="3.5"/>
<circle cx="156.5" cy="122.1" r="3.5"/>
<circle cx="159.6" cy="122.0" r="3.5"/>
<circle cx="162.1" cy="121.8" r="3.5"/>
<circle cx="165.2" cy="122.0" r="3.5"/>
<circle cx="169.2" cy="121.4" r="3.5"/>
<circle cx="172.0" cy="121.2" r="3.5"/>
<circle cx="175.5" cy="121.9" r="3.5"/>
<circle cx="178.0" cy="121.8" r="3.5"/>
<circle cx="182.2" cy="121.3" r="3.5"/>
<circle cx="70.7" cy="124.4" r="3.5"/>
<circle cx="74.5" cy="124.6" r="3.5"/>
<circle cx="77.8" cy="124.1" r="3.5"/>
<circle cx="80.3" cy="125.1" r="3.5"/>
<circle cx="84.0" cy="124.9" r="3.5"/>
<circle cx="87.8" cy="124.7" r="3.5"/>
<circle cx="90.8" cy="124.3" r="3.5"/>
<circle cx="93.4" cy="124.6" r="3.5"/>
<circle cx="97.5" cy="125.2" r="3.5"/>
<circle cx="99.8" cy="124.8" r="3.5"/>
<circle cx="103.0" cy="124.4" r="3.5"/>
<circle cx="106.2" cy="125.2" r="3.5"/>
<circle cx="109.6" cy="124.6" r="3.5"/>
<circle cx="112.4" cy="125.0" r="3.5"/>
<circle cx="115.6" cy="125.0" r="3.5"/>
<circle cx="119.0" cy="124.3" r="3.5"/>
<circle cx="122.0" cy="124.4" r="3.5"/>
<circle cx="126.2" cy="124.4" r="3.5"/>
<circle cx="128.7" cy="124.9" r="3.5"/>
<circle cx="131.8" cy="124.9" r="3.5"/>
<circle cx="135.9" cy="125.0" r="3.5"/>
<circle cx="137.9" cy="124.9" r="3.5"/>
<circle cx="142.0" cy="125.0" r="3.5"/>
<circle cx="145.0" cy="124.1" r="3.5"/>
<circle cx="148.3" cy="124.7" r="3.5"/>
<circle cx="151.3" cy="124.9" r="3.5"/>
<circle cx="154.1" cy="124.5" r="3.5"/>
<circle cx="157.9" cy="125.1" r="3.5"/>
<circle cx="161.5" cy="125.1" r="3.5"/>
<circle cx="163.8" cy="124.5" r="3.5"/>
<circle cx="167.3" cy="124.6" r="3.5"/>
<circle cx="170.0" cy="124.4" r="3.5"/>
<circle cx="174.2" cy="124.5" r="3.5"/>
<circle cx="177.4" cy="125.1" r="3.5"/>
<circle cx="180.1" cy="125.1" r="3.5"/>
<circle cx="183.9" cy="124.0" r="3.5"/>
<circle cx="69.8" cy="128.0" r="3.5"/>
<circle cx="72.9" cy="127.6" r="3.5"/>
<circle cx="76.0" cy="127.3" r="3.5"/>
<circle cx="79.9" cy="127.7" r="3.5"/>
<circle cx="82.5" cy="127.0" r="3.5"/>
<circle cx="85.9" cy="127.0" r="3.5"/>
<circle cx="88.9" cy="127.2" r="3.5"/>
<circle cx="92.0" cy="127.2" r="3.5"/>
<circle cx="95.0" cy="127.4" r="3.5"/>
<circle cx="98.0" cy="127.2" r="3.5"/>
<circle cx="102.0" cy="127.0" r="3.5"/>
<circle cx="105.3" cy="127.4" r="3.5"/>
<circle cx="107.8" cy="127.8" r="3.5"/>
<circle cx="111.2" cy="127.3" r="3.5"/>
<circle cx="113.9" cy="127.1" r="3.5"/>
<circle cx="118.2" cy="127.5" r="3.5"/>
<circle cx="120.8" cy="127.6" r="3.5"/>
<circle cx="123.6" cy="127.1" r="3.5"/>
<circle cx="127.7" cy="127.7" r="3.5"/>
<circle cx="130.3" cy="127.9" r="3.5"/>
<circle cx="133.4" cy="127.4" r="3.5"/>
<circle cx="137.2" cy="127.9" r="3.5"/>
<circle cx="139.8" cy="128.1" r="3.5"/>
<circle cx="143.0" cy="127.2" r="3.5"/>
<circle cx="146.5" cy="127.6" r="3.5"/>
<circle cx="149.7" cy="127.5" r="3.5"/>
<circle cx="153.2" cy="127.2" r="3.5"/>
<circle cx="156.0" cy="127.7" r="3.5"/>
<circle cx="159.8" cy="127.2" r="3.5"/>
<circle cx="162.3" cy="127.5" r="3.5"/>
<circle cx="165.4" cy="127.5" r="3.5"/>
<circle cx="169.4" cy="127.2" r="3.5"/>
<circle cx="172.5" cy="128.0" r="3.5"/>
<circle cx="175.3" cy="127.3" r="3.5"/>
<circle cx="178.0" cy="127.6" r="3.5"/>
<circle cx="182.1" cy="127.4" r="3.5"/>
<circle cx="184.6" cy="127.9" r="3.5"/>
<circle cx="71.6" cy="129.9" r="3.5"/>
<circle cx="74.2" cy="130.6" r="3.5"/>
<circle cx="77.9" cy="130.9" r="3.5"/>
<circle cx="80.8" cy="129.9" r="3.5"/>
<circle cx="83.6" cy="129.9" r="3.5"/>
<circle cx="87.3" cy="130.2" r="3.5"/>
<circle cx="89.9" cy="130.9" r="3.5"/>
<circle cx="93.2" cy="130.2" r="3.5"/>
<circle cx="97.2" cy="130.6" r="3.5"/>
<circle cx="99.8" cy="131.0" r="3.5"/>
<circle cx="103.2" cy="130.8" r="3.5"/>
<circle cx="106.4" cy="130.6" r="3.5"/>
<circle cx="110.2" cy="129.9" r="3.5"/>
<circle cx="113.0" cy="130.5" r="3.5"/>
<circle cx="116.7" cy="130.5" r="3.5"/>
<circle cx="119.0" cy="130.0" r="3.5"/>
<circle cx="122.6" cy="130.0" r="3.5"/>
<circle cx="125.5" cy="131.0" r="3.5"/>
<circle cx="128.5" cy="130.0" r="3.5"/>
<circle cx="132.3" cy="130.4" r="3.5"/>
<circle cx="135.8" cy="130.2" r="3.5"/>
<circle cx="138.8" cy="130.3" r="3.5"/>
<circle cx="142.3" cy="130.9" r="3.5"/>
<circle cx="144.5" cy="130.2" r="3.5"/>
<circle cx="148.1" cy="130.4" r="3.5"/>
<circle cx="151.4" cy="130.6" r="3.5"/>
<circle cx="154.1" cy="130.6" r="3.5"/>
<circle cx="158.1" cy="130.3" r="3.5"/>
<circle cx="160.6" cy="130.1" r="3.5"/>
<circle cx="164.2" cy="129.9" r="3.5"/>
<circle cx="167.0" cy="130.2" r="3.5"/>
<circle cx="170.7" cy="130.7" r="3.5"/>
<circle cx="173.8" cy="130.0" r="3.5"/>
<circle cx="176.7" cy="129.9" r="3.5"/>
<circle cx="180.7" cy="130.4" r="3.5"/>
<circle cx="183.7" cy="130.1" r="3.5"/>
<circle cx="186.2" cy="130.0" r="3.5"/>
<circle cx="189.6" cy="130.6" r="3.5"/>
<circle cx="70.0" cy="132.9" r="3.5"/>
<circle cx="73.5" cy="133.7" r="3.5"/>
<circle cx="75.7" cy="132.7" r="3.5"/>
<circle cx="79.7" cy="132.8" r="3.5"/>
<circle cx="82.7" cy="133.3" r="3.5"/>
<circle cx="85.6" cy="133.4" r="3.5"/>
<circle cx="88.3" cy="133.6" r="3.5"/>
<circle cx="92.5" cy="132.7" r="3.5"/>
<circle cx="95.0" cy="133.7" r="3.5"/>
<circle cx="98.1" cy="132.9" r="3.5"/>
<circle cx="102.1" cy="133.9" r="3.5"/>
<circle cx="105.5" cy="132.9" r="3.5"/>
<circle cx="107.7" cy="132.7" r="3.5"/>
<circle cx="110.8" cy="133.1" r="3.5"/>
<circle cx="115.1" cy="133.6" r="3.5"/>
<circle cx="117.3" cy="133.2" r="3.5"/>
<circle cx="121.0" cy="132.9" r="3.5"/>
<circle cx="123.6" cy="132.9" r="3.5"/>
<circle cx="127.1" cy="132.7" r="3.5"/>
<circle cx="131.1" cy="133.9" r="3.5"/>
<circle cx="133.7" cy="133.2" r="3.5"/>
<circle cx="137.0" cy="133.7" r="3.5"/>
<circle cx="140.0" cy="133.8" r="3.5"/>
<circle cx="143.8" cy="133.0" r="3.5"/>
<circle cx="146.6" cy="133.8" r="3.5"/>
<circle cx="149.5" cy="133.9" r="3.5"/>
<circle cx="152.9" cy="133.5" r="3.5"/>
<circle cx="155.6" cy="133.2" r="3.5"/>
<circle cx="159.5" cy="132.9" r="3.5"/>
<circle cx="163.1" cy="133.2" r="3.5"/>
<circle cx="165.8" cy="133.6" r="3.5"/>
<circle cx="168.7" cy="133.5" r="3.5"/>
<circle cx="172.4" cy="133.6" r="3.5"/>
<circle cx="175.1" cy="133.1" r="3.5"/>
<circle cx="178.6" cy="133.2" r="3.5"/>
<circle cx="181.7" cy="133.4" r="3.5"/>
<circle cx="185.2" cy="132.9" r="3.5"/>
<circle cx="187.8" cy="132.9" r="3.5"/>
<circle cx="71.0" cy="136.4" r="3.5"/>
<circle cx="74.3" cy="136.7" r="3.5"/>
<circle cx="77.3" cy="136.0" r="3.5"/>
<circle cx="80.9" cy="136.0" r="3.5"/>
<circle cx="83.9" cy="135.7" r="3.5"/>
<circle cx="87.3" cy="136.5" r="3.5"/>
<circle cx="90.3" cy="136.8" r="3.5"/>
<circle cx="93.8" cy="136.0" r="3.5"/>
<circle cx="96.7" cy="135.9" r="3.5"/>
<circle cx="99.6" cy="136.2" r="3.5"/>
<circle cx="103.3" cy="136.6" r="3.5"/>
<circle cx="106.0" cy="135.6" r="3.5"/>
<circle cx="110.2" cy="136.0" r="3.5"/>
<circle cx="113.2" cy="136.7" r="3.5"/>
<circle cx="115.8" cy="135.8" r="3.5"/>
<circle cx="119.6" cy="136.0" r="3.5"/>
<circle cx="122.5" cy="135.6" r="3.5"/>
<circle cx="125.8" cy="136.1" r="3.5"/>
<circle cx="128.6" cy="135.8" r="3.5"/>
<circle cx="132.6" cy="136.7" r="3.5"/>
<circle cx="135.1" cy="136.0" r="3.5"/>
<circle cx="138.3" cy="136.0" r="3.5"/>
<circle cx="141.6" cy="136.8" r="3.5"/>
<circle cx="144.3" cy="136.0" r="3.5"/>
<circle cx="148.2" cy="136.3" r="3.5"/>
<circle cx="151.1" cy="136.5" r="3.5"/>
<circle cx="154.4" cy="135.8" r="3.5"/>
<circle cx="158.2" cy="135.8" r="3.5"/>
<circle cx="161.1" cy="136.7" r="3.5"/>
<circle cx="163.7" cy="136.5" r="3.5"/>
<circle cx="167.6" cy="136.0" r="3.5"/>
<circle cx="171.0" cy="135.8" r="3.5"/>
<circle cx="173.7" cy="136.8" r="3.5"/>
<circle cx="176.9" cy="136.7" r="3.5"/>
<circle cx="180.0" cy="136.4" r="3.5"/>
<circle cx="183.3" cy="136.5" r="3.5"/>
<circle cx="186.8" cy="136.5" r="3.5"/>
<circle cx="69.8" cy="138.5" r="3.5"/>
<circle cx="73.5" cy="139.3" r="3.5"/>
<circle cx="75.8" cy="139.2" r="3.5"/>
<circle cx="79.1" cy="139.2" r="3.5"/>
<circle cx="82.8" cy="139.5" r="3.5"/>
<circle cx="86.3" cy="139.3" r="3.5"/>
<circle cx="88.9" cy="139.1" r="3.5"/>
<circle cx="91.7" cy="138.5" r="3.5"/>
<circle cx="95.8" cy="139.7" r="3.5"/>
<circle cx="98.9" cy="138.7" r="3.5"/>
<circle cx="101.9" cy="138.7" r="3.5"/>
<circle cx="104.7" cy="139.4" r="3.5"/>
<circle cx="108.6" cy="138.5" r="3.5"/>
<circle cx="111.6" cy="139.4" r="3.5"/>
<circle cx="114.7" cy="138.7" r="3.5"/>
<circle cx="117.5" cy="139.4" r="3.5"/>
<circle cx="120.5" cy="138.7" r="3.5"/>
<circle cx="124.1" cy="138.7" r="3.5"/>
<circle cx="127.0" cy="138.7" r="3.5"/>
<circle cx="130.2" cy="138.6" r="3.5"/>
<circle cx="133.6" cy="138.9" r="3.5"/>
<circle cx="136.5" cy="138.7" r="3.5"/>
<circle cx="140.0" cy="138.6" r="3.5"/>
<circle cx="143.1" cy="138.6" r="3.5"/>
<circle cx="146.8" cy="138.6" r="3.5"/>
<circle cx="149.7" cy="138.7" r="3.5"/>
<circle cx="153.1" cy="139.7" r="3.5"/>
<circle cx="156.3" cy="138.6" r="3.5"/>
<circle cx="158.9" cy="138.7" r="3.5"/>
<circle cx="163.0" cy="138.6" r="3.5"/>
<circle cx="166.0" cy="139.4" r="3.5"/>
<circle cx="169.3" cy="139.0" r="3.5"/>
<circle cx="172.0" cy="138.9" r="3.5"/>
<circle cx="175.5" cy="139.1" r="3.5"/>
<circle cx="184.6" cy="139.0" r="3.5"/>
<circle cx="187.8" cy="139.6" r="3.5"/>
<circle cx="71.1" cy="141.5" r="3.5"/>
<circle cx="75.1" cy="141.5" r="3.5"/>
<circle cx="78.2" cy="142.2" r="3.5"/>
<circle cx="81.4" cy="142.1" r="3.5"/>
<circle cx="84.2" cy="141.9" r="3.5"/>
<circle cx="87.4" cy="141.8" r="3.5"/>
<circle cx="90.1" cy="142.1" r="3.5"/>
<circle cx="94.1" cy="142.6" r="3.5"/>
<circle cx="97.4" cy="142.1" r="3.5"/>
<circle cx="99.7" cy="142.1" r="3.5"/>
<circle cx="102.9" cy="142.4" r="3.5"/>
<circle cx="106.8" cy="141.9" r="3.5"/>
<circle cx="109.5" cy="142.5" r="3.5"/>
<circle cx="112.8" cy="141.5" r="3.5"/>
<circle cx="116.3" cy="141.9" r="3.5"/>
<circle cx="118.8" cy="142.4" r="3.5"/>
<circle cx="122.2" cy="141.6" r="3.5"/>
<circle cx="125.7" cy="141.7" r="3.5"/>
<circle cx="128.7" cy="141.9" r="3.5"/>
<circle cx="132.6" cy="142.1" r="3.5"/>
<circle cx="135.2" cy="142.4" r="3.5"/>
<circle cx="139.0" cy="142.5" r="3.5"/>
<circle cx="141.1" cy="142.4" r="3.5"/>
<circle cx="145.2" cy="142.3" r="3.5"/>
<circle cx="148.4" cy="142.2" r="3.5"/>
<circle cx="150.9" cy="142.5" r="3.5"/>
<circle cx="154.9" cy="141.7" r="3.5"/>
<circle cx="157.7" cy="141.6" r="3.5"/>
<circle cx="160.6" cy="142.2" r="3.5"/>
<circle cx="163.7" cy="141.4" r="3.5"/>
<circle cx="167.4" cy="142.1" r="3.5"/>
<circle cx="171.0" cy="141.4" r="3.5"/>
<circle cx="186.5" cy="142.0" r="3.5"/>
<circle cx="189.4" cy="141.5" r="3.5"/>
<circle cx="69.5" cy="144.3" r="3.5"/>
<circle cx="73.1" cy="145.1" r="3.5"/>
<circle cx="76.4" cy="144.8" r="3.5"/>
<circle cx="79.8" cy="145.1" r="3.5"/>
<circle cx="83.0" cy="145.3" r="3.5"/>
<circle cx="85.4" cy="144.8" r="3.5"/>
<circle cx="88.5" cy="145.1" r="3.5"/>
<circle cx="92.0" cy="144.9" r="3.5"/>
<circle cx="95.1" cy="144.5" r="3.5"/>
<circle cx="98.6" cy="145.2" r="3.5"/>
<circle cx="101.5" cy="144.5" r="3.5"/>
<circle cx="105.0" cy="145.0" r="3.5"/>
<circle cx="108.2" cy="145.3" r="3.5"/>
<circle cx="111.8" cy="145.2" r="3.5"/>
<circle cx="114.6" cy="145.4" r="3.5"/>
<circle cx="117.8" cy="144.9" r="3.5"/>
<circle cx="120.5" cy="144.7" r="3.5"/>
<circle cx="123.9" cy="144.6" r="3.5"/>
<circle cx="127.0" cy="144.5" r="3.5"/>
<circle cx="130.0" cy="145.0" r="3.5"/>
<circle cx="133.6" cy="145.3" r="3.5"/>
<circle cx="137.2" cy="145.4" r="3.5"/>
<circle cx="140.6" cy="144.4" r="3.5"/>
<circle cx="143.5" cy="145.4" r="3.5"/>
<circle cx="146.0" cy="144.5" r="3.5"/>
<circle cx="149.1" cy="144.5" r="3.5"/>
<circle cx="153.4" cy="145.4" r="3.5"/>
<circle cx="155.7" cy="144.3" r="3.5"/>
<circle cx="158.8" cy="145.3" r="3.5"/>
<circle cx="162.3" cy="145.0" r="3.5"/>
<circle cx="165.5" cy="144.8" r="3.5"/>
<circle cx="185.0" cy="145.4" r="3.5"/>
<circle cx="188.2" cy="145.0" r="3.5"/>
<circle cx="67.8" cy="148.3" r="3.5"/>
<circle cx="70.8" cy="147.7" r="3.5"/>
<circle cx="75.0" cy="147.9" r="3.5"/>
<circle cx="77.6" cy="147.5" r="3.5"/>
<circle cx="80.7" cy="148.1" r="3.5"/>
<circle cx="84.3" cy="147.9" r="3.5"/>
<circle cx="87.8" cy="147.6" r="3.5"/>
<circle cx="90.2" cy="147.9" r="3.5"/>
<circle cx="94.2" cy="148.0" r="3.5"/>
<circle cx="97.3" cy="148.2" r="3.5"/>
<circle cx="99.5" cy="148.0" r="3.5"/>
<circle cx="103.0" cy="148.0" r="3.5"/>
<circle cx="106.8" cy="148.2" r="3.5"/>
<circle cx="109.3" cy="147.6" r="3.5"/>
<circle cx="112.5" cy="148.2" r="3.5"/>
<circle cx="116.3" cy="147.9" r="3.5"/>
<circle cx="119.4" cy="148.1" r="3.5"/>
<circle cx="122.4" cy="147.4" r="3.5"/>
<circle cx="126.2" cy="148.1" r="3.5"/>
<circle cx="128.9" cy="147.9" r="3.5"/>
<circle cx="131.7" cy="147.5" r="3.5"/>
<circle cx="134.8" cy="148.0" r="3.5"/>
<circle cx="138.9" cy="147.5" r="3.5"/>
<circle cx="141.3" cy="147.7" r="3.5"/>
<circle cx="144.6" cy="148.1" r="3.5"/>
<circle cx="147.8" cy="147.5" r="3.5"/>
<circle cx="151.2" cy="148.2" r="3.5"/>
<circle cx="154.8" cy="147.3" r="3.5"/>
<circle cx="157.3" cy="147.3" r="3.5"/>
<circle cx="161.1" cy="148.0" r="3.5"/>
<circle cx="163.7" cy="147.5" r="3.5"/>
<circle cx="177.2" cy="148.3" r="3.5"/>
<circle cx="180.2" cy="147.9" r="3.5"/>
<circle cx="183.4" cy="148.3" r="3.5"/>
<circle cx="187.1" cy="148.0" r="3.5"/>
<circle cx="189.7" cy="147.3" r="3.5"/>
<circle cx="66.7" cy="150.7" r="3.5"/>
<circle cx="69.4" cy="150.3" r="3.5"/>
<circle cx="73.2" cy="150.8" r="3.5"/>
<circle cx="76.4" cy="150.3" r="3.5"/>
<circle cx="79.2" cy="150.2" r="3.5"/>
<circle cx="82.1" cy="150.5" r="3.5"/>
<circle cx="85.4" cy="151.2" r="3.5"/>
<circle cx="88.4" cy="150.7" r="3.5"/>
<circle cx="91.6" cy="151.2" r="3.5"/>
<circle cx="94.8" cy="151.1" r="3.5"/>
<circle cx="98.3" cy="150.5" r="3.5"/>
<circle cx="101.2" cy="150.9" r="3.5"/>
<circle cx="104.4" cy="150.9" r="3.5"/>
<circle cx="108.1" cy="150.4" r="3.5"/>
<circle cx="111.5" cy="151.0" r="3.5"/>
<circle cx="114.0" cy="151.2" r="3.5"/>
<circle cx="118.2" cy="151.1" r="3.5"/>
<circle cx="121.4" cy="150.5" r="3.5"/>
<circle cx="123.7" cy="150.6" r="3.5"/>
<circle cx="127.8" cy="150.9" r="3.5"/>
<circle cx="130.0" cy="151.0" r="3.5"/>
<circle cx="134.1" cy="150.7" r="3.5"/>
<circle cx="137.1" cy="151.1" r="3.5"/>
<circle cx="140.0" cy="151.0" r="3.5"/>
<circle cx="143.4" cy="151.0" r="3.5"/>
<circle cx="146.9" cy="150.3" r="3.5"/>
<circle cx="149.3" cy="150.8" r="3.5"/>
<circle cx="152.7" cy="150.5" r="3.5"/>
<circle cx="155.5" cy="150.6" r="3.5"/>
<circle cx="159.9" cy="150.6" r="3.5"/>
<circle cx="162.2" cy="150.5" r="3.5"/>
<circle cx="165.8" cy="150.1" r="3.5"/>
<circle cx="168.5" cy="150.7" r="3.5"/>
<circle cx="171.9" cy="150.9" r="3.5"/>
<circle cx="174.9" cy="150.2" r="3.5"/>
<circle cx="179.0" cy="151.0" r="3.5"/>
<circle cx="181.9" cy="150.8" r="3.5"/>
<circle cx="184.5" cy="150.3" r="3.5"/>
<circle cx="188.0" cy="150.9" r="3.5"/>
<circle cx="64.6" cy="153.5" r="3.5"/>
<circle cx="68.5" cy="154.1" r="3.5"/>
<circle cx="71.1" cy="153.5" r="3.5"/>
<circle cx="74.9" cy="153.6" r="3.5"/>
<circle cx="77.2" cy="153.3" r="3.5"/>
<circle cx="80.7" cy="153.0" r="3.5"/>
<circle cx="83.6" cy="154.1" r="3.5"/>
<circle cx="87.7" cy="154.0" r="3.5"/>
<circle cx="90.3" cy="153.4" r="3.5"/>
<circle cx="94.2" cy="153.1" r="3.5"/>
<circle cx="96.8" cy="153.4" r="3.5"/>
<circle cx="100.4" cy="153.8" r="3.5"/>
<circle cx="103.9" cy="154.2" r="3.5"/>
<circle cx="106.6" cy="154.1" r="3.5"/>
<circle cx="109.8" cy="153.2" r="3.5"/>
<circle cx="112.9" cy="153.3" r="3.5"/>
<circle cx="116.6" cy="154.0" r="3.5"/>
<circle cx="118.8" cy="153.8" r="3.5"/>
<circle cx="122.7" cy="153.9" r="3.5"/>
<circle cx="125.3" cy="153.7" r="3.5"/>
<circle cx="128.4" cy="153.5" r="3.5"/>
<circle cx="131.9" cy="153.4" r="3.5"/>
<circle cx="135.2" cy="153.6" r="3.5"/>
<circle cx="138.0" cy="153.6" r="3.5"/>
<circle cx="141.2" cy="153.8" r="3.5"/>
<circle cx="144.3" cy="153.6" r="3.5"/>
<circle cx="147.5" cy="153.9" r="3.5"/>
<circle cx="151.8" cy="153.9" r="3.5"/>
<circle cx="154.4" cy="153.6" r="3.5"/>
<circle cx="158.0" cy="153.1" r="3.5"/>
<circle cx="160.7" cy="153.6" r="3.5"/>
<circle cx="179.9" cy="153.9" r="3.5"/>
<circle cx="183.4" cy="153.0" r="3.5"/>
<circle cx="186.3" cy="153.9" r="3.5"/>
<circle cx="63.7" cy="157.0" r="3.5"/>
<circle cx="66.8" cy="156.4" r="3.5"/>
<circle cx="69.7" cy="156.0" r="3.5"/>
<circle cx="72.7" cy="156.2" r="3.5"/>
<circle cx="76.5" cy="156.8" r="3.5"/>
<circle cx="79.5" cy="156.8" r="3.5"/>
<circle cx="82.4" cy="156.7" r="3.5"/>
<circle cx="85.5" cy="155.9" r="3.5"/>
<circle cx="88.9" cy="157.0" r="3.5"/>
<circle cx="92.1" cy="157.0" r="3.5"/>
<circle cx="95.2" cy="156.2" r="3.5"/>
<circle cx="98.1" cy="156.4" r="3.5"/>
<circle cx="101.5" cy="156.0" r="3.5"/>
<circle cx="104.7" cy="157.0" r="3.5"/>
<circle cx="108.4" cy="156.4" r="3.5"/>
<circle cx="111.0" cy="156.5" r="3.5"/>
<circle cx="114.3" cy="156.6" r="3.5"/>
<circle cx="117.4" cy="156.6" r="3.5"/>
<circle cx="121.2" cy="156.2" r="3.5"/>
<circle cx="123.8" cy="156.6" r="3.5"/>
<circle cx="127.4" cy="157.0" r="3.5"/>
<circle cx="130.9" cy="156.5" r="3.5"/>
<circle cx="133.7" cy="156.8" r="3.5"/>
<circle cx="137.0" cy="156.0" r="3.5"/>
<circle cx="140.0" cy="156.0" r="3.5"/>
<circle cx="143.5" cy="156.8" r="3.5"/>
<circle cx="146.7" cy="156.0" r="3.5"/>
<circle cx="149.6" cy="155.9" r="3.5"/>
<circle cx="153.1" cy="156.8" r="3.5"/>
<circle cx="64.6" cy="159.1" r="3.5"/>
<circle cx="67.8" cy="159.4" r="3.5"/>
<circle cx="71.2" cy="159.4" r="3.5"/>
<circle cx="74.9" cy="159.2" r="3.5"/>
<circle cx="77.8" cy="159.4" r="3.5"/>
<circle cx="81.4" cy="159.5" r="3.5"/>
<circle cx="84.6" cy="159.2" r="3.5"/>
<circle cx="86.9" cy="159.0" r="3.5"/>
<circle cx="90.9" cy="158.9" r="3.5"/>
<circle cx="93.4" cy="159.8" r="3.5"/>
<circle cx="96.4" cy="159.6" r="3.5"/>
<circle cx="100.0" cy="159.1" r="3.5"/>
<circle cx="103.8" cy="159.8" r="3.5"/>
<circle cx="106.2" cy="159.0" r="3.5"/>
<circle cx="109.8" cy="158.9" r="3.5"/>
<circle cx="113.4" cy="159.2" r="3.5"/>
<circle cx="115.9" cy="158.9" r="3.5"/>
<circle cx="125.7" cy="159.8" r="3.5"/>
<circle cx="129.4" cy="159.8" r="3.5"/>
<circle cx="132.0" cy="159.2" r="3.5"/>
<circle cx="135.5" cy="159.3" r="3.5"/>
<circle cx="138.4" cy="159.1" r="3.5"/>
<circle cx="141.3" cy="158.9" r="3.5"/>
<circle cx="145.1" cy="159.9" r="3.5"/>
<circle cx="148.7" cy="159.1" r="3.5"/>
<circle cx="150.9" cy="158.9" r="3.5"/>
<circle cx="66.2" cy="162.2" r="3.5"/>
<circle cx="69.6" cy="162.1" r="3.5"/>
<circle cx="73.2" cy="162.3" r="3.5"/>
<circle cx="76.5" cy="162.1" r="3.5"/>
<circle cx="79.7" cy="162.7" r="3.5"/>
<circle cx="82.4" cy="162.8" r="3.5"/>
<circle cx="86.2" cy="162.0" r="3.5"/>
<circle cx="89.0" cy="162.7" r="3.5"/>
<circle cx="91.8" cy="162.7" r="3.5"/>
<circle cx="95.1" cy="162.7" r="3.5"/>
<circle cx="98.4" cy="162.8" r="3.5"/>
<circle cx="102.2" cy="162.2" r="3.5"/>
<circle cx="104.3" cy="162.4" r="3.5"/>
<circle cx="108.2" cy="162.1" r="3.5"/>
<circle cx="111.8" cy="162.2" r="3.5"/>
<circle cx="130.9" cy="162.2" r="3.5"/>
<circle cx="133.8" cy="162.6" r="3.5"/>
<circle cx="137.3" cy="161.9" r="3.5"/>
<circle cx="142.9" cy="162.7" r="3.5"/>
<circle cx="146.3" cy="162.1" r="3.5"/>
<circle cx="149.2" cy="162.0" r="3.5"/>
<circle cx="84.4" cy="165.2" r="3.5"/>
<circle cx="145.3" cy="165.1" r="3.5"/>
<circle cx="62.0" cy="158.5" r="3.5"/>
<circle cx="64.5" cy="162.1" r="3.5"/>
<circle cx="67.0" cy="162.8" r="3.5"/>
<circle cx="69.5" cy="163.4" r="3.5"/>
<circle cx="72.0" cy="163.3" r="3.5"/>
<circle cx="74.5" cy="163.1" r="3.5"/>
<circle cx="77.0" cy="163.7" r="3.5"/>
<circle cx="79.5" cy="108.8" r="3.5"/>
<circle cx="79.5" cy="164.5" r="3.5"/>
<circle cx="82.0" cy="106.2" r="3.5"/>
<circle cx="82.0" cy="165.3" r="3.5"/>
<circle cx="84.5" cy="104.0" r="3.5"/>
<circle cx="84.5" cy="165.9" r="3.5"/>
<circle cx="87.0" cy="104.0" r="3.5"/>
<circle cx="87.0" cy="165.3" r="3.5"/>
<circle cx="89.5" cy="104.0" r="3.5"/>
<circle cx="89.5" cy="164.8" r="3.5"/>
<circle cx="92.0" cy="104.0" r="3.5"/>
<circle cx="92.0" cy="164.2" r="3.5"/>
<circle cx="94.5" cy="103.7" r="3.5"/>
<circle cx="94.5" cy="164.2" r="3.5"/>
<circle cx="97.0" cy="102.9" r="3.5"/>
<circle cx="97.0" cy="164.6" r="3.5"/>
<circle cx="99.5" cy="102.0" r="3.5"/>
<circle cx="99.5" cy="164.9" r="3.5"/>
<circle cx="102.0" cy="97.6" r="3.5"/>
<circle cx="102.0" cy="164.8" r="3.5"/>
<circle cx="104.5" cy="93.7" r="3.5"/>
<circle cx="104.5" cy="164.5" r="3.5"/>
<circle cx="107.0" cy="92.0" r="3.5"/>
<circle cx="107.0" cy="164.1" r="3.5"/>
<circle cx="109.5" cy="90.3" r="3.5"/>
<circle cx="109.5" cy="163.8" r="3.5"/>
<circle cx="112.0" cy="97.0" r="3.5"/>
<circle cx="112.0" cy="163.4" r="3.5"/>
<circle cx="114.5" cy="99.8" r="3.5"/>
<circle cx="114.5" cy="161.7" r="3.5"/>
<circle cx="117.0" cy="101.6" r="3.5"/>
<circle cx="117.0" cy="159.5" r="3.5"/>
<circle cx="119.5" cy="101.8" r="3.5"/>
<circle cx="119.5" cy="157.6" r="3.5"/>
<circle cx="122.0" cy="102.0" r="3.5"/>
<circle cx="122.0" cy="158.9" r="3.5"/>
<circle cx="124.5" cy="102.0" r="3.5"/>
<circle cx="124.5" cy="160.3" r="3.5"/>
<circle cx="127.0" cy="93.5" r="3.5"/>
<circle cx="127.0" cy="161.6" r="3.5"/>
<circle cx="129.5" cy="94.8" r="3.5"/>
<circle cx="129.5" cy="162.2" r="3.5"/>
<circle cx="132.0" cy="94.0" r="3.5"/>
<circle cx="132.0" cy="162.9" r="3.5"/>
<circle cx="134.5" cy="92.8" r="3.5"/>
<circle cx="134.5" cy="163.0" r="3.5"/>
<circle cx="137.0" cy="91.9" r="3.5"/>
<circle cx="137.0" cy="162.3" r="3.5"/>
<circle cx="139.5" cy="91.6" r="3.5"/>
<circle cx="139.5" cy="161.6" r="3.5"/>
<circle cx="142.0" cy="91.3" r="3.5"/>
<circle cx="142.0" cy="163.2" r="3.5"/>
<circle cx="144.5" cy="91.1" r="3.5"/>
<circle cx="144.5" cy="165.4" r="3.5"/>
<circle cx="147.0" cy="94.2" r="3.5"/>
<circle cx="147.0" cy="164.1" r="3.5"/>
<circle cx="149.5" cy="98.2" r="3.5"/>
<circle cx="149.5" cy="161.9" r="3.5"/>
<circle cx="152.0" cy="101.0" r="3.5"/>
<circle cx="152.0" cy="159.2" r="3.5"/>
<circle cx="154.5" cy="103.9" r="3.5"/>
<circle cx="154.5" cy="156.4" r="3.5"/>
<circle cx="157.0" cy="108.2" r="3.5"/>
<circle cx="157.0" cy="155.1" r="3.5"/>
<circle cx="159.5" cy="110.8" r="3.5"/>
<circle cx="159.5" cy="154.2" r="3.5"/>
<circle cx="162.0" cy="112.0" r="3.5"/>
<circle cx="162.0" cy="153.3" r="3.5"/>
<circle cx="164.5" cy="103.9" r="3.5"/>
<circle cx="164.5" cy="152.4" r="3.5"/>
<circle cx="167.0" cy="103.2" r="3.5"/>
<circle cx="167.0" cy="151.6" r="3.5"/>
<circle cx="169.5" cy="103.2" r="3.5"/>
<circle cx="169.5" cy="151.2" r="3.5"/>
<circle cx="172.0" cy="103.7" r="3.5"/>
<circle cx="172.0" cy="151.9" r="3.5"/>
<circle cx="174.5" cy="104.4" r="3.5"/>
<circle cx="174.5" cy="152.6" r="3.5"/>
<circle cx="177.0" cy="106.1" r="3.5"/>
<circle cx="177.0" cy="153.8" r="3.5"/>
<circle cx="179.5" cy="107.9" r="3.5"/>
<circle cx="179.5" cy="155.6" r="3.5"/>
<circle cx="182.0" cy="110.7" r="3.5"/>
<circle cx="182.0" cy="155.7" r="3.5"/>
<circle cx="184.5" cy="117.0" r="3.5"/>
<circle cx="184.5" cy="155.2" r="3.5"/>
<circle cx="187.0" cy="127.0" r="3.5"/>
<circle cx="187.0" cy="154.2" r="3.5"/>
<circle cx="189.5" cy="129.5" r="3.5"/>
<circle cx="189.5" cy="152.4" r="3.5"/>
<circle cx="129.2" cy="77.9" r="3.5"/>
<circle cx="109.9" cy="78.8" r="3.5"/>
<circle cx="107.1" cy="80.4" r="3.5"/>
<circle cx="109.6" cy="83.8" r="3.5"/>
<circle cx="77.8" cy="91.3" r="3.5"/>
<circle cx="84.5" cy="99.7" r="3.5"/>
<circle cx="103.7" cy="88.8" r="3.5"/>
<circle cx="104.5" cy="93.0" r="3.5"/>
<circle cx="113.0" cy="91.3" r="3.5"/>
<circle cx="109.6" cy="92.0" r="3.5"/>
<circle cx="126.4" cy="88.0" r="3.5"/>
<circle cx="129.7" cy="91.3" r="3.5"/>
<circle cx="93.7" cy="101.4" r="3.5"/>
<circle cx="99.5" cy="99.7" r="3.5"/>
<circle cx="119.6" cy="98.0" r="3.5"/>
<circle cx="68.2" cy="107.7" r="3.5"/>
<circle cx="77.5" cy="108.0" r="3.5"/>
<circle cx="84.2" cy="100.5" r="3.5"/>
<circle cx="68.2" cy="122.3" r="3.5"/>
<circle cx="68.2" cy="128.0" r="3.5"/>
<circle cx="68.2" cy="134.0" r="3.5"/>
<circle cx="62.4" cy="157.0" r="3.5"/>
<circle cx="64.0" cy="152.0" r="3.5"/>
<circle cx="66.6" cy="147.7" r="3.5"/>
<circle cx="61.8" cy="154.0" r="3.5"/>
<circle cx="193.8" cy="67.4" r="3.5"/>
<circle cx="145.3" cy="83.8" r="3.5"/>
<circle cx="136.0" cy="86.3" r="3.5"/>
<circle cx="129.4" cy="87.0" r="3.5"/>
<circle cx="167.9" cy="88.0" r="3.5"/>
<circle cx="177.1" cy="88.8" r="3.5"/>
<circle cx="187.1" cy="93.0" r="3.5"/>
<circle cx="159.5" cy="93.8" r="3.5"/>
<circle cx="172.9" cy="93.8" r="3.5"/>
<circle cx="179.6" cy="95.5" r="3.5"/>
<circle cx="164.5" cy="99.7" r="3.5"/>
<circle cx="145.3" cy="92.2" r="3.5"/>
<circle cx="136.0" cy="93.5" r="3.5"/>
<circle cx="131.0" cy="92.0" r="3.5"/>
<circle cx="174.5" cy="99.0" r="3.5"/>
<circle cx="154.5" cy="101.4" r="3.5"/>
<circle cx="147.7" cy="98.0" r="3.5"/>
<circle cx="238.4" cy="75.1" r="3.5"/>
<circle cx="338.4" cy="72.7" r="3.5"/>
<circle cx="84.2" cy="168.7" r="3.5"/>
<circle cx="79.1" cy="167.0" r="3.5"/>
<circle cx="107.6" cy="175.4" r="3.5"/>
<circle cx="65.0" cy="185.2" r="3.5"/>
<circle cx="71.4" cy="194.0" r="3.5"/>
<circle cx="106.5" cy="175.0" r="3.5"/>
<circle cx="123.0" cy="171.6" r="3.5"/>
<circle cx="177.6" cy="162.0" r="3.5"/>
<circle cx="197.7" cy="163.2" r="3.5"/>
<circle cx="193.5" cy="158.4" r="3.5"/>
<circle cx="196.0" cy="160.0" r="3.5"/>
<circle cx="201.9" cy="156.7" r="3.5"/>
<circle cx="206.9" cy="155.9" r="3.5"/>
<circle cx="217.0" cy="153.4" r="3.5"/>
<circle cx="220.3" cy="156.7" r="3.5"/>
<circle cx="227.0" cy="152.5" r="3.5"/>
<circle cx="253.0" cy="156.3" r="3.5"/>
<circle cx="169.0" cy="89.0" r="3.5"/>
<circle cx="176.6" cy="89.9" r="3.5"/>
<circle cx="187.4" cy="92.4" r="3.5"/>
<circle cx="172.4" cy="95.7" r="3.5"/>
<circle cx="179.0" cy="98.2" r="3.5"/>
<circle cx="169.0" cy="100.7" r="3.5"/>
<circle cx="175.7" cy="104.0" r="3.5"/>
<circle cx="167.4" cy="107.4" r="3.5"/>
<circle cx="180.7" cy="109.0" r="3.5"/>
<circle cx="183.3" cy="113.3" r="3.5"/>
<circle cx="174.0" cy="115.8" r="3.5"/>
<circle cx="167.4" cy="114.0" r="3.5"/>
<circle cx="169.0" cy="121.0" r="3.5"/>
<circle cx="177.4" cy="121.0" r="3.5"/>
<circle cx="185.8" cy="120.0" r="3.5"/>
<circle cx="190.8" cy="109.0" r="3.5"/>
<circle cx="196.7" cy="105.0" r="3.5"/>
<circle cx="199.2" cy="109.0" r="3.5"/>
<circle cx="195.0" cy="112.5" r="3.5"/>
<circle cx="203.4" cy="112.5" r="3.5"/>
<circle cx="208.4" cy="104.0" r="3.5"/>
<circle cx="209.2" cy="100.0" r="3.5"/>
<circle cx="213.4" cy="100.7" r="3.5"/>
<circle cx="203.4" cy="119.0" r="3.5"/>
<circle cx="216.0" cy="113.3" r="3.5"/>
<circle cx="219.3" cy="117.5" r="3.5"/>
<circle cx="216.8" cy="120.0" r="3.5"/>
<circle cx="228.5" cy="90.7" r="3.5"/>
<circle cx="235.2" cy="93.2" r="3.5"/>
<circle cx="228.5" cy="100.0" r="3.5"/>
<circle cx="222.6" cy="105.0" r="3.5"/>
<circle cx="228.5" cy="105.8" r="3.5"/>
<circle cx="234.4" cy="100.7" r="3.5"/>
<circle cx="236.0" cy="110.8" r="3.5"/>
<circle cx="231.0" cy="109.0" r="3.5"/>
<circle cx="226.8" cy="120.0" r="3.5"/>
<circle cx="230.2" cy="124.2" r="3.5"/>
<circle cx="239.4" cy="117.5" r="3.5"/>
<circle cx="229.1" cy="90.2" r="3.5"/>
<circle cx="235.4" cy="94.0" r="3.5"/>
<circle cx="249.2" cy="96.5" r="3.5"/>
<circle cx="251.7" cy="98.2" r="3.5"/>
<circle cx="209.0" cy="100.3" r="3.5"/>
<circle cx="197.7" cy="104.0" r="3.5"/>
<circle cx="225.4" cy="104.0" r="3.5"/>
<circle cx="230.4" cy="101.5" r="3.5"/>
<circle cx="241.7" cy="102.8" r="3.5"/>
<circle cx="260.5" cy="109.0" r="3.5"/>
<circle cx="221.0" cy="138.7" r="3.5"/>
<circle cx="229.3" cy="133.7" r="3.5"/>
<circle cx="238.5" cy="138.7" r="3.5"/>
<circle cx="200.8" cy="147.0" r="3.5"/>
<circle cx="205.9" cy="148.0" r="3.5"/>
<circle cx="194.0" cy="150.5" r="3.5"/>
<circle cx="189.1" cy="151.3" r="3.5"/>
<circle cx="199.0" cy="153.8" r="3.5"/>
<circle cx="205.0" cy="156.3" r="3.5"/>
<circle cx="214.2" cy="152.0" r="3.5"/>
<circle cx="220.0" cy="150.5" r="3.5"/>
<circle cx="223.5" cy="153.0" r="3.5"/>
<circle cx="229.3" cy="150.5" r="3.5"/>
<circle cx="219.3" cy="156.3" r="3.5"/>
<circle cx="184.0" cy="155.5" r="3.5"/>
<circle cx="178.2" cy="158.0" r="3.5"/>
<circle cx="171.5" cy="153.8" r="3.5"/>
<circle cx="227.6" cy="125.0" r="3.5"/>
<circle cx="233.0" cy="127.0" r="3.5"/>
<circle cx="220.0" cy="128.0" r="3.5"/>
<circle cx="212.0" cy="131.0" r="3.5"/>
<circle cx="205.0" cy="133.0" r="3.5"/>
<circle cx="198.0" cy="128.0" r="3.5"/>
<circle cx="195.0" cy="136.0" r="3.5"/>
<circle cx="190.0" cy="142.0" r="3.5"/>
<circle cx="200.0" cy="140.0" r="3.5"/>
<circle cx="207.0" cy="139.0" r="3.5"/>
<circle cx="192.0" cy="147.0" r="3.5"/>
<circle cx="186.0" cy="149.0" r="3.5"/>
<circle cx="213.0" cy="126.0" r="3.5"/>
<circle cx="248.9" cy="96.6" r="3.5"/>
<circle cx="251.4" cy="100.0" r="3.5"/>
<circle cx="241.4" cy="101.6" r="3.5"/>
<circle cx="244.7" cy="106.6" r="3.5"/>
<circle cx="254.8" cy="107.5" r="3.5"/>
<circle cx="260.6" cy="109.0" r="3.5"/>
<circle cx="267.3" cy="109.0" r="3.5"/>
<circle cx="267.3" cy="112.5" r="3.5"/>
<circle cx="279.9" cy="111.6" r="3.5"/>
<circle cx="258.0" cy="116.7" r="3.5"/>
<circle cx="243.0" cy="116.7" r="3.5"/>
<circle cx="239.7" cy="118.3" r="3.5"/>
<circle cx="310.0" cy="107.5" r="3.5"/>
<circle cx="311.5" cy="110.0" r="3.5"/>
<circle cx="305.8" cy="115.8" r="3.5"/>
<circle cx="290.8" cy="122.5" r="3.5"/>
<circle cx="258.1" cy="129.5" r="3.5"/>
<circle cx="254.8" cy="134.6" r="3.5"/>
<circle cx="267.3" cy="133.7" r="3.5"/>
<circle cx="270.7" cy="137.9" r="3.5"/>
<circle cx="239.7" cy="126.2" r="3.5"/>
<circle cx="238.8" cy="138.8" r="3.5"/>
<circle cx="251.4" cy="143.0" r="3.5"/>
<circle cx="244.7" cy="148.0" r="3.5"/>
<circle cx="251.4" cy="156.3" r="3.5"/>
<circle cx="258.1" cy="150.5" r="3.5"/>
<circle cx="261.5" cy="152.2" r="3.5"/>
<circle cx="274.0" cy="149.6" r="3.5"/>
<circle cx="269.8" cy="155.5" r="3.5"/>
<circle cx="283.2" cy="153.0" r="3.5"/>
<circle cx="283.2" cy="157.2" r="3.5"/>
<circle cx="293.3" cy="154.7" r="3.5"/>
<circle cx="302.5" cy="145.5" r="3.5"/>
<circle cx="305.8" cy="153.0" r="3.5"/>
<circle cx="311.7" cy="139.6" r="3.5"/>
<circle cx="290.0" cy="122.8" r="3.5"/>
<circle cx="379.8" cy="96.6" r="3.5"/>
<circle cx="373.6" cy="104.4" r="3.5"/>
<circle cx="351.4" cy="112.5" r="3.5"/>
<circle cx="363.9" cy="118.3" r="3.5"/>
<circle cx="312.8" cy="108.3" r="3.5"/>
<circle cx="357.2" cy="129.5" r="3.5"/>
<circle cx="377.0" cy="133.7" r="3.5"/>
<circle cx="370.6" cy="138.8" r="3.5"/>
<circle cx="312.8" cy="139.6" r="3.5"/>
<circle cx="341.8" cy="149.6" r="3.5"/>
<circle cx="350.9" cy="149.6" r="3.5"/>
<circle cx="370.6" cy="153.0" r="3.5"/>
<circle cx="379.8" cy="156.3" r="3.5"/>
<circle cx="272.6" cy="152.5" r="3.5"/>
<circle cx="284.0" cy="157.0" r="3.5"/>
<circle cx="293.2" cy="155.0" r="3.5"/>
<circle cx="305.8" cy="153.0" r="3.5"/>
<circle cx="197.1" cy="102.6" r="3.5"/>
<circle cx="195.8" cy="105.9" r="3.5"/>
<circle cx="191.2" cy="109.2" r="3.5"/>
<circle cx="199.7" cy="109.2" r="3.5"/>
<circle cx="208.3" cy="104.6" r="3.5"/>
<circle cx="212.9" cy="102.0" r="3.5"/>
<circle cx="203.7" cy="113.2" r="3.5"/>
<circle cx="198.4" cy="113.2" r="3.5"/>
<circle cx="203.0" cy="119.7" r="3.5"/>
<circle cx="181.3" cy="109.9" r="3.5"/>
<circle cx="181.3" cy="114.5" r="3.5"/>
<circle cx="184.0" cy="117.8" r="3.5"/>
<circle cx="193.2" cy="121.7" r="3.5"/>
<circle cx="187.9" cy="125.0" r="3.5"/>
<circle cx="182.6" cy="124.3" r="3.5"/>
<circle cx="195.8" cy="126.3" r="3.5"/>
<circle cx="215.5" cy="112.5" r="3.5"/>
<circle cx="216.2" cy="116.4" r="3.5"/>
<circle cx="219.5" cy="119.7" r="3.5"/>
<circle cx="223.4" cy="104.0" r="3.5"/>
<circle cx="228.0" cy="105.3" r="3.5"/>
<circle cx="230.0" cy="102.0" r="3.5"/>
<circle cx="225.4" cy="109.9" r="3.5"/>
<circle cx="230.0" cy="111.2" r="3.5"/>
<circle cx="235.3" cy="111.8" r="3.5"/>
<circle cx="237.9" cy="107.9" r="3.5"/>
<circle cx="231.3" cy="117.1" r="3.5"/>
<circle cx="226.0" cy="121.7" r="3.5"/>
<circle cx="219.5" cy="126.3" r="3.5"/>
<circle cx="214.2" cy="127.6" r="3.5"/>
<circle cx="232.6" cy="126.3" r="3.5"/>
<circle cx="237.9" cy="126.3" r="3.5"/>
<circle cx="237.9" cy="121.7" r="3.5"/>
<circle cx="230.7" cy="129.6" r="3.5"/>
<circle cx="184.0" cy="134.0" r="3.5"/>
<circle cx="193.2" cy="137.9" r="3.5"/>
<circle cx="201.0" cy="136.6" r="3.5"/>
<circle cx="207.6" cy="138.6" r="3.5"/>
<circle cx="215.5" cy="131.3" r="3.5"/>
<circle cx="222.1" cy="138.6" r="3.5"/>
<circle cx="229.3" cy="133.9" r="3.5"/>
<circle cx="238.6" cy="139.2" r="3.5"/>
<circle cx="187.0" cy="131.0" r="3.5"/>
<circle cx="197.0" cy="132.0" r="3.5"/>
<circle cx="190.0" cy="135.0" r="3.5"/>
<circle cx="205.0" cy="131.5" r="3.5"/>
<circle cx="183.0" cy="139.0" r="3.5"/>
<circle cx="189.0" cy="141.0" r="3.5"/>
<circle cx="184.0" cy="146.0" r="3.5"/>
<circle cx="183.0" cy="152.0" r="3.5"/>
<circle cx="199.7" cy="146.4" r="3.5"/>
<circle cx="206.3" cy="146.4" r="3.5"/>
<circle cx="193.2" cy="150.4" r="3.5"/>
<circle cx="203.7" cy="151.0" r="3.5"/>
<circle cx="197.1" cy="155.7" r="3.5"/>
<circle cx="206.3" cy="157.0" r="3.5"/>
<circle cx="187.9" cy="156.3" r="3.5"/>
<circle cx="212.9" cy="152.4" r="3.5"/>
<circle cx="217.5" cy="151.0" r="3.5"/>
<circle cx="222.8" cy="151.7" r="3.5"/>
<circle cx="229.3" cy="151.0" r="3.5"/>
<circle cx="219.5" cy="157.0" r="3.5"/>
<circle cx="189.2" cy="151.7" r="3.5"/>
</g>
<g fill="#00b0f0">
<circle cx="61.5" cy="142.6" r="2.1"/>
<circle cx="69.7" cy="142.2" r="2.1"/>
<circle cx="78.0" cy="141.8" r="2.1"/>
<circle cx="86.2" cy="141.4" r="2.1"/>
<circle cx="94.4" cy="141.0" r="2.1"/>
<circle cx="102.7" cy="140.6" r="2.1"/>
<circle cx="110.9" cy="140.2" r="2.1"/>
<circle cx="119.1" cy="139.8" r="2.1"/>
<circle cx="127.4" cy="139.4" r="2.1"/>
<circle cx="135.6" cy="139.0" r="2.1"/>
<circle cx="143.9" cy="138.6" r="2.1"/>
<circle cx="152.1" cy="138.2" r="2.1"/>
<circle cx="160.3" cy="137.8" r="2.1"/>
<circle cx="168.6" cy="137.4" r="2.1"/>
<circle cx="176.8" cy="137.0" r="2.1"/>
<circle cx="185.0" cy="136.6" r="2.1"/>
<circle cx="193.3" cy="136.2" r="2.1"/>
<circle cx="201.5" cy="135.8" r="2.1"/>
<circle cx="209.7" cy="135.4" r="2.1"/>
<circle cx="218.0" cy="135.0" r="2.1"/>
<circle cx="226.2" cy="134.6" r="2.1"/>
<circle cx="234.4" cy="134.2" r="2.1"/>
<circle cx="242.7" cy="133.8" r="2.1"/>
<circle cx="250.9" cy="133.4" r="2.1"/>
<circle cx="259.1" cy="133.0" r="2.1"/>
<circle cx="267.4" cy="132.6" r="2.1"/>
<circle cx="275.6" cy="132.2" r="2.1"/>
<circle cx="283.8" cy="131.7" r="2.1"/>
<circle cx="292.1" cy="131.3" r="2.1"/>
<circle cx="300.3" cy="130.9" r="2.1"/>
<circle cx="308.6" cy="130.5" r="2.1"/>
<circle cx="316.8" cy="130.1" r="2.1"/>
<circle cx="325.0" cy="129.7" r="2.1"/>
<circle cx="333.3" cy="129.3" r="2.1"/>
<circle cx="341.5" cy="128.9" r="2.1"/>
<circle cx="349.7" cy="128.5" r="2.1"/>
<circle cx="358.0" cy="128.1" r="2.1"/>
<circle cx="366.2" cy="127.7" r="2.1"/>
<circle cx="374.4" cy="127.3" r="2.1"/>
<circle cx="382.7" cy="126.9" r="2.1"/>
</g><g fill="#c00000">
<circle cx="61.5" cy="141.0" r="2.1"/>
<circle cx="69.7" cy="140.2" r="2.1"/>
<circle cx="78.0" cy="139.4" r="2.1"/>
<circle cx="86.2" cy="138.6" r="2.1"/>
<circle cx="94.4" cy="137.9" r="2.1"/>
<circle cx="102.7" cy="137.1" r="2.1"/>
<circle cx="110.9" cy="136.3" r="2.1"/>
<circle cx="119.1" cy="135.5" r="2.1"/>
<circle cx="127.4" cy="134.7" r="2.1"/>
<circle cx="135.6" cy="133.9" r="2.1"/>
<circle cx="143.9" cy="133.2" r="2.1"/>
<circle cx="152.1" cy="132.4" r="2.1"/>
<circle cx="160.3" cy="131.6" r="2.1"/>
<circle cx="168.6" cy="130.8" r="2.1"/>
<circle cx="176.8" cy="130.0" r="2.1"/>
<circle cx="185.0" cy="129.2" r="2.1"/>
<circle cx="193.3" cy="128.4" r="2.1"/>
<circle cx="201.5" cy="127.7" r="2.1"/>
<circle cx="209.7" cy="126.9" r="2.1"/>
<circle cx="218.0" cy="126.1" r="2.1"/>
<circle cx="226.2" cy="125.3" r="2.1"/>
<circle cx="234.4" cy="124.5" r="2.1"/>
<circle cx="242.7" cy="123.7" r="2.1"/>
<circle cx="250.9" cy="122.9" r="2.1"/>
<circle cx="259.1" cy="122.2" r="2.1"/>
<circle cx="267.4" cy="121.4" r="2.1"/>
<circle cx="275.6" cy="120.6" r="2.1"/>
<circle cx="283.8" cy="119.8" r="2.1"/>
<circle cx="292.1" cy="119.0" r="2.1"/>
<circle cx="300.3" cy="118.2" r="2.1"/>
<circle cx="308.6" cy="117.5" r="2.1"/>
<circle cx="316.8" cy="116.7" r="2.1"/>
<circle cx="325.0" cy="115.9" r="2.1"/>
<circle cx="333.3" cy="115.1" r="2.1"/>
<circle cx="341.5" cy="114.3" r="2.1"/>
<circle cx="349.7" cy="113.5" r="2.1"/>
<circle cx="358.0" cy="112.7" r="2.1"/>
<circle cx="366.2" cy="112.0" r="2.1"/>
<circle cx="374.4" cy="111.2" r="2.1"/>
</g>
<g font-size="11">
<text x="47.3" y="227.7" text-anchor="end" textLength="25.3" lengthAdjust="spacingAndGlyphs">-60.0</text>
<text x="47.3" y="205.2" text-anchor="end" textLength="25.3" lengthAdjust="spacingAndGlyphs">-40.0</text>
<text x="47.3" y="182.7" text-anchor="end" textLength="25.3" lengthAdjust="spacingAndGlyphs">-20.0</text>
<text x="47.3" y="160.2" text-anchor="end" textLength="15.6" lengthAdjust="spacingAndGlyphs">0.0</text>
<text x="47.3" y="137.7" text-anchor="end" textLength="21.9" lengthAdjust="spacingAndGlyphs">20.0</text>
<text x="47.3" y="115.2" text-anchor="end" textLength="21.9" lengthAdjust="spacingAndGlyphs">40.0</text>
<text x="47.3" y="92.7" text-anchor="end" textLength="21.9" lengthAdjust="spacingAndGlyphs">60.0</text>
<text x="47.3" y="70.2" text-anchor="end" textLength="21.9" lengthAdjust="spacingAndGlyphs">80.0</text>
<text x="47.3" y="47.7" text-anchor="end" textLength="27.6" lengthAdjust="spacingAndGlyphs">100.0</text>
<text x="58.6" y="175.8" text-anchor="middle" textLength="6.0" lengthAdjust="spacingAndGlyphs">0</text>
<text x="122.8" y="175.8" text-anchor="middle" textLength="12.0" lengthAdjust="spacingAndGlyphs">20</text>
<text x="187.1" y="175.8" text-anchor="middle" textLength="12.0" lengthAdjust="spacingAndGlyphs">40</text>
<text x="251.3" y="175.8" text-anchor="middle" textLength="12.0" lengthAdjust="spacingAndGlyphs">60</text>
<text x="315.6" y="175.8" text-anchor="middle" textLength="12.0" lengthAdjust="spacingAndGlyphs">80</text>
<text x="379.9" y="175.8" text-anchor="middle" textLength="18.0" lengthAdjust="spacingAndGlyphs">100</text>
<text x="444.1" y="175.8" text-anchor="middle" textLength="18.0" lengthAdjust="spacingAndGlyphs">120</text>
</g>
<text y="12.7" font-size="13"><tspan x="80.90" textLength="39.60" lengthAdjust="spacingAndGlyphs">Length</tspan> <tspan x="125.50" textLength="12.50" lengthAdjust="spacingAndGlyphs">of</tspan> <tspan x="141.00" textLength="22.00" lengthAdjust="spacingAndGlyphs">Stay</tspan> <tspan x="168.80" textLength="4.00" lengthAdjust="spacingAndGlyphs">-</tspan> <tspan x="177.80" textLength="25.90" lengthAdjust="spacingAndGlyphs">Mob</tspan> <tspan x="208.00" textLength="43.80" lengthAdjust="spacingAndGlyphs">Change</tspan> <tspan x="256.90" textLength="62.30" lengthAdjust="spacingAndGlyphs">(MGA[red]</tspan> <tspan x="324.20" textLength="6.10" lengthAdjust="spacingAndGlyphs">+</tspan> <tspan x="335.60" textLength="67.90" lengthAdjust="spacingAndGlyphs">MCA[blue])</tspan> </text>
<text y="246.1" font-size="12.4"><tspan x="212.6" textLength="36.6" lengthAdjust="spacingAndGlyphs">Length</tspan> <tspan x="253.6" textLength="12.3" lengthAdjust="spacingAndGlyphs">of</tspan> <tspan x="268.4" textLength="21.6" lengthAdjust="spacingAndGlyphs">Stay</tspan></text>
<text transform="translate(12.9 167.3) rotate(-90)" font-size="12.4"><tspan x="0" textLength="24.9" lengthAdjust="spacingAndGlyphs">Mob</tspan> <tspan x="28.0" textLength="39.2" lengthAdjust="spacingAndGlyphs">Change</tspan></text>
</svg></body></html>
